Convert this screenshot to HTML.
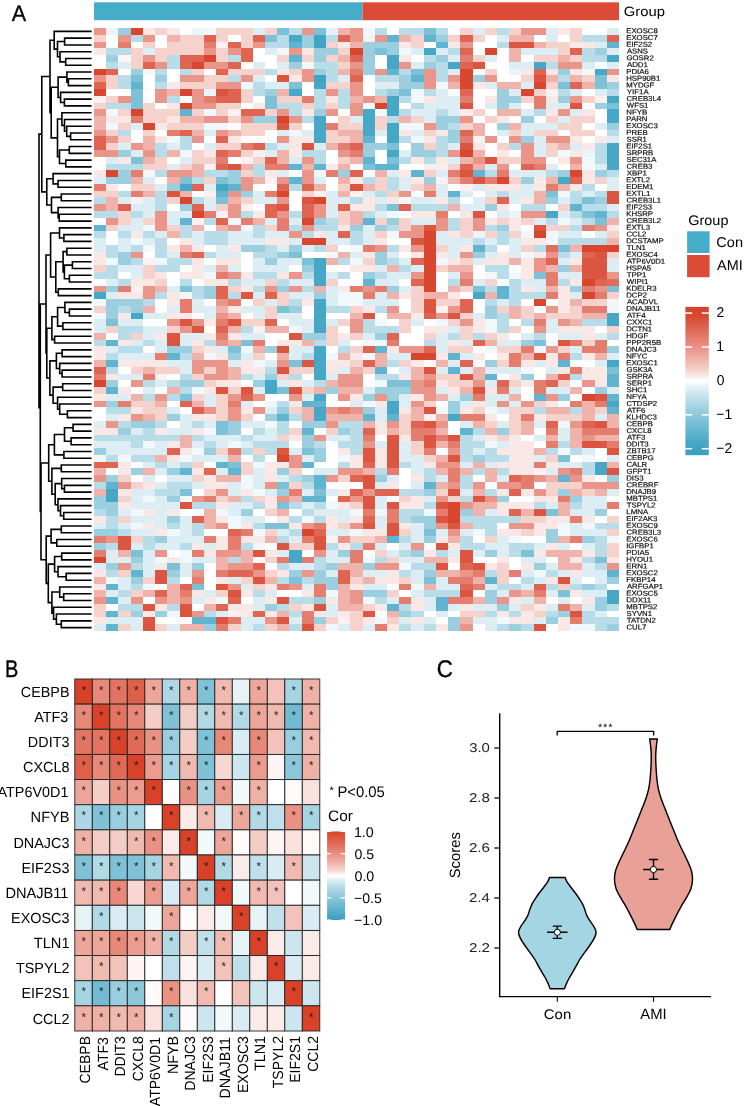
<!DOCTYPE html><html><head><meta charset="utf-8"><title>Figure</title>
<style>html,body{margin:0;padding:0;background:#fff;overflow:hidden;}svg{display:block;}text{font-family:"Liberation Sans", Arial, Helvetica, sans-serif;text-rendering:geometricPrecision;}</style></head><body>
<svg width="744" height="1106" viewBox="0 0 744 1106">
<rect x="0" y="0" width="744" height="1106" fill="#fff"/>
<text transform="translate(11.86 20.60) scale(0.9634 1)" font-size="22.38" fill="#000" stroke="#000" stroke-width="0.3">A</text>
<rect x="94.00" y="2.3" width="268.60" height="17.9" fill="#45adc9"/>
<rect x="362.60" y="2.3" width="256.40" height="17.9" fill="#dc4b36"/>
<text transform="translate(623.86 16.00) scale(1.1003 1)" font-size="13.46" fill="#000">Group</text>
<g shape-rendering="crispEdges">
<path fill="#e99589" d="M94.0 28.0H106.2V34.8H94.0ZM301.6 28.0H313.8V34.8H301.6ZM350.4 28.0H362.6V34.8H350.4ZM521.3 28.0H533.5V34.8H521.3ZM533.5 28.0H545.7V34.8H533.5ZM118.4 34.8H130.6V41.6H118.4ZM142.8 34.8H155.0V41.6H142.8ZM350.4 34.8H362.6V41.6H350.4ZM374.8 34.8H387.0V41.6H374.8ZM94.0 41.6H106.2V48.3H94.0ZM252.7 41.6H264.9V48.3H252.7ZM460.3 41.6H472.5V48.3H460.3ZM203.9 48.3H216.1V55.1H203.9ZM228.3 48.3H240.5V55.1H228.3ZM289.3 48.3H301.6V55.1H289.3ZM142.8 55.1H155.0V61.9H142.8ZM155.0 61.9H167.3V68.7H155.0ZM203.9 61.9H216.1V68.7H203.9ZM216.1 61.9H228.3V68.7H216.1ZM350.4 61.9H362.6V68.7H350.4ZM399.2 61.9H411.4V68.7H399.2ZM558.0 61.9H570.2V68.7H558.0ZM570.2 61.9H582.4V68.7H570.2ZM301.6 68.7H313.8V75.4H301.6ZM374.8 68.7H387.0V75.4H374.8ZM423.7 68.7H435.9V75.4H423.7ZM606.8 68.7H619.0V75.4H606.8ZM94.0 75.4H106.2V82.2H94.0ZM179.5 75.4H191.7V82.2H179.5ZM191.7 75.4H203.9V82.2H191.7ZM240.5 75.4H252.7V82.2H240.5ZM301.6 75.4H313.8V82.2H301.6ZM423.7 75.4H435.9V82.2H423.7ZM448.1 75.4H460.3V82.2H448.1ZM484.7 75.4H496.9V82.2H484.7ZM216.1 82.2H228.3V89.0H216.1ZM228.3 82.2H240.5V89.0H228.3ZM350.4 82.2H362.6V89.0H350.4ZM423.7 82.2H435.9V89.0H423.7ZM155.0 89.0H167.3V95.8H155.0ZM191.7 89.0H203.9V95.8H191.7ZM326.0 89.0H338.2V95.8H326.0ZM350.4 89.0H362.6V95.8H350.4ZM118.4 95.8H130.6V102.5H118.4ZM155.0 95.8H167.3V102.5H155.0ZM191.7 95.8H203.9V102.5H191.7ZM362.6 95.8H374.8V102.5H362.6ZM570.2 95.8H582.4V102.5H570.2ZM191.7 102.5H203.9V109.3H191.7ZM203.9 102.5H216.1V109.3H203.9ZM350.4 102.5H362.6V109.3H350.4ZM94.0 109.3H106.2V116.1H94.0ZM277.1 109.3H289.3V116.1H277.1ZM326.0 109.3H338.2V116.1H326.0ZM350.4 109.3H362.6V116.1H350.4ZM558.0 109.3H570.2V116.1H558.0ZM203.9 116.1H216.1V122.9H203.9ZM216.1 116.1H228.3V122.9H216.1ZM240.5 116.1H252.7V122.9H240.5ZM289.3 116.1H301.6V122.9H289.3ZM460.3 116.1H472.5V122.9H460.3ZM423.7 122.9H435.9V129.6H423.7ZM94.0 129.6H106.2V136.4H94.0ZM216.1 129.6H228.3V136.4H216.1ZM106.2 136.4H118.4V143.2H106.2ZM191.7 136.4H203.9V143.2H191.7ZM277.1 136.4H289.3V143.2H277.1ZM484.7 136.4H496.9V143.2H484.7ZM509.1 136.4H521.3V143.2H509.1ZM545.7 136.4H558.0V143.2H545.7ZM558.0 136.4H570.2V143.2H558.0ZM130.6 143.2H142.8V150.0H130.6ZM521.3 143.2H533.5V150.0H521.3ZM94.0 150.0H106.2V156.7H94.0ZM106.2 150.0H118.4V156.7H106.2ZM142.8 150.0H155.0V156.7H142.8ZM338.2 150.0H350.4V156.7H338.2ZM448.1 150.0H460.3V156.7H448.1ZM521.3 150.0H533.5V156.7H521.3ZM301.6 156.7H313.8V163.5H301.6ZM472.5 156.7H484.7V163.5H472.5ZM521.3 156.7H533.5V163.5H521.3ZM533.5 156.7H545.7V163.5H533.5ZM570.2 156.7H582.4V163.5H570.2ZM496.9 163.5H509.1V170.3H496.9ZM167.3 170.3H179.5V177.1H167.3ZM179.5 170.3H191.7V177.1H179.5ZM301.6 170.3H313.8V177.1H301.6ZM240.5 177.1H252.7V183.8H240.5ZM277.1 177.1H289.3V183.8H277.1ZM301.6 177.1H313.8V183.8H301.6ZM240.5 183.8H252.7V190.6H240.5ZM228.3 190.6H240.5V197.4H228.3ZM399.2 190.6H411.4V197.4H399.2ZM277.1 197.4H289.3V204.2H277.1ZM94.0 204.2H106.2V210.9H94.0ZM228.3 204.2H240.5V210.9H228.3ZM313.8 204.2H326.0V210.9H313.8ZM155.0 210.9H167.3V217.7H155.0ZM228.3 210.9H240.5V217.7H228.3ZM277.1 210.9H289.3V217.7H277.1ZM313.8 210.9H326.0V217.7H313.8ZM521.3 210.9H533.5V217.7H521.3ZM533.5 210.9H545.7V217.7H533.5ZM106.2 217.7H118.4V224.5H106.2ZM155.0 217.7H167.3V224.5H155.0ZM435.9 217.7H448.1V224.5H435.9ZM472.5 217.7H484.7V224.5H472.5ZM155.0 224.5H167.3V231.3H155.0ZM228.3 224.5H240.5V231.3H228.3ZM301.6 224.5H313.8V231.3H301.6ZM411.4 224.5H423.7V231.3H411.4ZM435.9 224.5H448.1V231.3H435.9ZM472.5 224.5H484.7V231.3H472.5ZM594.6 224.5H606.8V231.3H594.6ZM289.3 231.3H301.6V238.0H289.3ZM399.2 231.3H411.4V238.0H399.2ZM411.4 231.3H423.7V238.0H411.4ZM374.8 244.8H387.0V251.6H374.8ZM411.4 244.8H423.7V251.6H411.4ZM130.6 251.6H142.8V258.4H130.6ZM460.3 251.6H472.5V258.4H460.3ZM545.7 251.6H558.0V258.4H545.7ZM533.5 258.4H545.7V265.1H533.5ZM533.5 265.1H545.7V271.9H533.5ZM228.3 271.9H240.5V278.7H228.3ZM289.3 271.9H301.6V278.7H289.3ZM411.4 271.9H423.7V278.7H411.4ZM460.3 271.9H472.5V278.7H460.3ZM606.8 271.9H619.0V278.7H606.8ZM94.0 285.5H106.2V292.2H94.0ZM142.8 285.5H155.0V292.2H142.8ZM264.9 285.5H277.1V292.2H264.9ZM289.3 285.5H301.6V292.2H289.3ZM362.6 285.5H374.8V292.2H362.6ZM594.6 285.5H606.8V292.2H594.6ZM142.8 292.2H155.0V299.0H142.8ZM216.1 299.0H228.3V305.8H216.1ZM387.0 305.8H399.2V312.6H387.0ZM448.1 305.8H460.3V312.6H448.1ZM545.7 305.8H558.0V312.6H545.7ZM216.1 312.6H228.3V319.3H216.1ZM435.9 312.6H448.1V319.3H435.9ZM167.3 319.3H179.5V326.1H167.3ZM191.7 319.3H203.9V326.1H191.7ZM350.4 319.3H362.6V326.1H350.4ZM460.3 319.3H472.5V326.1H460.3ZM558.0 319.3H570.2V326.1H558.0ZM179.5 326.1H191.7V332.9H179.5ZM350.4 326.1H362.6V332.9H350.4ZM533.5 326.1H545.7V332.9H533.5ZM216.1 339.7H228.3V346.4H216.1ZM399.2 346.4H411.4V353.2H399.2ZM411.4 346.4H423.7V353.2H411.4ZM545.7 346.4H558.0V353.2H545.7ZM191.7 360.0H203.9V366.8H191.7ZM203.9 360.0H216.1V366.8H203.9ZM216.1 360.0H228.3V366.8H216.1ZM277.1 360.0H289.3V366.8H277.1ZM191.7 366.8H203.9V373.5H191.7ZM216.1 366.8H228.3V373.5H216.1ZM203.9 373.5H216.1V380.3H203.9ZM216.1 373.5H228.3V380.3H216.1ZM338.2 373.5H350.4V380.3H338.2ZM350.4 373.5H362.6V380.3H350.4ZM423.7 373.5H435.9V380.3H423.7ZM130.6 380.3H142.8V387.1H130.6ZM338.2 380.3H350.4V387.1H338.2ZM350.4 380.3H362.6V387.1H350.4ZM411.4 380.3H423.7V387.1H411.4ZM472.5 380.3H484.7V387.1H472.5ZM582.4 380.3H594.6V387.1H582.4ZM411.4 387.1H423.7V393.9H411.4ZM423.7 387.1H435.9V393.9H423.7ZM155.0 393.9H167.3V400.6H155.0ZM228.3 393.9H240.5V400.6H228.3ZM252.7 393.9H264.9V400.6H252.7ZM289.3 393.9H301.6V400.6H289.3ZM338.2 393.9H350.4V400.6H338.2ZM374.8 393.9H387.0V400.6H374.8ZM423.7 393.9H435.9V400.6H423.7ZM545.7 393.9H558.0V400.6H545.7ZM94.0 400.6H106.2V407.4H94.0ZM411.4 400.6H423.7V407.4H411.4ZM496.9 400.6H509.1V407.4H496.9ZM521.3 400.6H533.5V407.4H521.3ZM203.9 407.4H216.1V414.2H203.9ZM228.3 407.4H240.5V414.2H228.3ZM252.7 407.4H264.9V414.2H252.7ZM326.0 407.4H338.2V414.2H326.0ZM350.4 407.4H362.6V414.2H350.4ZM130.6 414.2H142.8V421.0H130.6ZM228.3 414.2H240.5V421.0H228.3ZM106.2 421.0H118.4V427.7H106.2ZM326.0 421.0H338.2V427.7H326.0ZM387.0 421.0H399.2V427.7H387.0ZM435.9 421.0H448.1V427.7H435.9ZM570.2 421.0H582.4V427.7H570.2ZM313.8 434.5H326.0V441.3H313.8ZM582.4 434.5H594.6V441.3H582.4ZM362.6 441.3H374.8V448.1H362.6ZM448.1 448.1H460.3V454.8H448.1ZM289.3 454.8H301.6V461.6H289.3ZM289.3 461.6H301.6V468.4H289.3ZM435.9 461.6H448.1V468.4H435.9ZM448.1 461.6H460.3V468.4H448.1ZM338.2 468.4H350.4V475.2H338.2ZM350.4 468.4H362.6V475.2H350.4ZM558.0 468.4H570.2V475.2H558.0ZM94.0 475.2H106.2V481.9H94.0ZM326.0 475.2H338.2V481.9H326.0ZM533.5 475.2H545.7V481.9H533.5ZM570.2 475.2H582.4V481.9H570.2ZM118.4 481.9H130.6V488.7H118.4ZM264.9 481.9H277.1V488.7H264.9ZM448.1 481.9H460.3V488.7H448.1ZM472.5 481.9H484.7V488.7H472.5ZM496.9 481.9H509.1V488.7H496.9ZM509.1 481.9H521.3V488.7H509.1ZM582.4 481.9H594.6V488.7H582.4ZM594.6 481.9H606.8V488.7H594.6ZM606.8 481.9H619.0V488.7H606.8ZM216.1 488.7H228.3V495.5H216.1ZM362.6 488.7H374.8V495.5H362.6ZM533.5 488.7H545.7V495.5H533.5ZM191.7 495.5H203.9V502.3H191.7ZM277.1 495.5H289.3V502.3H277.1ZM350.4 495.5H362.6V502.3H350.4ZM435.9 495.5H448.1V502.3H435.9ZM484.7 495.5H496.9V502.3H484.7ZM460.3 502.3H472.5V509.0H460.3ZM216.1 522.6H228.3V529.4H216.1ZM301.6 522.6H313.8V529.4H301.6ZM350.4 522.6H362.6V529.4H350.4ZM435.9 522.6H448.1V529.4H435.9ZM509.1 522.6H521.3V529.4H509.1ZM521.3 522.6H533.5V529.4H521.3ZM448.1 529.4H460.3V536.1H448.1ZM106.2 536.1H118.4V542.9H106.2ZM338.2 536.1H350.4V542.9H338.2ZM411.4 542.9H423.7V549.7H411.4ZM155.0 549.7H167.3V556.5H155.0ZM216.1 549.7H228.3V556.5H216.1ZM228.3 549.7H240.5V556.5H228.3ZM313.8 549.7H326.0V556.5H313.8ZM118.4 563.2H130.6V570.0H118.4ZM228.3 563.2H240.5V570.0H228.3ZM240.5 563.2H252.7V570.0H240.5ZM374.8 563.2H387.0V570.0H374.8ZM387.0 563.2H399.2V570.0H387.0ZM606.8 563.2H619.0V570.0H606.8ZM191.7 570.0H203.9V576.8H191.7ZM252.7 570.0H264.9V576.8H252.7ZM301.6 570.0H313.8V576.8H301.6ZM460.3 570.0H472.5V576.8H460.3ZM228.3 583.6H240.5V590.3H228.3ZM289.3 583.6H301.6V590.3H289.3ZM350.4 590.3H362.6V597.1H350.4ZM509.1 590.3H521.3V597.1H509.1ZM94.0 597.1H106.2V603.9H94.0ZM130.6 597.1H142.8V603.9H130.6ZM155.0 597.1H167.3V603.9H155.0ZM179.5 597.1H191.7V603.9H179.5ZM350.4 597.1H362.6V603.9H350.4ZM496.9 597.1H509.1V603.9H496.9ZM191.7 610.7H203.9V617.4H191.7ZM264.9 617.4H277.1V624.2H264.9ZM460.3 624.2H472.5V631.0H460.3Z"/>
<path fill="#eaf5f9" d="M106.2 28.0H118.4V34.8H106.2ZM191.7 28.0H203.9V34.8H191.7ZM509.1 68.7H521.3V75.4H509.1ZM203.9 89.0H216.1V95.8H203.9ZM582.4 150.0H594.6V156.7H582.4ZM509.1 210.9H521.3V217.7H509.1ZM472.5 231.3H484.7V238.0H472.5Z"/>
<path fill="#9bcfe0" d="M118.4 28.0H130.6V34.8H118.4ZM301.6 34.8H313.8V41.6H301.6ZM435.9 34.8H448.1V41.6H435.9ZM301.6 41.6H313.8V48.3H301.6ZM362.6 41.6H374.8V48.3H362.6ZM374.8 41.6H387.0V48.3H374.8ZM387.0 41.6H399.2V48.3H387.0ZM313.8 48.3H326.0V55.1H313.8ZM326.0 48.3H338.2V55.1H326.0ZM362.6 48.3H374.8V55.1H362.6ZM387.0 48.3H399.2V55.1H387.0ZM594.6 48.3H606.8V55.1H594.6ZM106.2 55.1H118.4V61.9H106.2ZM313.8 55.1H326.0V61.9H313.8ZM362.6 55.1H374.8V61.9H362.6ZM435.9 55.1H448.1V61.9H435.9ZM289.3 61.9H301.6V68.7H289.3ZM362.6 61.9H374.8V68.7H362.6ZM423.7 61.9H435.9V68.7H423.7ZM130.6 68.7H142.8V75.4H130.6ZM313.8 68.7H326.0V75.4H313.8ZM362.6 68.7H374.8V75.4H362.6ZM558.0 68.7H570.2V75.4H558.0ZM155.0 75.4H167.3V82.2H155.0ZM399.2 75.4H411.4V82.2H399.2ZM472.5 75.4H484.7V82.2H472.5ZM399.2 82.2H411.4V89.0H399.2ZM411.4 82.2H423.7V89.0H411.4ZM606.8 82.2H619.0V89.0H606.8ZM264.9 89.0H277.1V95.8H264.9ZM387.0 89.0H399.2V95.8H387.0ZM496.9 89.0H509.1V95.8H496.9ZM496.9 95.8H509.1V102.5H496.9ZM509.1 95.8H521.3V102.5H509.1ZM558.0 95.8H570.2V102.5H558.0ZM496.9 102.5H509.1V109.3H496.9ZM594.6 102.5H606.8V109.3H594.6ZM313.8 109.3H326.0V116.1H313.8ZM252.7 116.1H264.9V122.9H252.7ZM264.9 116.1H277.1V122.9H264.9ZM435.9 116.1H448.1V122.9H435.9ZM448.1 116.1H460.3V122.9H448.1ZM521.3 116.1H533.5V122.9H521.3ZM435.9 122.9H448.1V129.6H435.9ZM496.9 122.9H509.1V129.6H496.9ZM606.8 122.9H619.0V129.6H606.8ZM448.1 129.6H460.3V136.4H448.1ZM448.1 136.4H460.3V143.2H448.1ZM521.3 136.4H533.5V143.2H521.3ZM362.6 143.2H374.8V150.0H362.6ZM374.8 143.2H387.0V150.0H374.8ZM411.4 143.2H423.7V150.0H411.4ZM118.4 150.0H130.6V156.7H118.4ZM362.6 150.0H374.8V156.7H362.6ZM411.4 150.0H423.7V156.7H411.4ZM423.7 150.0H435.9V156.7H423.7ZM118.4 170.3H130.6V177.1H118.4ZM228.3 170.3H240.5V177.1H228.3ZM338.2 170.3H350.4V177.1H338.2ZM558.0 170.3H570.2V177.1H558.0ZM594.6 170.3H606.8V177.1H594.6ZM106.2 177.1H118.4V183.8H106.2ZM118.4 177.1H130.6V183.8H118.4ZM228.3 177.1H240.5V183.8H228.3ZM423.7 177.1H435.9V183.8H423.7ZM521.3 177.1H533.5V183.8H521.3ZM167.3 183.8H179.5V190.6H167.3ZM240.5 190.6H252.7V197.4H240.5ZM545.7 197.4H558.0V204.2H545.7ZM594.6 197.4H606.8V204.2H594.6ZM179.5 204.2H191.7V210.9H179.5ZM484.7 204.2H496.9V210.9H484.7ZM313.8 217.7H326.0V224.5H313.8ZM387.0 217.7H399.2V224.5H387.0ZM350.4 224.5H362.6V231.3H350.4ZM374.8 224.5H387.0V231.3H374.8ZM496.9 224.5H509.1V231.3H496.9ZM240.5 244.8H252.7V251.6H240.5ZM252.7 244.8H264.9V251.6H252.7ZM289.3 244.8H301.6V251.6H289.3ZM118.4 251.6H130.6V258.4H118.4ZM277.1 251.6H289.3V258.4H277.1ZM374.8 251.6H387.0V258.4H374.8ZM472.5 251.6H484.7V258.4H472.5ZM118.4 258.4H130.6V265.1H118.4ZM264.9 258.4H277.1V265.1H264.9ZM374.8 258.4H387.0V265.1H374.8ZM301.6 265.1H313.8V271.9H301.6ZM558.0 265.1H570.2V271.9H558.0ZM362.6 271.9H374.8V278.7H362.6ZM106.2 285.5H118.4V292.2H106.2ZM203.9 285.5H216.1V292.2H203.9ZM277.1 285.5H289.3V292.2H277.1ZM387.0 285.5H399.2V292.2H387.0ZM570.2 285.5H582.4V292.2H570.2ZM203.9 292.2H216.1V299.0H203.9ZM313.8 292.2H326.0V299.0H313.8ZM106.2 299.0H118.4V305.8H106.2ZM118.4 299.0H130.6V305.8H118.4ZM130.6 299.0H142.8V305.8H130.6ZM106.2 305.8H118.4V312.6H106.2ZM130.6 305.8H142.8V312.6H130.6ZM289.3 305.8H301.6V312.6H289.3ZM484.7 305.8H496.9V312.6H484.7ZM106.2 312.6H118.4V319.3H106.2ZM484.7 312.6H496.9V319.3H484.7ZM301.6 332.9H313.8V339.7H301.6ZM313.8 332.9H326.0V339.7H313.8ZM374.8 332.9H387.0V339.7H374.8ZM521.3 339.7H533.5V346.4H521.3ZM167.3 346.4H179.5V353.2H167.3ZM179.5 346.4H191.7V353.2H179.5ZM264.9 346.4H277.1V353.2H264.9ZM606.8 346.4H619.0V353.2H606.8ZM228.3 353.2H240.5V360.0H228.3ZM484.7 360.0H496.9V366.8H484.7ZM264.9 373.5H277.1V380.3H264.9ZM521.3 373.5H533.5V380.3H521.3ZM106.2 380.3H118.4V387.1H106.2ZM179.5 380.3H191.7V387.1H179.5ZM191.7 380.3H203.9V387.1H191.7ZM252.7 380.3H264.9V387.1H252.7ZM326.0 387.1H338.2V393.9H326.0ZM374.8 387.1H387.0V393.9H374.8ZM387.0 387.1H399.2V393.9H387.0ZM399.2 387.1H411.4V393.9H399.2ZM594.6 387.1H606.8V393.9H594.6ZM362.6 393.9H374.8V400.6H362.6ZM387.0 393.9H399.2V400.6H387.0ZM460.3 393.9H472.5V400.6H460.3ZM558.0 393.9H570.2V400.6H558.0ZM106.2 400.6H118.4V407.4H106.2ZM448.1 400.6H460.3V407.4H448.1ZM277.1 407.4H289.3V414.2H277.1ZM362.6 407.4H374.8V414.2H362.6ZM448.1 407.4H460.3V414.2H448.1ZM167.3 414.2H179.5V421.0H167.3ZM264.9 414.2H277.1V421.0H264.9ZM130.6 421.0H142.8V427.7H130.6ZM142.8 421.0H155.0V427.7H142.8ZM228.3 421.0H240.5V427.7H228.3ZM301.6 421.0H313.8V427.7H301.6ZM313.8 421.0H326.0V427.7H313.8ZM118.4 427.7H130.6V434.5H118.4ZM228.3 427.7H240.5V434.5H228.3ZM338.2 427.7H350.4V434.5H338.2ZM496.9 427.7H509.1V434.5H496.9ZM301.6 434.5H313.8V441.3H301.6ZM301.6 441.3H313.8V448.1H301.6ZM94.0 448.1H106.2V454.8H94.0ZM203.9 448.1H216.1V454.8H203.9ZM313.8 448.1H326.0V454.8H313.8ZM313.8 454.8H326.0V461.6H313.8ZM472.5 454.8H484.7V461.6H472.5ZM130.6 468.4H142.8V475.2H130.6ZM167.3 468.4H179.5V475.2H167.3ZM277.1 468.4H289.3V475.2H277.1ZM106.2 475.2H118.4V481.9H106.2ZM301.6 475.2H313.8V481.9H301.6ZM374.8 475.2H387.0V481.9H374.8ZM606.8 475.2H619.0V481.9H606.8ZM277.1 488.7H289.3V495.5H277.1ZM423.7 488.7H435.9V495.5H423.7ZM558.0 488.7H570.2V495.5H558.0ZM94.0 495.5H106.2V502.3H94.0ZM167.3 495.5H179.5V502.3H167.3ZM496.9 495.5H509.1V502.3H496.9ZM570.2 495.5H582.4V502.3H570.2ZM94.0 502.3H106.2V509.0H94.0ZM106.2 502.3H118.4V509.0H106.2ZM106.2 509.0H118.4V515.8H106.2ZM240.5 509.0H252.7V515.8H240.5ZM460.3 509.0H472.5V515.8H460.3ZM594.6 509.0H606.8V515.8H594.6ZM167.3 515.8H179.5V522.6H167.3ZM411.4 515.8H423.7V522.6H411.4ZM423.7 515.8H435.9V522.6H423.7ZM423.7 522.6H435.9V529.4H423.7ZM94.0 529.4H106.2V536.1H94.0ZM106.2 529.4H118.4V536.1H106.2ZM545.7 529.4H558.0V536.1H545.7ZM155.0 536.1H167.3V542.9H155.0ZM423.7 536.1H435.9V542.9H423.7ZM545.7 536.1H558.0V542.9H545.7ZM582.4 536.1H594.6V542.9H582.4ZM94.0 542.9H106.2V549.7H94.0ZM338.2 549.7H350.4V556.5H338.2ZM411.4 549.7H423.7V556.5H411.4ZM484.7 549.7H496.9V556.5H484.7ZM130.6 556.5H142.8V563.2H130.6ZM106.2 563.2H118.4V570.0H106.2ZM191.7 563.2H203.9V570.0H191.7ZM326.0 563.2H338.2V570.0H326.0ZM362.6 563.2H374.8V570.0H362.6ZM533.5 563.2H545.7V570.0H533.5ZM167.3 570.0H179.5V576.8H167.3ZM289.3 570.0H301.6V576.8H289.3ZM313.8 570.0H326.0V576.8H313.8ZM423.7 570.0H435.9V576.8H423.7ZM130.6 576.8H142.8V583.6H130.6ZM313.8 576.8H326.0V583.6H313.8ZM326.0 576.8H338.2V583.6H326.0ZM606.8 576.8H619.0V583.6H606.8ZM326.0 583.6H338.2V590.3H326.0ZM582.4 583.6H594.6V590.3H582.4ZM362.6 590.3H374.8V597.1H362.6ZM374.8 590.3H387.0V597.1H374.8ZM484.7 590.3H496.9V597.1H484.7ZM313.8 597.1H326.0V603.9H313.8ZM484.7 597.1H496.9V603.9H484.7ZM594.6 597.1H606.8V603.9H594.6ZM264.9 603.9H277.1V610.7H264.9ZM496.9 603.9H509.1V610.7H496.9ZM594.6 603.9H606.8V610.7H594.6ZM130.6 610.7H142.8V617.4H130.6ZM155.0 610.7H167.3V617.4H155.0ZM399.2 610.7H411.4V617.4H399.2ZM558.0 610.7H570.2V617.4H558.0ZM313.8 617.4H326.0V624.2H313.8ZM448.1 617.4H460.3V624.2H448.1ZM545.7 617.4H558.0V624.2H545.7ZM203.9 624.2H216.1V631.0H203.9ZM448.1 624.2H460.3V631.0H448.1ZM509.1 624.2H521.3V631.0H509.1ZM606.8 624.2H619.0V631.0H606.8Z"/>
<path fill="#d94630" d="M130.6 28.0H142.8V34.8H130.6ZM350.4 48.3H362.6V55.1H350.4ZM484.7 48.3H496.9V55.1H484.7ZM203.9 55.1H216.1V61.9H203.9ZM191.7 61.9H203.9V68.7H191.7ZM94.0 68.7H106.2V75.4H94.0ZM460.3 68.7H472.5V75.4H460.3ZM460.3 75.4H472.5V82.2H460.3ZM460.3 82.2H472.5V89.0H460.3ZM533.5 82.2H545.7V89.0H533.5ZM94.0 89.0H106.2V95.8H94.0ZM179.5 89.0H191.7V95.8H179.5ZM521.3 89.0H533.5V95.8H521.3ZM179.5 102.5H191.7V109.3H179.5ZM374.8 102.5H387.0V109.3H374.8ZM130.6 109.3H142.8V116.1H130.6ZM277.1 116.1H289.3V122.9H277.1ZM142.8 122.9H155.0V129.6H142.8ZM460.3 150.0H472.5V156.7H460.3ZM106.2 170.3H118.4V177.1H106.2ZM570.2 170.3H582.4V177.1H570.2ZM496.9 177.1H509.1V183.8H496.9ZM277.1 190.6H289.3V197.4H277.1ZM179.5 197.4H191.7V204.2H179.5ZM313.8 197.4H326.0V204.2H313.8ZM191.7 210.9H203.9V217.7H191.7ZM301.6 217.7H313.8V224.5H301.6ZM423.7 231.3H435.9V238.0H423.7ZM533.5 231.3H545.7V238.0H533.5ZM301.6 238.0H313.8V244.8H301.6ZM313.8 238.0H326.0V244.8H313.8ZM423.7 238.0H435.9V244.8H423.7ZM423.7 244.8H435.9V251.6H423.7ZM582.4 244.8H594.6V251.6H582.4ZM594.6 244.8H606.8V251.6H594.6ZM606.8 244.8H619.0V251.6H606.8ZM423.7 251.6H435.9V258.4H423.7ZM423.7 258.4H435.9V265.1H423.7ZM423.7 265.1H435.9V271.9H423.7ZM423.7 271.9H435.9V278.7H423.7ZM423.7 278.7H435.9V285.5H423.7ZM582.4 278.7H594.6V285.5H582.4ZM423.7 285.5H435.9V292.2H423.7ZM582.4 292.2H594.6V299.0H582.4ZM533.5 299.0H545.7V305.8H533.5ZM411.4 353.2H423.7V360.0H411.4ZM423.7 353.2H435.9V360.0H423.7ZM94.0 380.3H106.2V387.1H94.0ZM582.4 393.9H594.6V400.6H582.4ZM277.1 454.8H289.3V461.6H277.1ZM448.1 502.3H460.3V509.0H448.1ZM448.1 509.0H460.3V515.8H448.1ZM448.1 515.8H460.3V522.6H448.1ZM301.6 529.4H313.8V536.1H301.6ZM94.0 556.5H106.2V563.2H94.0Z"/>
<path fill="#fae8e6" d="M142.8 28.0H155.0V34.8H142.8ZM167.3 28.0H179.5V34.8H167.3ZM558.0 28.0H570.2V34.8H558.0ZM338.2 41.6H350.4V48.3H338.2ZM399.2 41.6H411.4V48.3H399.2ZM448.1 41.6H460.3V48.3H448.1ZM570.2 41.6H582.4V48.3H570.2ZM582.4 41.6H594.6V48.3H582.4ZM94.0 48.3H106.2V55.1H94.0ZM301.6 48.3H313.8V55.1H301.6ZM399.2 55.1H411.4V61.9H399.2ZM277.1 68.7H289.3V75.4H277.1ZM521.3 68.7H533.5V75.4H521.3ZM545.7 68.7H558.0V75.4H545.7ZM570.2 68.7H582.4V75.4H570.2ZM289.3 75.4H301.6V82.2H289.3ZM606.8 75.4H619.0V82.2H606.8ZM167.3 82.2H179.5V89.0H167.3ZM472.5 82.2H484.7V89.0H472.5ZM326.0 95.8H338.2V102.5H326.0ZM423.7 95.8H435.9V102.5H423.7ZM484.7 95.8H496.9V102.5H484.7ZM545.7 95.8H558.0V102.5H545.7ZM167.3 102.5H179.5V109.3H167.3ZM252.7 102.5H264.9V109.3H252.7ZM301.6 109.3H313.8V116.1H301.6ZM545.7 109.3H558.0V116.1H545.7ZM582.4 109.3H594.6V116.1H582.4ZM106.2 116.1H118.4V122.9H106.2ZM118.4 116.1H130.6V122.9H118.4ZM167.3 116.1H179.5V122.9H167.3ZM496.9 116.1H509.1V122.9H496.9ZM155.0 122.9H167.3V129.6H155.0ZM399.2 129.6H411.4V136.4H399.2ZM435.9 129.6H448.1V136.4H435.9ZM155.0 136.4H167.3V143.2H155.0ZM228.3 136.4H240.5V143.2H228.3ZM289.3 136.4H301.6V143.2H289.3ZM301.6 136.4H313.8V143.2H301.6ZM423.7 136.4H435.9V143.2H423.7ZM570.2 136.4H582.4V143.2H570.2ZM594.6 136.4H606.8V143.2H594.6ZM289.3 143.2H301.6V150.0H289.3ZM472.5 143.2H484.7V150.0H472.5ZM582.4 143.2H594.6V150.0H582.4ZM203.9 150.0H216.1V156.7H203.9ZM289.3 150.0H301.6V156.7H289.3ZM496.9 150.0H509.1V156.7H496.9ZM570.2 150.0H582.4V156.7H570.2ZM118.4 156.7H130.6V163.5H118.4ZM411.4 156.7H423.7V163.5H411.4ZM435.9 156.7H448.1V163.5H435.9ZM558.0 156.7H570.2V163.5H558.0ZM326.0 163.5H338.2V170.3H326.0ZM94.0 170.3H106.2V177.1H94.0ZM264.9 170.3H277.1V177.1H264.9ZM399.2 170.3H411.4V177.1H399.2ZM582.4 170.3H594.6V177.1H582.4ZM350.4 177.1H362.6V183.8H350.4ZM411.4 177.1H423.7V183.8H411.4ZM533.5 177.1H545.7V183.8H533.5ZM582.4 177.1H594.6V183.8H582.4ZM106.2 183.8H118.4V190.6H106.2ZM484.7 183.8H496.9V190.6H484.7ZM496.9 183.8H509.1V190.6H496.9ZM509.1 183.8H521.3V190.6H509.1ZM533.5 183.8H545.7V190.6H533.5ZM570.2 183.8H582.4V190.6H570.2ZM362.6 197.4H374.8V204.2H362.6ZM387.0 197.4H399.2V204.2H387.0ZM435.9 197.4H448.1V204.2H435.9ZM521.3 197.4H533.5V204.2H521.3ZM350.4 204.2H362.6V210.9H350.4ZM362.6 204.2H374.8V210.9H362.6ZM496.9 204.2H509.1V210.9H496.9ZM252.7 210.9H264.9V217.7H252.7ZM411.4 210.9H423.7V217.7H411.4ZM423.7 210.9H435.9V217.7H423.7ZM460.3 210.9H472.5V217.7H460.3ZM484.7 217.7H496.9V224.5H484.7ZM509.1 217.7H521.3V224.5H509.1ZM338.2 224.5H350.4V231.3H338.2ZM509.1 224.5H521.3V231.3H509.1ZM606.8 224.5H619.0V231.3H606.8ZM130.6 231.3H142.8V238.0H130.6ZM313.8 231.3H326.0V238.0H313.8ZM448.1 231.3H460.3V238.0H448.1ZM179.5 238.0H191.7V244.8H179.5ZM264.9 238.0H277.1V244.8H264.9ZM277.1 238.0H289.3V244.8H277.1ZM374.8 238.0H387.0V244.8H374.8ZM521.3 238.0H533.5V244.8H521.3ZM533.5 238.0H545.7V244.8H533.5ZM167.3 244.8H179.5V251.6H167.3ZM191.7 244.8H203.9V251.6H191.7ZM228.3 244.8H240.5V251.6H228.3ZM399.2 244.8H411.4V251.6H399.2ZM460.3 244.8H472.5V251.6H460.3ZM94.0 251.6H106.2V258.4H94.0ZM362.6 251.6H374.8V258.4H362.6ZM411.4 251.6H423.7V258.4H411.4ZM435.9 251.6H448.1V258.4H435.9ZM496.9 251.6H509.1V258.4H496.9ZM533.5 251.6H545.7V258.4H533.5ZM94.0 258.4H106.2V265.1H94.0ZM191.7 258.4H203.9V265.1H191.7ZM216.1 258.4H228.3V265.1H216.1ZM228.3 258.4H240.5V265.1H228.3ZM448.1 258.4H460.3V265.1H448.1ZM484.7 258.4H496.9V265.1H484.7ZM496.9 258.4H509.1V265.1H496.9ZM521.3 258.4H533.5V265.1H521.3ZM570.2 258.4H582.4V265.1H570.2ZM191.7 265.1H203.9V271.9H191.7ZM350.4 265.1H362.6V271.9H350.4ZM362.6 265.1H374.8V271.9H362.6ZM521.3 265.1H533.5V271.9H521.3ZM155.0 271.9H167.3V278.7H155.0ZM179.5 271.9H191.7V278.7H179.5ZM191.7 271.9H203.9V278.7H191.7ZM240.5 271.9H252.7V278.7H240.5ZM277.1 271.9H289.3V278.7H277.1ZM521.3 271.9H533.5V278.7H521.3ZM130.6 278.7H142.8V285.5H130.6ZM142.8 278.7H155.0V285.5H142.8ZM203.9 278.7H216.1V285.5H203.9ZM216.1 278.7H228.3V285.5H216.1ZM570.2 278.7H582.4V285.5H570.2ZM240.5 285.5H252.7V292.2H240.5ZM338.2 285.5H350.4V292.2H338.2ZM521.3 285.5H533.5V292.2H521.3ZM558.0 285.5H570.2V292.2H558.0ZM118.4 292.2H130.6V299.0H118.4ZM130.6 292.2H142.8V299.0H130.6ZM167.3 292.2H179.5V299.0H167.3ZM399.2 292.2H411.4V299.0H399.2ZM448.1 292.2H460.3V299.0H448.1ZM558.0 292.2H570.2V299.0H558.0ZM167.3 299.0H179.5V305.8H167.3ZM301.6 299.0H313.8V305.8H301.6ZM558.0 299.0H570.2V305.8H558.0ZM228.3 305.8H240.5V312.6H228.3ZM362.6 305.8H374.8V312.6H362.6ZM558.0 305.8H570.2V312.6H558.0ZM118.4 312.6H130.6V319.3H118.4ZM167.3 312.6H179.5V319.3H167.3ZM179.5 312.6H191.7V319.3H179.5ZM411.4 312.6H423.7V319.3H411.4ZM203.9 319.3H216.1V326.1H203.9ZM472.5 319.3H484.7V326.1H472.5ZM423.7 326.1H435.9V332.9H423.7ZM435.9 326.1H448.1V332.9H435.9ZM472.5 326.1H484.7V332.9H472.5ZM558.0 326.1H570.2V332.9H558.0ZM570.2 326.1H582.4V332.9H570.2ZM582.4 326.1H594.6V332.9H582.4ZM155.0 332.9H167.3V339.7H155.0ZM203.9 332.9H216.1V339.7H203.9ZM228.3 332.9H240.5V339.7H228.3ZM338.2 332.9H350.4V339.7H338.2ZM496.9 332.9H509.1V339.7H496.9ZM582.4 332.9H594.6V339.7H582.4ZM118.4 339.7H130.6V346.4H118.4ZM191.7 339.7H203.9V346.4H191.7ZM277.1 339.7H289.3V346.4H277.1ZM289.3 339.7H301.6V346.4H289.3ZM448.1 339.7H460.3V346.4H448.1ZM94.0 346.4H106.2V353.2H94.0ZM203.9 346.4H216.1V353.2H203.9ZM387.0 346.4H399.2V353.2H387.0ZM94.0 353.2H106.2V360.0H94.0ZM216.1 353.2H228.3V360.0H216.1ZM350.4 353.2H362.6V360.0H350.4ZM435.9 353.2H448.1V360.0H435.9ZM472.5 353.2H484.7V360.0H472.5ZM496.9 353.2H509.1V360.0H496.9ZM545.7 353.2H558.0V360.0H545.7ZM582.4 353.2H594.6V360.0H582.4ZM118.4 360.0H130.6V366.8H118.4ZM130.6 360.0H142.8V366.8H130.6ZM142.8 360.0H155.0V366.8H142.8ZM155.0 360.0H167.3V366.8H155.0ZM240.5 360.0H252.7V366.8H240.5ZM326.0 360.0H338.2V366.8H326.0ZM338.2 360.0H350.4V366.8H338.2ZM411.4 360.0H423.7V366.8H411.4ZM521.3 360.0H533.5V366.8H521.3ZM545.7 360.0H558.0V366.8H545.7ZM240.5 366.8H252.7V373.5H240.5ZM252.7 366.8H264.9V373.5H252.7ZM326.0 366.8H338.2V373.5H326.0ZM558.0 366.8H570.2V373.5H558.0ZM582.4 366.8H594.6V373.5H582.4ZM594.6 366.8H606.8V373.5H594.6ZM106.2 373.5H118.4V380.3H106.2ZM399.2 373.5H411.4V380.3H399.2ZM509.1 373.5H521.3V380.3H509.1ZM582.4 373.5H594.6V380.3H582.4ZM594.6 373.5H606.8V380.3H594.6ZM216.1 380.3H228.3V387.1H216.1ZM228.3 380.3H240.5V387.1H228.3ZM289.3 380.3H301.6V387.1H289.3ZM435.9 380.3H448.1V387.1H435.9ZM521.3 380.3H533.5V387.1H521.3ZM594.6 380.3H606.8V387.1H594.6ZM118.4 387.1H130.6V393.9H118.4ZM203.9 387.1H216.1V393.9H203.9ZM448.1 387.1H460.3V393.9H448.1ZM484.7 387.1H496.9V393.9H484.7ZM94.0 393.9H106.2V400.6H94.0ZM350.4 393.9H362.6V400.6H350.4ZM411.4 393.9H423.7V400.6H411.4ZM289.3 400.6H301.6V407.4H289.3ZM374.8 400.6H387.0V407.4H374.8ZM472.5 400.6H484.7V407.4H472.5ZM545.7 400.6H558.0V407.4H545.7ZM130.6 407.4H142.8V414.2H130.6ZM240.5 407.4H252.7V414.2H240.5ZM399.2 407.4H411.4V414.2H399.2ZM460.3 407.4H472.5V414.2H460.3ZM118.4 414.2H130.6V421.0H118.4ZM191.7 414.2H203.9V421.0H191.7ZM203.9 414.2H216.1V421.0H203.9ZM484.7 414.2H496.9V421.0H484.7ZM533.5 414.2H545.7V421.0H533.5ZM374.8 421.0H387.0V427.7H374.8ZM94.0 427.7H106.2V434.5H94.0ZM106.2 427.7H118.4V434.5H106.2ZM155.0 427.7H167.3V434.5H155.0ZM191.7 427.7H203.9V434.5H191.7ZM374.8 427.7H387.0V434.5H374.8ZM289.3 434.5H301.6V441.3H289.3ZM399.2 434.5H411.4V441.3H399.2ZM484.7 434.5H496.9V441.3H484.7ZM509.1 434.5H521.3V441.3H509.1ZM167.3 441.3H179.5V448.1H167.3ZM509.1 441.3H521.3V448.1H509.1ZM521.3 441.3H533.5V448.1H521.3ZM179.5 448.1H191.7V454.8H179.5ZM338.2 448.1H350.4V454.8H338.2ZM374.8 448.1H387.0V454.8H374.8ZM496.9 448.1H509.1V454.8H496.9ZM509.1 448.1H521.3V454.8H509.1ZM521.3 448.1H533.5V454.8H521.3ZM167.3 454.8H179.5V461.6H167.3ZM350.4 454.8H362.6V461.6H350.4ZM374.8 454.8H387.0V461.6H374.8ZM509.1 454.8H521.3V461.6H509.1ZM521.3 454.8H533.5V461.6H521.3ZM118.4 461.6H130.6V468.4H118.4ZM264.9 461.6H277.1V468.4H264.9ZM277.1 461.6H289.3V468.4H277.1ZM350.4 461.6H362.6V468.4H350.4ZM374.8 461.6H387.0V468.4H374.8ZM423.7 461.6H435.9V468.4H423.7ZM496.9 461.6H509.1V468.4H496.9ZM509.1 461.6H521.3V468.4H509.1ZM521.3 461.6H533.5V468.4H521.3ZM545.7 461.6H558.0V468.4H545.7ZM118.4 468.4H130.6V475.2H118.4ZM191.7 468.4H203.9V475.2H191.7ZM264.9 468.4H277.1V475.2H264.9ZM509.1 468.4H521.3V475.2H509.1ZM521.3 468.4H533.5V475.2H521.3ZM203.9 475.2H216.1V481.9H203.9ZM264.9 475.2H277.1V481.9H264.9ZM411.4 475.2H423.7V481.9H411.4ZM582.4 475.2H594.6V481.9H582.4ZM142.8 481.9H155.0V488.7H142.8ZM203.9 481.9H216.1V488.7H203.9ZM216.1 481.9H228.3V488.7H216.1ZM387.0 481.9H399.2V488.7H387.0ZM118.4 488.7H130.6V495.5H118.4ZM240.5 488.7H252.7V495.5H240.5ZM338.2 488.7H350.4V495.5H338.2ZM496.9 488.7H509.1V495.5H496.9ZM521.3 488.7H533.5V495.5H521.3ZM264.9 495.5H277.1V502.3H264.9ZM411.4 495.5H423.7V502.3H411.4ZM533.5 495.5H545.7V502.3H533.5ZM545.7 495.5H558.0V502.3H545.7ZM118.4 502.3H130.6V509.0H118.4ZM216.1 502.3H228.3V509.0H216.1ZM264.9 502.3H277.1V509.0H264.9ZM338.2 502.3H350.4V509.0H338.2ZM399.2 502.3H411.4V509.0H399.2ZM411.4 502.3H423.7V509.0H411.4ZM496.9 502.3H509.1V509.0H496.9ZM509.1 502.3H521.3V509.0H509.1ZM521.3 502.3H533.5V509.0H521.3ZM142.8 509.0H155.0V515.8H142.8ZM167.3 509.0H179.5V515.8H167.3ZM496.9 509.0H509.1V515.8H496.9ZM94.0 515.8H106.2V522.6H94.0ZM216.1 515.8H228.3V522.6H216.1ZM277.1 515.8H289.3V522.6H277.1ZM326.0 515.8H338.2V522.6H326.0ZM350.4 515.8H362.6V522.6H350.4ZM545.7 515.8H558.0V522.6H545.7ZM558.0 515.8H570.2V522.6H558.0ZM582.4 515.8H594.6V522.6H582.4ZM142.8 522.6H155.0V529.4H142.8ZM240.5 522.6H252.7V529.4H240.5ZM289.3 522.6H301.6V529.4H289.3ZM326.0 522.6H338.2V529.4H326.0ZM399.2 522.6H411.4V529.4H399.2ZM533.5 522.6H545.7V529.4H533.5ZM545.7 522.6H558.0V529.4H545.7ZM155.0 529.4H167.3V536.1H155.0ZM362.6 529.4H374.8V536.1H362.6ZM374.8 529.4H387.0V536.1H374.8ZM496.9 529.4H509.1V536.1H496.9ZM509.1 529.4H521.3V536.1H509.1ZM533.5 529.4H545.7V536.1H533.5ZM216.1 536.1H228.3V542.9H216.1ZM240.5 536.1H252.7V542.9H240.5ZM252.7 536.1H264.9V542.9H252.7ZM435.9 536.1H448.1V542.9H435.9ZM191.7 542.9H203.9V549.7H191.7ZM216.1 542.9H228.3V549.7H216.1ZM338.2 542.9H350.4V549.7H338.2ZM448.1 542.9H460.3V549.7H448.1ZM545.7 542.9H558.0V549.7H545.7ZM203.9 549.7H216.1V556.5H203.9ZM264.9 549.7H277.1V556.5H264.9ZM423.7 549.7H435.9V556.5H423.7ZM533.5 549.7H545.7V556.5H533.5ZM582.4 549.7H594.6V556.5H582.4ZM167.3 556.5H179.5V563.2H167.3ZM448.1 556.5H460.3V563.2H448.1ZM496.9 556.5H509.1V563.2H496.9ZM570.2 556.5H582.4V563.2H570.2ZM606.8 556.5H619.0V563.2H606.8ZM155.0 563.2H167.3V570.0H155.0ZM484.7 563.2H496.9V570.0H484.7ZM521.3 563.2H533.5V570.0H521.3ZM94.0 570.0H106.2V576.8H94.0ZM277.1 570.0H289.3V576.8H277.1ZM387.0 570.0H399.2V576.8H387.0ZM570.2 570.0H582.4V576.8H570.2ZM216.1 576.8H228.3V583.6H216.1ZM374.8 576.8H387.0V583.6H374.8ZM387.0 576.8H399.2V583.6H387.0ZM545.7 576.8H558.0V583.6H545.7ZM94.0 583.6H106.2V590.3H94.0ZM264.9 583.6H277.1V590.3H264.9ZM350.4 583.6H362.6V590.3H350.4ZM191.7 590.3H203.9V597.1H191.7ZM240.5 590.3H252.7V597.1H240.5ZM301.6 590.3H313.8V597.1H301.6ZM570.2 590.3H582.4V597.1H570.2ZM203.9 597.1H216.1V603.9H203.9ZM264.9 597.1H277.1V603.9H264.9ZM326.0 597.1H338.2V603.9H326.0ZM411.4 597.1H423.7V603.9H411.4ZM509.1 597.1H521.3V603.9H509.1ZM582.4 597.1H594.6V603.9H582.4ZM155.0 603.9H167.3V610.7H155.0ZM228.3 603.9H240.5V610.7H228.3ZM240.5 603.9H252.7V610.7H240.5ZM301.6 603.9H313.8V610.7H301.6ZM374.8 603.9H387.0V610.7H374.8ZM411.4 603.9H423.7V610.7H411.4ZM460.3 603.9H472.5V610.7H460.3ZM533.5 603.9H545.7V610.7H533.5ZM142.8 610.7H155.0V617.4H142.8ZM240.5 610.7H252.7V617.4H240.5ZM264.9 610.7H277.1V617.4H264.9ZM313.8 610.7H326.0V617.4H313.8ZM338.2 610.7H350.4V617.4H338.2ZM496.9 610.7H509.1V617.4H496.9ZM521.3 610.7H533.5V617.4H521.3ZM94.0 617.4H106.2V624.2H94.0ZM362.6 617.4H374.8V624.2H362.6ZM411.4 617.4H423.7V624.2H411.4ZM509.1 617.4H521.3V624.2H509.1ZM521.3 617.4H533.5V624.2H521.3ZM558.0 617.4H570.2V624.2H558.0ZM387.0 624.2H399.2V631.0H387.0ZM435.9 624.2H448.1V631.0H435.9ZM558.0 624.2H570.2V631.0H558.0Z"/>
<path fill="#f6d2cc" d="M155.0 28.0H167.3V34.8H155.0ZM216.1 28.0H228.3V34.8H216.1ZM228.3 28.0H240.5V34.8H228.3ZM240.5 28.0H252.7V34.8H240.5ZM264.9 28.0H277.1V34.8H264.9ZM460.3 28.0H472.5V34.8H460.3ZM484.7 28.0H496.9V34.8H484.7ZM509.1 28.0H521.3V34.8H509.1ZM570.2 28.0H582.4V34.8H570.2ZM94.0 34.8H106.2V41.6H94.0ZM179.5 34.8H191.7V41.6H179.5ZM191.7 34.8H203.9V41.6H191.7ZM216.1 34.8H228.3V41.6H216.1ZM240.5 34.8H252.7V41.6H240.5ZM411.4 34.8H423.7V41.6H411.4ZM448.1 34.8H460.3V41.6H448.1ZM472.5 34.8H484.7V41.6H472.5ZM570.2 34.8H582.4V41.6H570.2ZM142.8 41.6H155.0V48.3H142.8ZM167.3 41.6H179.5V48.3H167.3ZM179.5 41.6H191.7V48.3H179.5ZM191.7 41.6H203.9V48.3H191.7ZM240.5 41.6H252.7V48.3H240.5ZM326.0 41.6H338.2V48.3H326.0ZM411.4 41.6H423.7V48.3H411.4ZM545.7 41.6H558.0V48.3H545.7ZM558.0 41.6H570.2V48.3H558.0ZM130.6 48.3H142.8V55.1H130.6ZM155.0 48.3H167.3V55.1H155.0ZM167.3 48.3H179.5V55.1H167.3ZM179.5 48.3H191.7V55.1H179.5ZM191.7 48.3H203.9V55.1H191.7ZM216.1 48.3H228.3V55.1H216.1ZM338.2 48.3H350.4V55.1H338.2ZM558.0 48.3H570.2V55.1H558.0ZM130.6 55.1H142.8V61.9H130.6ZM155.0 55.1H167.3V61.9H155.0ZM216.1 55.1H228.3V61.9H216.1ZM277.1 55.1H289.3V61.9H277.1ZM301.6 55.1H313.8V61.9H301.6ZM326.0 55.1H338.2V61.9H326.0ZM472.5 55.1H484.7V61.9H472.5ZM533.5 55.1H545.7V61.9H533.5ZM545.7 55.1H558.0V61.9H545.7ZM570.2 55.1H582.4V61.9H570.2ZM130.6 61.9H142.8V68.7H130.6ZM338.2 61.9H350.4V68.7H338.2ZM191.7 68.7H203.9V75.4H191.7ZM228.3 68.7H240.5V75.4H228.3ZM240.5 68.7H252.7V75.4H240.5ZM252.7 68.7H264.9V75.4H252.7ZM289.3 68.7H301.6V75.4H289.3ZM484.7 68.7H496.9V75.4H484.7ZM106.2 75.4H118.4V82.2H106.2ZM203.9 75.4H216.1V82.2H203.9ZM216.1 75.4H228.3V82.2H216.1ZM521.3 75.4H533.5V82.2H521.3ZM582.4 75.4H594.6V82.2H582.4ZM106.2 82.2H118.4V89.0H106.2ZM179.5 82.2H191.7V89.0H179.5ZM191.7 82.2H203.9V89.0H191.7ZM203.9 82.2H216.1V89.0H203.9ZM326.0 82.2H338.2V89.0H326.0ZM338.2 82.2H350.4V89.0H338.2ZM545.7 82.2H558.0V89.0H545.7ZM240.5 89.0H252.7V95.8H240.5ZM533.5 89.0H545.7V95.8H533.5ZM106.2 95.8H118.4V102.5H106.2ZM240.5 95.8H252.7V102.5H240.5ZM277.1 95.8H289.3V102.5H277.1ZM289.3 95.8H301.6V102.5H289.3ZM521.3 95.8H533.5V102.5H521.3ZM582.4 95.8H594.6V102.5H582.4ZM94.0 102.5H106.2V109.3H94.0ZM142.8 102.5H155.0V109.3H142.8ZM216.1 102.5H228.3V109.3H216.1ZM228.3 102.5H240.5V109.3H228.3ZM301.6 102.5H313.8V109.3H301.6ZM326.0 102.5H338.2V109.3H326.0ZM118.4 109.3H130.6V116.1H118.4ZM142.8 109.3H155.0V116.1H142.8ZM155.0 109.3H167.3V116.1H155.0ZM167.3 109.3H179.5V116.1H167.3ZM191.7 109.3H203.9V116.1H191.7ZM216.1 109.3H228.3V116.1H216.1ZM264.9 109.3H277.1V116.1H264.9ZM472.5 109.3H484.7V116.1H472.5ZM142.8 116.1H155.0V122.9H142.8ZM155.0 116.1H167.3V122.9H155.0ZM228.3 116.1H240.5V122.9H228.3ZM338.2 116.1H350.4V122.9H338.2ZM374.8 116.1H387.0V122.9H374.8ZM411.4 116.1H423.7V122.9H411.4ZM484.7 116.1H496.9V122.9H484.7ZM545.7 116.1H558.0V122.9H545.7ZM570.2 116.1H582.4V122.9H570.2ZM582.4 116.1H594.6V122.9H582.4ZM118.4 122.9H130.6V129.6H118.4ZM167.3 122.9H179.5V129.6H167.3ZM179.5 122.9H191.7V129.6H179.5ZM191.7 122.9H203.9V129.6H191.7ZM240.5 122.9H252.7V129.6H240.5ZM252.7 122.9H264.9V129.6H252.7ZM264.9 122.9H277.1V129.6H264.9ZM289.3 122.9H301.6V129.6H289.3ZM338.2 122.9H350.4V129.6H338.2ZM350.4 122.9H362.6V129.6H350.4ZM374.8 122.9H387.0V129.6H374.8ZM460.3 122.9H472.5V129.6H460.3ZM558.0 122.9H570.2V129.6H558.0ZM570.2 122.9H582.4V129.6H570.2ZM106.2 129.6H118.4V136.4H106.2ZM142.8 129.6H155.0V136.4H142.8ZM240.5 129.6H252.7V136.4H240.5ZM252.7 129.6H264.9V136.4H252.7ZM326.0 129.6H338.2V136.4H326.0ZM423.7 129.6H435.9V136.4H423.7ZM509.1 129.6H521.3V136.4H509.1ZM533.5 129.6H545.7V136.4H533.5ZM545.7 129.6H558.0V136.4H545.7ZM570.2 129.6H582.4V136.4H570.2ZM582.4 129.6H594.6V136.4H582.4ZM118.4 136.4H130.6V143.2H118.4ZM326.0 136.4H338.2V143.2H326.0ZM338.2 136.4H350.4V143.2H338.2ZM106.2 143.2H118.4V150.0H106.2ZM216.1 143.2H228.3V150.0H216.1ZM228.3 143.2H240.5V150.0H228.3ZM423.7 143.2H435.9V150.0H423.7ZM496.9 143.2H509.1V150.0H496.9ZM545.7 143.2H558.0V150.0H545.7ZM191.7 150.0H203.9V156.7H191.7ZM240.5 150.0H252.7V156.7H240.5ZM545.7 150.0H558.0V156.7H545.7ZM155.0 156.7H167.3V163.5H155.0ZM191.7 156.7H203.9V163.5H191.7ZM203.9 156.7H216.1V163.5H203.9ZM252.7 156.7H264.9V163.5H252.7ZM338.2 156.7H350.4V163.5H338.2ZM496.9 156.7H509.1V163.5H496.9ZM509.1 156.7H521.3V163.5H509.1ZM142.8 163.5H155.0V170.3H142.8ZM155.0 163.5H167.3V170.3H155.0ZM179.5 163.5H191.7V170.3H179.5ZM448.1 163.5H460.3V170.3H448.1ZM240.5 170.3H252.7V177.1H240.5ZM423.7 170.3H435.9V177.1H423.7ZM203.9 177.1H216.1V183.8H203.9ZM374.8 177.1H387.0V183.8H374.8ZM509.1 177.1H521.3V183.8H509.1ZM594.6 177.1H606.8V183.8H594.6ZM130.6 183.8H142.8V190.6H130.6ZM142.8 183.8H155.0V190.6H142.8ZM338.2 183.8H350.4V190.6H338.2ZM374.8 183.8H387.0V190.6H374.8ZM411.4 183.8H423.7V190.6H411.4ZM94.0 190.6H106.2V197.4H94.0ZM106.2 190.6H118.4V197.4H106.2ZM301.6 190.6H313.8V197.4H301.6ZM387.0 190.6H399.2V197.4H387.0ZM167.3 197.4H179.5V204.2H167.3ZM240.5 197.4H252.7V204.2H240.5ZM484.7 197.4H496.9V204.2H484.7ZM216.1 204.2H228.3V210.9H216.1ZM558.0 204.2H570.2V210.9H558.0ZM118.4 210.9H130.6V217.7H118.4ZM338.2 210.9H350.4V217.7H338.2ZM118.4 217.7H130.6V224.5H118.4ZM142.8 217.7H155.0V224.5H142.8ZM338.2 217.7H350.4V224.5H338.2ZM374.8 217.7H387.0V224.5H374.8ZM399.2 217.7H411.4V224.5H399.2ZM460.3 217.7H472.5V224.5H460.3ZM496.9 217.7H509.1V224.5H496.9ZM521.3 217.7H533.5V224.5H521.3ZM106.2 224.5H118.4V231.3H106.2ZM167.3 224.5H179.5V231.3H167.3ZM264.9 224.5H277.1V231.3H264.9ZM399.2 224.5H411.4V231.3H399.2ZM460.3 224.5H472.5V231.3H460.3ZM545.7 224.5H558.0V231.3H545.7ZM558.0 224.5H570.2V231.3H558.0ZM374.8 231.3H387.0V238.0H374.8ZM460.3 231.3H472.5V238.0H460.3ZM484.7 231.3H496.9V238.0H484.7ZM509.1 231.3H521.3V238.0H509.1ZM606.8 231.3H619.0V238.0H606.8ZM326.0 244.8H338.2V251.6H326.0ZM435.9 244.8H448.1V251.6H435.9ZM521.3 244.8H533.5V251.6H521.3ZM606.8 251.6H619.0V258.4H606.8ZM362.6 258.4H374.8V265.1H362.6ZM460.3 258.4H472.5V265.1H460.3ZM94.0 265.1H106.2V271.9H94.0ZM142.8 265.1H155.0V271.9H142.8ZM435.9 265.1H448.1V271.9H435.9ZM142.8 271.9H155.0V278.7H142.8ZM155.0 278.7H167.3V285.5H155.0ZM264.9 278.7H277.1V285.5H264.9ZM326.0 278.7H338.2V285.5H326.0ZM484.7 278.7H496.9V285.5H484.7ZM228.3 285.5H240.5V292.2H228.3ZM411.4 285.5H423.7V292.2H411.4ZM460.3 285.5H472.5V292.2H460.3ZM277.1 292.2H289.3V299.0H277.1ZM411.4 292.2H423.7V299.0H411.4ZM606.8 292.2H619.0V299.0H606.8ZM252.7 299.0H264.9V305.8H252.7ZM277.1 299.0H289.3V305.8H277.1ZM411.4 299.0H423.7V305.8H411.4ZM435.9 299.0H448.1V305.8H435.9ZM448.1 299.0H460.3V305.8H448.1ZM582.4 299.0H594.6V305.8H582.4ZM594.6 299.0H606.8V305.8H594.6ZM94.0 305.8H106.2V312.6H94.0ZM264.9 305.8H277.1V312.6H264.9ZM350.4 305.8H362.6V312.6H350.4ZM411.4 305.8H423.7V312.6H411.4ZM496.9 305.8H509.1V312.6H496.9ZM521.3 305.8H533.5V312.6H521.3ZM570.2 305.8H582.4V312.6H570.2ZM264.9 312.6H277.1V319.3H264.9ZM460.3 312.6H472.5V319.3H460.3ZM521.3 312.6H533.5V319.3H521.3ZM545.7 312.6H558.0V319.3H545.7ZM558.0 312.6H570.2V319.3H558.0ZM570.2 312.6H582.4V319.3H570.2ZM240.5 319.3H252.7V326.1H240.5ZM252.7 319.3H264.9V326.1H252.7ZM338.2 319.3H350.4V326.1H338.2ZM399.2 319.3H411.4V326.1H399.2ZM448.1 319.3H460.3V326.1H448.1ZM106.2 326.1H118.4V332.9H106.2ZM167.3 326.1H179.5V332.9H167.3ZM326.0 326.1H338.2V332.9H326.0ZM399.2 326.1H411.4V332.9H399.2ZM460.3 326.1H472.5V332.9H460.3ZM509.1 326.1H521.3V332.9H509.1ZM606.8 326.1H619.0V332.9H606.8ZM130.6 332.9H142.8V339.7H130.6ZM326.0 332.9H338.2V339.7H326.0ZM350.4 332.9H362.6V339.7H350.4ZM423.7 332.9H435.9V339.7H423.7ZM460.3 332.9H472.5V339.7H460.3ZM484.7 332.9H496.9V339.7H484.7ZM326.0 339.7H338.2V346.4H326.0ZM582.4 339.7H594.6V346.4H582.4ZM191.7 346.4H203.9V353.2H191.7ZM350.4 346.4H362.6V353.2H350.4ZM448.1 346.4H460.3V353.2H448.1ZM460.3 346.4H472.5V353.2H460.3ZM496.9 346.4H509.1V353.2H496.9ZM509.1 346.4H521.3V353.2H509.1ZM558.0 346.4H570.2V353.2H558.0ZM252.7 353.2H264.9V360.0H252.7ZM350.4 360.0H362.6V366.8H350.4ZM399.2 360.0H411.4V366.8H399.2ZM496.9 360.0H509.1V366.8H496.9ZM130.6 366.8H142.8V373.5H130.6ZM155.0 366.8H167.3V373.5H155.0ZM167.3 366.8H179.5V373.5H167.3ZM203.9 366.8H216.1V373.5H203.9ZM289.3 366.8H301.6V373.5H289.3ZM301.6 366.8H313.8V373.5H301.6ZM362.6 366.8H374.8V373.5H362.6ZM191.7 373.5H203.9V380.3H191.7ZM277.1 373.5H289.3V380.3H277.1ZM435.9 373.5H448.1V380.3H435.9ZM448.1 373.5H460.3V380.3H448.1ZM203.9 380.3H216.1V387.1H203.9ZM448.1 380.3H460.3V387.1H448.1ZM460.3 380.3H472.5V387.1H460.3ZM509.1 380.3H521.3V387.1H509.1ZM558.0 380.3H570.2V387.1H558.0ZM94.0 387.1H106.2V393.9H94.0ZM228.3 387.1H240.5V393.9H228.3ZM301.6 387.1H313.8V393.9H301.6ZM191.7 393.9H203.9V400.6H191.7ZM216.1 393.9H228.3V400.6H216.1ZM130.6 400.6H142.8V407.4H130.6ZM142.8 400.6H155.0V407.4H142.8ZM216.1 400.6H228.3V407.4H216.1ZM423.7 400.6H435.9V407.4H423.7ZM533.5 400.6H545.7V407.4H533.5ZM142.8 407.4H155.0V414.2H142.8ZM155.0 407.4H167.3V414.2H155.0ZM216.1 407.4H228.3V414.2H216.1ZM289.3 407.4H301.6V414.2H289.3ZM472.5 407.4H484.7V414.2H472.5ZM509.1 407.4H521.3V414.2H509.1ZM521.3 407.4H533.5V414.2H521.3ZM594.6 407.4H606.8V414.2H594.6ZM155.0 414.2H167.3V421.0H155.0ZM216.1 414.2H228.3V421.0H216.1ZM240.5 414.2H252.7V421.0H240.5ZM399.2 414.2H411.4V421.0H399.2ZM509.1 414.2H521.3V421.0H509.1ZM545.7 414.2H558.0V421.0H545.7ZM558.0 414.2H570.2V421.0H558.0ZM570.2 414.2H582.4V421.0H570.2ZM399.2 421.0H411.4V427.7H399.2ZM484.7 421.0H496.9V427.7H484.7ZM509.1 421.0H521.3V427.7H509.1ZM289.3 427.7H301.6V434.5H289.3ZM326.0 427.7H338.2V434.5H326.0ZM399.2 427.7H411.4V434.5H399.2ZM509.1 427.7H521.3V434.5H509.1ZM277.1 434.5H289.3V441.3H277.1ZM496.9 434.5H509.1V441.3H496.9ZM411.4 441.3H423.7V448.1H411.4ZM216.1 448.1H228.3V454.8H216.1ZM252.7 448.1H264.9V454.8H252.7ZM411.4 448.1H423.7V454.8H411.4ZM423.7 454.8H435.9V461.6H423.7ZM545.7 454.8H558.0V461.6H545.7ZM191.7 461.6H203.9V468.4H191.7ZM240.5 461.6H252.7V468.4H240.5ZM240.5 468.4H252.7V475.2H240.5ZM289.3 468.4H301.6V475.2H289.3ZM118.4 475.2H130.6V481.9H118.4ZM191.7 475.2H203.9V481.9H191.7ZM338.2 475.2H350.4V481.9H338.2ZM130.6 481.9H142.8V488.7H130.6ZM289.3 481.9H301.6V488.7H289.3ZM545.7 481.9H558.0V488.7H545.7ZM558.0 481.9H570.2V488.7H558.0ZM570.2 481.9H582.4V488.7H570.2ZM203.9 488.7H216.1V495.5H203.9ZM435.9 488.7H448.1V495.5H435.9ZM545.7 488.7H558.0V495.5H545.7ZM582.4 488.7H594.6V495.5H582.4ZM118.4 495.5H130.6V502.3H118.4ZM216.1 495.5H228.3V502.3H216.1ZM252.7 495.5H264.9V502.3H252.7ZM399.2 495.5H411.4V502.3H399.2ZM448.1 495.5H460.3V502.3H448.1ZM350.4 502.3H362.6V509.0H350.4ZM264.9 509.0H277.1V515.8H264.9ZM118.4 515.8H130.6V522.6H118.4ZM521.3 515.8H533.5V522.6H521.3ZM533.5 515.8H545.7V522.6H533.5ZM606.8 515.8H619.0V522.6H606.8ZM338.2 522.6H350.4V529.4H338.2ZM264.9 529.4H277.1V536.1H264.9ZM399.2 529.4H411.4V536.1H399.2ZM521.3 529.4H533.5V536.1H521.3ZM606.8 529.4H619.0V536.1H606.8ZM130.6 536.1H142.8V542.9H130.6ZM350.4 536.1H362.6V542.9H350.4ZM362.6 536.1H374.8V542.9H362.6ZM484.7 536.1H496.9V542.9H484.7ZM289.3 542.9H301.6V549.7H289.3ZM301.6 542.9H313.8V549.7H301.6ZM606.8 542.9H619.0V549.7H606.8ZM374.8 549.7H387.0V556.5H374.8ZM606.8 549.7H619.0V556.5H606.8ZM264.9 556.5H277.1V563.2H264.9ZM387.0 556.5H399.2V563.2H387.0ZM496.9 563.2H509.1V570.0H496.9ZM118.4 570.0H130.6V576.8H118.4ZM264.9 570.0H277.1V576.8H264.9ZM496.9 570.0H509.1V576.8H496.9ZM142.8 576.8H155.0V583.6H142.8ZM240.5 576.8H252.7V583.6H240.5ZM350.4 576.8H362.6V583.6H350.4ZM399.2 576.8H411.4V583.6H399.2ZM496.9 576.8H509.1V583.6H496.9ZM252.7 583.6H264.9V590.3H252.7ZM558.0 583.6H570.2V590.3H558.0ZM130.6 590.3H142.8V597.1H130.6ZM216.1 590.3H228.3V597.1H216.1ZM387.0 590.3H399.2V597.1H387.0ZM94.0 603.9H106.2V610.7H94.0ZM289.3 603.9H301.6V610.7H289.3ZM362.6 603.9H374.8V610.7H362.6ZM521.3 603.9H533.5V610.7H521.3ZM94.0 610.7H106.2V617.4H94.0ZM118.4 610.7H130.6V617.4H118.4ZM350.4 610.7H362.6V617.4H350.4ZM460.3 610.7H472.5V617.4H460.3ZM472.5 610.7H484.7V617.4H472.5ZM533.5 610.7H545.7V617.4H533.5ZM326.0 617.4H338.2V624.2H326.0ZM350.4 617.4H362.6V624.2H350.4ZM387.0 617.4H399.2V624.2H387.0ZM118.4 624.2H130.6V631.0H118.4ZM155.0 624.2H167.3V631.0H155.0ZM228.3 624.2H240.5V631.0H228.3ZM264.9 624.2H277.1V631.0H264.9ZM313.8 624.2H326.0V631.0H313.8ZM350.4 624.2H362.6V631.0H350.4Z"/>
<path fill="#ffffff" d="M179.5 28.0H191.7V34.8H179.5ZM387.0 28.0H399.2V34.8H387.0ZM448.1 28.0H460.3V34.8H448.1ZM582.4 28.0H594.6V34.8H582.4ZM594.6 28.0H606.8V34.8H594.6ZM106.2 34.8H118.4V41.6H106.2ZM155.0 34.8H167.3V41.6H155.0ZM228.3 34.8H240.5V41.6H228.3ZM484.7 34.8H496.9V41.6H484.7ZM533.5 34.8H545.7V41.6H533.5ZM558.0 34.8H570.2V41.6H558.0ZM106.2 41.6H118.4V48.3H106.2ZM130.6 41.6H142.8V48.3H130.6ZM155.0 41.6H167.3V48.3H155.0ZM423.7 41.6H435.9V48.3H423.7ZM472.5 41.6H484.7V48.3H472.5ZM484.7 41.6H496.9V48.3H484.7ZM252.7 48.3H264.9V55.1H252.7ZM472.5 48.3H484.7V55.1H472.5ZM496.9 48.3H509.1V55.1H496.9ZM94.0 55.1H106.2V61.9H94.0ZM252.7 55.1H264.9V61.9H252.7ZM264.9 55.1H277.1V61.9H264.9ZM374.8 55.1H387.0V61.9H374.8ZM411.4 55.1H423.7V61.9H411.4ZM496.9 55.1H509.1V61.9H496.9ZM521.3 55.1H533.5V61.9H521.3ZM94.0 61.9H106.2V68.7H94.0ZM240.5 61.9H252.7V68.7H240.5ZM264.9 61.9H277.1V68.7H264.9ZM374.8 61.9H387.0V68.7H374.8ZM484.7 61.9H496.9V68.7H484.7ZM496.9 61.9H509.1V68.7H496.9ZM594.6 61.9H606.8V68.7H594.6ZM118.4 68.7H130.6V75.4H118.4ZM167.3 68.7H179.5V75.4H167.3ZM203.9 68.7H216.1V75.4H203.9ZM472.5 68.7H484.7V75.4H472.5ZM496.9 68.7H509.1V75.4H496.9ZM142.8 75.4H155.0V82.2H142.8ZM167.3 75.4H179.5V82.2H167.3ZM264.9 75.4H277.1V82.2H264.9ZM362.6 75.4H374.8V82.2H362.6ZM496.9 75.4H509.1V82.2H496.9ZM509.1 75.4H521.3V82.2H509.1ZM142.8 82.2H155.0V89.0H142.8ZM301.6 82.2H313.8V89.0H301.6ZM362.6 82.2H374.8V89.0H362.6ZM106.2 89.0H118.4V95.8H106.2ZM118.4 89.0H130.6V95.8H118.4ZM142.8 89.0H155.0V95.8H142.8ZM301.6 89.0H313.8V95.8H301.6ZM362.6 89.0H374.8V95.8H362.6ZM448.1 89.0H460.3V95.8H448.1ZM472.5 89.0H484.7V95.8H472.5ZM484.7 89.0H496.9V95.8H484.7ZM582.4 89.0H594.6V95.8H582.4ZM142.8 95.8H155.0V102.5H142.8ZM179.5 95.8H191.7V102.5H179.5ZM252.7 95.8H264.9V102.5H252.7ZM472.5 95.8H484.7V102.5H472.5ZM155.0 102.5H167.3V109.3H155.0ZM240.5 102.5H252.7V109.3H240.5ZM399.2 102.5H411.4V109.3H399.2ZM472.5 102.5H484.7V109.3H472.5ZM521.3 102.5H533.5V109.3H521.3ZM582.4 102.5H594.6V109.3H582.4ZM338.2 109.3H350.4V116.1H338.2ZM484.7 109.3H496.9V116.1H484.7ZM594.6 109.3H606.8V116.1H594.6ZM326.0 116.1H338.2V122.9H326.0ZM472.5 116.1H484.7V122.9H472.5ZM509.1 116.1H521.3V122.9H509.1ZM533.5 116.1H545.7V122.9H533.5ZM594.6 116.1H606.8V122.9H594.6ZM228.3 122.9H240.5V129.6H228.3ZM301.6 122.9H313.8V129.6H301.6ZM484.7 122.9H496.9V129.6H484.7ZM582.4 122.9H594.6V129.6H582.4ZM130.6 129.6H142.8V136.4H130.6ZM155.0 129.6H167.3V136.4H155.0ZM264.9 129.6H277.1V136.4H264.9ZM484.7 129.6H496.9V136.4H484.7ZM558.0 129.6H570.2V136.4H558.0ZM594.6 129.6H606.8V136.4H594.6ZM130.6 136.4H142.8V143.2H130.6ZM203.9 136.4H216.1V143.2H203.9ZM240.5 136.4H252.7V143.2H240.5ZM252.7 136.4H264.9V143.2H252.7ZM264.9 136.4H277.1V143.2H264.9ZM374.8 136.4H387.0V143.2H374.8ZM496.9 136.4H509.1V143.2H496.9ZM582.4 136.4H594.6V143.2H582.4ZM191.7 143.2H203.9V150.0H191.7ZM399.2 143.2H411.4V150.0H399.2ZM484.7 143.2H496.9V150.0H484.7ZM326.0 150.0H338.2V156.7H326.0ZM374.8 150.0H387.0V156.7H374.8ZM484.7 150.0H496.9V156.7H484.7ZM509.1 150.0H521.3V156.7H509.1ZM94.0 156.7H106.2V163.5H94.0ZM167.3 156.7H179.5V163.5H167.3ZM228.3 156.7H240.5V163.5H228.3ZM326.0 156.7H338.2V163.5H326.0ZM374.8 156.7H387.0V163.5H374.8ZM545.7 156.7H558.0V163.5H545.7ZM94.0 163.5H106.2V170.3H94.0ZM350.4 163.5H362.6V170.3H350.4ZM399.2 163.5H411.4V170.3H399.2ZM411.4 163.5H423.7V170.3H411.4ZM509.1 163.5H521.3V170.3H509.1ZM558.0 163.5H570.2V170.3H558.0ZM289.3 170.3H301.6V177.1H289.3ZM362.6 170.3H374.8V177.1H362.6ZM155.0 177.1H167.3V183.8H155.0ZM326.0 177.1H338.2V183.8H326.0ZM118.4 183.8H130.6V190.6H118.4ZM252.7 183.8H264.9V190.6H252.7ZM264.9 183.8H277.1V190.6H264.9ZM326.0 183.8H338.2V190.6H326.0ZM448.1 183.8H460.3V190.6H448.1ZM594.6 183.8H606.8V190.6H594.6ZM191.7 190.6H203.9V197.4H191.7ZM289.3 190.6H301.6V197.4H289.3ZM411.4 190.6H423.7V197.4H411.4ZM472.5 190.6H484.7V197.4H472.5ZM289.3 197.4H301.6V204.2H289.3ZM460.3 197.4H472.5V204.2H460.3ZM167.3 204.2H179.5V210.9H167.3ZM252.7 204.2H264.9V210.9H252.7ZM289.3 204.2H301.6V210.9H289.3ZM509.1 204.2H521.3V210.9H509.1ZM545.7 204.2H558.0V210.9H545.7ZM399.2 210.9H411.4V217.7H399.2ZM448.1 210.9H460.3V217.7H448.1ZM484.7 210.9H496.9V217.7H484.7ZM94.0 217.7H106.2V224.5H94.0ZM203.9 224.5H216.1V231.3H203.9ZM521.3 224.5H533.5V231.3H521.3ZM106.2 231.3H118.4V238.0H106.2ZM582.4 231.3H594.6V238.0H582.4ZM106.2 238.0H118.4V244.8H106.2ZM167.3 238.0H179.5V244.8H167.3ZM387.0 238.0H399.2V244.8H387.0ZM399.2 238.0H411.4V244.8H399.2ZM203.9 244.8H216.1V251.6H203.9ZM338.2 244.8H350.4V251.6H338.2ZM496.9 244.8H509.1V251.6H496.9ZM142.8 251.6H155.0V258.4H142.8ZM240.5 251.6H252.7V258.4H240.5ZM301.6 251.6H313.8V258.4H301.6ZM313.8 251.6H326.0V258.4H313.8ZM399.2 251.6H411.4V258.4H399.2ZM203.9 258.4H216.1V265.1H203.9ZM240.5 258.4H252.7V265.1H240.5ZM179.5 265.1H191.7V271.9H179.5ZM240.5 265.1H252.7V271.9H240.5ZM289.3 265.1H301.6V271.9H289.3ZM326.0 265.1H338.2V271.9H326.0ZM338.2 265.1H350.4V271.9H338.2ZM472.5 265.1H484.7V271.9H472.5ZM509.1 265.1H521.3V271.9H509.1ZM118.4 271.9H130.6V278.7H118.4ZM167.3 271.9H179.5V278.7H167.3ZM350.4 271.9H362.6V278.7H350.4ZM435.9 271.9H448.1V278.7H435.9ZM472.5 271.9H484.7V278.7H472.5ZM94.0 278.7H106.2V285.5H94.0ZM167.3 278.7H179.5V285.5H167.3ZM191.7 278.7H203.9V285.5H191.7ZM338.2 278.7H350.4V285.5H338.2ZM350.4 278.7H362.6V285.5H350.4ZM399.2 278.7H411.4V285.5H399.2ZM435.9 278.7H448.1V285.5H435.9ZM496.9 278.7H509.1V285.5H496.9ZM435.9 285.5H448.1V292.2H435.9ZM460.3 292.2H472.5V299.0H460.3ZM155.0 299.0H167.3V305.8H155.0ZM203.9 299.0H216.1V305.8H203.9ZM240.5 299.0H252.7V305.8H240.5ZM399.2 299.0H411.4V305.8H399.2ZM472.5 299.0H484.7V305.8H472.5ZM521.3 299.0H533.5V305.8H521.3ZM545.7 299.0H558.0V305.8H545.7ZM155.0 305.8H167.3V312.6H155.0ZM301.6 305.8H313.8V312.6H301.6ZM399.2 305.8H411.4V312.6H399.2ZM472.5 305.8H484.7V312.6H472.5ZM533.5 305.8H545.7V312.6H533.5ZM191.7 312.6H203.9V319.3H191.7ZM240.5 312.6H252.7V319.3H240.5ZM301.6 312.6H313.8V319.3H301.6ZM326.0 312.6H338.2V319.3H326.0ZM338.2 312.6H350.4V319.3H338.2ZM374.8 312.6H387.0V319.3H374.8ZM142.8 319.3H155.0V326.1H142.8ZM155.0 319.3H167.3V326.1H155.0ZM277.1 319.3H289.3V326.1H277.1ZM387.0 319.3H399.2V326.1H387.0ZM423.7 319.3H435.9V326.1H423.7ZM509.1 319.3H521.3V326.1H509.1ZM203.9 326.1H216.1V332.9H203.9ZM338.2 326.1H350.4V332.9H338.2ZM411.4 326.1H423.7V332.9H411.4ZM521.3 326.1H533.5V332.9H521.3ZM594.6 326.1H606.8V332.9H594.6ZM106.2 332.9H118.4V339.7H106.2ZM264.9 332.9H277.1V339.7H264.9ZM277.1 332.9H289.3V339.7H277.1ZM399.2 332.9H411.4V339.7H399.2ZM411.4 332.9H423.7V339.7H411.4ZM509.1 332.9H521.3V339.7H509.1ZM545.7 332.9H558.0V339.7H545.7ZM264.9 339.7H277.1V346.4H264.9ZM350.4 339.7H362.6V346.4H350.4ZM399.2 339.7H411.4V346.4H399.2ZM411.4 339.7H423.7V346.4H411.4ZM606.8 339.7H619.0V346.4H606.8ZM142.8 346.4H155.0V353.2H142.8ZM326.0 346.4H338.2V353.2H326.0ZM472.5 346.4H484.7V353.2H472.5ZM264.9 353.2H277.1V360.0H264.9ZM484.7 353.2H496.9V360.0H484.7ZM423.7 360.0H435.9V366.8H423.7ZM472.5 360.0H484.7V366.8H472.5ZM570.2 360.0H582.4V366.8H570.2ZM582.4 360.0H594.6V366.8H582.4ZM118.4 366.8H130.6V373.5H118.4ZM387.0 366.8H399.2V373.5H387.0ZM533.5 366.8H545.7V373.5H533.5ZM167.3 373.5H179.5V380.3H167.3ZM301.6 373.5H313.8V380.3H301.6ZM362.6 373.5H374.8V380.3H362.6ZM496.9 373.5H509.1V380.3H496.9ZM533.5 373.5H545.7V380.3H533.5ZM118.4 380.3H130.6V387.1H118.4ZM240.5 380.3H252.7V387.1H240.5ZM362.6 380.3H374.8V387.1H362.6ZM570.2 380.3H582.4V387.1H570.2ZM130.6 387.1H142.8V393.9H130.6ZM155.0 387.1H167.3V393.9H155.0ZM521.3 387.1H533.5V393.9H521.3ZM582.4 387.1H594.6V393.9H582.4ZM264.9 393.9H277.1V400.6H264.9ZM277.1 393.9H289.3V400.6H277.1ZM326.0 393.9H338.2V400.6H326.0ZM521.3 393.9H533.5V400.6H521.3ZM570.2 393.9H582.4V400.6H570.2ZM167.3 400.6H179.5V407.4H167.3ZM252.7 400.6H264.9V407.4H252.7ZM326.0 400.6H338.2V407.4H326.0ZM338.2 400.6H350.4V407.4H338.2ZM435.9 400.6H448.1V407.4H435.9ZM558.0 400.6H570.2V407.4H558.0ZM94.0 407.4H106.2V414.2H94.0ZM179.5 407.4H191.7V414.2H179.5ZM94.0 414.2H106.2V421.0H94.0ZM252.7 414.2H264.9V421.0H252.7ZM496.9 414.2H509.1V421.0H496.9ZM167.3 421.0H179.5V427.7H167.3ZM289.3 421.0H301.6V427.7H289.3ZM448.1 421.0H460.3V427.7H448.1ZM240.5 427.7H252.7V434.5H240.5ZM313.8 427.7H326.0V434.5H313.8ZM448.1 427.7H460.3V434.5H448.1ZM533.5 427.7H545.7V434.5H533.5ZM374.8 434.5H387.0V441.3H374.8ZM521.3 434.5H533.5V441.3H521.3ZM289.3 441.3H301.6V448.1H289.3ZM326.0 441.3H338.2V448.1H326.0ZM533.5 441.3H545.7V448.1H533.5ZM326.0 448.1H338.2V454.8H326.0ZM435.9 448.1H448.1V454.8H435.9ZM594.6 448.1H606.8V454.8H594.6ZM240.5 454.8H252.7V461.6H240.5ZM264.9 454.8H277.1V461.6H264.9ZM326.0 454.8H338.2V461.6H326.0ZM570.2 454.8H582.4V461.6H570.2ZM594.6 454.8H606.8V461.6H594.6ZM130.6 461.6H142.8V468.4H130.6ZM203.9 461.6H216.1V468.4H203.9ZM313.8 461.6H326.0V468.4H313.8ZM326.0 461.6H338.2V468.4H326.0ZM106.2 468.4H118.4V475.2H106.2ZM301.6 468.4H313.8V475.2H301.6ZM399.2 468.4H411.4V475.2H399.2ZM130.6 475.2H142.8V481.9H130.6ZM155.0 475.2H167.3V481.9H155.0ZM399.2 475.2H411.4V481.9H399.2ZM472.5 475.2H484.7V481.9H472.5ZM594.6 475.2H606.8V481.9H594.6ZM326.0 481.9H338.2V488.7H326.0ZM338.2 481.9H350.4V488.7H338.2ZM350.4 481.9H362.6V488.7H350.4ZM399.2 481.9H411.4V488.7H399.2ZM484.7 481.9H496.9V488.7H484.7ZM533.5 481.9H545.7V488.7H533.5ZM191.7 488.7H203.9V495.5H191.7ZM326.0 495.5H338.2V502.3H326.0ZM387.0 495.5H399.2V502.3H387.0ZM509.1 495.5H521.3V502.3H509.1ZM521.3 495.5H533.5V502.3H521.3ZM606.8 495.5H619.0V502.3H606.8ZM179.5 509.0H191.7V515.8H179.5ZM191.7 509.0H203.9V515.8H191.7ZM252.7 509.0H264.9V515.8H252.7ZM289.3 509.0H301.6V515.8H289.3ZM606.8 509.0H619.0V515.8H606.8ZM264.9 515.8H277.1V522.6H264.9ZM594.6 515.8H606.8V522.6H594.6ZM496.9 522.6H509.1V529.4H496.9ZM203.9 529.4H216.1V536.1H203.9ZM216.1 529.4H228.3V536.1H216.1ZM472.5 536.1H484.7V542.9H472.5ZM521.3 536.1H533.5V542.9H521.3ZM533.5 536.1H545.7V542.9H533.5ZM264.9 542.9H277.1V549.7H264.9ZM387.0 542.9H399.2V549.7H387.0ZM423.7 542.9H435.9V549.7H423.7ZM570.2 542.9H582.4V549.7H570.2ZM167.3 549.7H179.5V556.5H167.3ZM301.6 549.7H313.8V556.5H301.6ZM362.6 549.7H374.8V556.5H362.6ZM252.7 556.5H264.9V563.2H252.7ZM472.5 556.5H484.7V563.2H472.5ZM484.7 556.5H496.9V563.2H484.7ZM509.1 556.5H521.3V563.2H509.1ZM545.7 556.5H558.0V563.2H545.7ZM203.9 563.2H216.1V570.0H203.9ZM264.9 563.2H277.1V570.0H264.9ZM448.1 563.2H460.3V570.0H448.1ZM509.1 563.2H521.3V570.0H509.1ZM203.9 570.0H216.1V576.8H203.9ZM179.5 576.8H191.7V583.6H179.5ZM203.9 576.8H216.1V583.6H203.9ZM509.1 576.8H521.3V583.6H509.1ZM582.4 576.8H594.6V583.6H582.4ZM155.0 583.6H167.3V590.3H155.0ZM203.9 583.6H216.1V590.3H203.9ZM387.0 583.6H399.2V590.3H387.0ZM606.8 583.6H619.0V590.3H606.8ZM277.1 590.3H289.3V597.1H277.1ZM289.3 590.3H301.6V597.1H289.3ZM399.2 590.3H411.4V597.1H399.2ZM472.5 590.3H484.7V597.1H472.5ZM142.8 597.1H155.0V603.9H142.8ZM240.5 597.1H252.7V603.9H240.5ZM545.7 597.1H558.0V603.9H545.7ZM570.2 597.1H582.4V603.9H570.2ZM106.2 603.9H118.4V610.7H106.2ZM191.7 603.9H203.9V610.7H191.7ZM374.8 610.7H387.0V617.4H374.8ZM423.7 610.7H435.9V617.4H423.7ZM448.1 610.7H460.3V617.4H448.1ZM606.8 610.7H619.0V617.4H606.8ZM155.0 617.4H167.3V624.2H155.0ZM167.3 617.4H179.5V624.2H167.3ZM179.5 617.4H191.7V624.2H179.5ZM435.9 617.4H448.1V624.2H435.9ZM472.5 624.2H484.7V631.0H472.5ZM545.7 624.2H558.0V631.0H545.7Z"/>
<path fill="#f1f8fb" d="M203.9 28.0H216.1V34.8H203.9ZM362.6 28.0H374.8V34.8H362.6ZM277.1 48.3H289.3V55.1H277.1ZM399.2 48.3H411.4V55.1H399.2ZM301.6 61.9H313.8V68.7H301.6ZM142.8 68.7H155.0V75.4H142.8ZM582.4 68.7H594.6V75.4H582.4ZM240.5 82.2H252.7V89.0H240.5ZM435.9 82.2H448.1V89.0H435.9ZM411.4 89.0H423.7V95.8H411.4ZM411.4 95.8H423.7V102.5H411.4ZM362.6 102.5H374.8V109.3H362.6ZM106.2 109.3H118.4V116.1H106.2ZM203.9 109.3H216.1V116.1H203.9ZM374.8 109.3H387.0V116.1H374.8ZM106.2 122.9H118.4V129.6H106.2ZM203.9 122.9H216.1V129.6H203.9ZM216.1 122.9H228.3V129.6H216.1ZM399.2 122.9H411.4V129.6H399.2ZM411.4 122.9H423.7V129.6H411.4ZM289.3 129.6H301.6V136.4H289.3ZM167.3 136.4H179.5V143.2H167.3ZM411.4 136.4H423.7V143.2H411.4ZM179.5 150.0H191.7V156.7H179.5ZM558.0 150.0H570.2V156.7H558.0ZM582.4 156.7H594.6V163.5H582.4ZM582.4 163.5H594.6V170.3H582.4ZM142.8 170.3H155.0V177.1H142.8ZM313.8 170.3H326.0V177.1H313.8ZM558.0 190.6H570.2V197.4H558.0ZM399.2 197.4H411.4V204.2H399.2ZM387.0 210.9H399.2V217.7H387.0ZM228.3 217.7H240.5V224.5H228.3ZM558.0 217.7H570.2V224.5H558.0ZM142.8 224.5H155.0V231.3H142.8ZM240.5 224.5H252.7V231.3H240.5ZM387.0 231.3H399.2V238.0H387.0ZM521.3 231.3H533.5V238.0H521.3ZM545.7 231.3H558.0V238.0H545.7ZM130.6 238.0H142.8V244.8H130.6ZM545.7 238.0H558.0V244.8H545.7ZM142.8 244.8H155.0V251.6H142.8ZM350.4 244.8H362.6V251.6H350.4ZM326.0 251.6H338.2V258.4H326.0ZM521.3 251.6H533.5V258.4H521.3ZM106.2 258.4H118.4V265.1H106.2ZM155.0 258.4H167.3V265.1H155.0ZM350.4 258.4H362.6V265.1H350.4ZM435.9 258.4H448.1V265.1H435.9ZM203.9 271.9H216.1V278.7H203.9ZM484.7 271.9H496.9V278.7H484.7ZM509.1 271.9H521.3V278.7H509.1ZM179.5 292.2H191.7V299.0H179.5ZM338.2 292.2H350.4V299.0H338.2ZM350.4 292.2H362.6V299.0H350.4ZM94.0 299.0H106.2V305.8H94.0ZM338.2 299.0H350.4V305.8H338.2ZM350.4 299.0H362.6V305.8H350.4ZM606.8 299.0H619.0V305.8H606.8ZM606.8 305.8H619.0V312.6H606.8ZM94.0 312.6H106.2V319.3H94.0ZM374.8 319.3H387.0V326.1H374.8ZM435.9 319.3H448.1V326.1H435.9ZM484.7 319.3H496.9V326.1H484.7ZM289.3 326.1H301.6V332.9H289.3ZM484.7 326.1H496.9V332.9H484.7ZM362.6 339.7H374.8V346.4H362.6ZM374.8 339.7H387.0V346.4H374.8ZM545.7 339.7H558.0V346.4H545.7ZM240.5 346.4H252.7V353.2H240.5ZM484.7 346.4H496.9V353.2H484.7ZM533.5 346.4H545.7V353.2H533.5ZM203.9 353.2H216.1V360.0H203.9ZM326.0 353.2H338.2V360.0H326.0ZM362.6 353.2H374.8V360.0H362.6ZM252.7 360.0H264.9V366.8H252.7ZM521.3 366.8H533.5V373.5H521.3ZM374.8 380.3H387.0V387.1H374.8ZM191.7 387.1H203.9V393.9H191.7ZM264.9 400.6H277.1V407.4H264.9ZM362.6 400.6H374.8V407.4H362.6ZM435.9 407.4H448.1V414.2H435.9ZM484.7 407.4H496.9V414.2H484.7ZM264.9 421.0H277.1V427.7H264.9ZM558.0 421.0H570.2V427.7H558.0ZM203.9 427.7H216.1V434.5H203.9ZM142.8 441.3H155.0V448.1H142.8ZM228.3 441.3H240.5V448.1H228.3ZM484.7 441.3H496.9V448.1H484.7ZM191.7 448.1H203.9V454.8H191.7ZM558.0 448.1H570.2V454.8H558.0ZM94.0 454.8H106.2V461.6H94.0ZM118.4 454.8H130.6V461.6H118.4ZM179.5 454.8H191.7V461.6H179.5ZM338.2 454.8H350.4V461.6H338.2ZM582.4 454.8H594.6V461.6H582.4ZM252.7 461.6H264.9V468.4H252.7ZM240.5 475.2H252.7V481.9H240.5ZM240.5 481.9H252.7V488.7H240.5ZM252.7 488.7H264.9V495.5H252.7ZM142.8 495.5H155.0V502.3H142.8ZM179.5 495.5H191.7V502.3H179.5ZM326.0 502.3H338.2V509.0H326.0ZM130.6 509.0H142.8V515.8H130.6ZM216.1 509.0H228.3V515.8H216.1ZM350.4 509.0H362.6V515.8H350.4ZM374.8 509.0H387.0V515.8H374.8ZM423.7 509.0H435.9V515.8H423.7ZM228.3 515.8H240.5V522.6H228.3ZM301.6 515.8H313.8V522.6H301.6ZM130.6 522.6H142.8V529.4H130.6ZM228.3 522.6H240.5V529.4H228.3ZM558.0 522.6H570.2V529.4H558.0ZM582.4 522.6H594.6V529.4H582.4ZM167.3 529.4H179.5V536.1H167.3ZM252.7 529.4H264.9V536.1H252.7ZM350.4 529.4H362.6V536.1H350.4ZM472.5 529.4H484.7V536.1H472.5ZM558.0 529.4H570.2V536.1H558.0ZM509.1 536.1H521.3V542.9H509.1ZM606.8 536.1H619.0V542.9H606.8ZM252.7 542.9H264.9V549.7H252.7ZM179.5 549.7H191.7V556.5H179.5ZM155.0 556.5H167.3V563.2H155.0ZM179.5 556.5H191.7V563.2H179.5ZM362.6 556.5H374.8V563.2H362.6ZM399.2 563.2H411.4V570.0H399.2ZM533.5 570.0H545.7V576.8H533.5ZM106.2 576.8H118.4V583.6H106.2ZM142.8 583.6H155.0V590.3H142.8ZM411.4 583.6H423.7V590.3H411.4ZM326.0 590.3H338.2V597.1H326.0ZM216.1 597.1H228.3V603.9H216.1ZM362.6 597.1H374.8V603.9H362.6ZM167.3 610.7H179.5V617.4H167.3ZM374.8 617.4H387.0V624.2H374.8ZM496.9 617.4H509.1V624.2H496.9ZM326.0 624.2H338.2V631.0H326.0ZM570.2 624.2H582.4V631.0H570.2ZM582.4 624.2H594.6V631.0H582.4Z"/>
<path fill="#dceef4" d="M252.7 28.0H264.9V34.8H252.7ZM472.5 28.0H484.7V34.8H472.5ZM545.7 28.0H558.0V34.8H545.7ZM606.8 28.0H619.0V34.8H606.8ZM496.9 34.8H509.1V41.6H496.9ZM545.7 34.8H558.0V41.6H545.7ZM594.6 41.6H606.8V48.3H594.6ZM142.8 48.3H155.0V55.1H142.8ZM264.9 48.3H277.1V55.1H264.9ZM411.4 48.3H423.7V55.1H411.4ZM435.9 48.3H448.1V55.1H435.9ZM521.3 48.3H533.5V55.1H521.3ZM533.5 48.3H545.7V55.1H533.5ZM545.7 48.3H558.0V55.1H545.7ZM606.8 48.3H619.0V55.1H606.8ZM448.1 55.1H460.3V61.9H448.1ZM484.7 55.1H496.9V61.9H484.7ZM118.4 61.9H130.6V68.7H118.4ZM252.7 61.9H264.9V68.7H252.7ZM277.1 61.9H289.3V68.7H277.1ZM411.4 61.9H423.7V68.7H411.4ZM509.1 61.9H521.3V68.7H509.1ZM521.3 61.9H533.5V68.7H521.3ZM582.4 61.9H594.6V68.7H582.4ZM606.8 61.9H619.0V68.7H606.8ZM448.1 68.7H460.3V75.4H448.1ZM252.7 75.4H264.9V82.2H252.7ZM338.2 75.4H350.4V82.2H338.2ZM264.9 82.2H277.1V89.0H264.9ZM277.1 82.2H289.3V89.0H277.1ZM374.8 82.2H387.0V89.0H374.8ZM387.0 82.2H399.2V89.0H387.0ZM484.7 82.2H496.9V89.0H484.7ZM521.3 82.2H533.5V89.0H521.3ZM435.9 89.0H448.1V95.8H435.9ZM509.1 89.0H521.3V95.8H509.1ZM570.2 89.0H582.4V95.8H570.2ZM594.6 89.0H606.8V95.8H594.6ZM435.9 95.8H448.1V102.5H435.9ZM448.1 95.8H460.3V102.5H448.1ZM423.7 102.5H435.9V109.3H423.7ZM435.9 102.5H448.1V109.3H435.9ZM448.1 102.5H460.3V109.3H448.1ZM484.7 102.5H496.9V109.3H484.7ZM509.1 102.5H521.3V109.3H509.1ZM545.7 102.5H558.0V109.3H545.7ZM558.0 102.5H570.2V109.3H558.0ZM411.4 109.3H423.7V116.1H411.4ZM423.7 109.3H435.9V116.1H423.7ZM448.1 109.3H460.3V116.1H448.1ZM521.3 109.3H533.5V116.1H521.3ZM570.2 109.3H582.4V116.1H570.2ZM350.4 116.1H362.6V122.9H350.4ZM423.7 116.1H435.9V122.9H423.7ZM558.0 116.1H570.2V122.9H558.0ZM130.6 122.9H142.8V129.6H130.6ZM521.3 122.9H533.5V129.6H521.3ZM533.5 122.9H545.7V129.6H533.5ZM545.7 122.9H558.0V129.6H545.7ZM594.6 122.9H606.8V129.6H594.6ZM203.9 129.6H216.1V136.4H203.9ZM277.1 129.6H289.3V136.4H277.1ZM301.6 129.6H313.8V136.4H301.6ZM374.8 129.6H387.0V136.4H374.8ZM411.4 129.6H423.7V136.4H411.4ZM496.9 129.6H509.1V136.4H496.9ZM521.3 129.6H533.5V136.4H521.3ZM533.5 136.4H545.7V143.2H533.5ZM606.8 136.4H619.0V143.2H606.8ZM118.4 143.2H130.6V150.0H118.4ZM167.3 143.2H179.5V150.0H167.3ZM203.9 143.2H216.1V150.0H203.9ZM277.1 143.2H289.3V150.0H277.1ZM313.8 143.2H326.0V150.0H313.8ZM448.1 143.2H460.3V150.0H448.1ZM533.5 143.2H545.7V150.0H533.5ZM570.2 143.2H582.4V150.0H570.2ZM130.6 150.0H142.8V156.7H130.6ZM264.9 150.0H277.1V156.7H264.9ZM399.2 150.0H411.4V156.7H399.2ZM533.5 150.0H545.7V156.7H533.5ZM106.2 156.7H118.4V163.5H106.2ZM179.5 156.7H191.7V163.5H179.5ZM289.3 156.7H301.6V163.5H289.3ZM448.1 156.7H460.3V163.5H448.1ZM167.3 163.5H179.5V170.3H167.3ZM484.7 163.5H496.9V170.3H484.7ZM545.7 163.5H558.0V170.3H545.7ZM594.6 163.5H606.8V170.3H594.6ZM277.1 170.3H289.3V177.1H277.1ZM387.0 170.3H399.2V177.1H387.0ZM435.9 170.3H448.1V177.1H435.9ZM509.1 170.3H521.3V177.1H509.1ZM521.3 170.3H533.5V177.1H521.3ZM533.5 170.3H545.7V177.1H533.5ZM94.0 177.1H106.2V183.8H94.0ZM142.8 177.1H155.0V183.8H142.8ZM313.8 177.1H326.0V183.8H313.8ZM399.2 177.1H411.4V183.8H399.2ZM606.8 177.1H619.0V183.8H606.8ZM155.0 183.8H167.3V190.6H155.0ZM203.9 183.8H216.1V190.6H203.9ZM399.2 183.8H411.4V190.6H399.2ZM435.9 183.8H448.1V190.6H435.9ZM472.5 183.8H484.7V190.6H472.5ZM521.3 183.8H533.5V190.6H521.3ZM606.8 183.8H619.0V190.6H606.8ZM252.7 190.6H264.9V197.4H252.7ZM326.0 190.6H338.2V197.4H326.0ZM362.6 190.6H374.8V197.4H362.6ZM435.9 190.6H448.1V197.4H435.9ZM460.3 190.6H472.5V197.4H460.3ZM484.7 190.6H496.9V197.4H484.7ZM509.1 190.6H521.3V197.4H509.1ZM521.3 190.6H533.5V197.4H521.3ZM582.4 190.6H594.6V197.4H582.4ZM118.4 197.4H130.6V204.2H118.4ZM142.8 197.4H155.0V204.2H142.8ZM203.9 197.4H216.1V204.2H203.9ZM252.7 197.4H264.9V204.2H252.7ZM264.9 197.4H277.1V204.2H264.9ZM326.0 197.4H338.2V204.2H326.0ZM338.2 197.4H350.4V204.2H338.2ZM374.8 197.4H387.0V204.2H374.8ZM411.4 197.4H423.7V204.2H411.4ZM423.7 197.4H435.9V204.2H423.7ZM472.5 197.4H484.7V204.2H472.5ZM509.1 197.4H521.3V204.2H509.1ZM558.0 197.4H570.2V204.2H558.0ZM130.6 204.2H142.8V210.9H130.6ZM142.8 204.2H155.0V210.9H142.8ZM203.9 204.2H216.1V210.9H203.9ZM326.0 204.2H338.2V210.9H326.0ZM460.3 204.2H472.5V210.9H460.3ZM472.5 204.2H484.7V210.9H472.5ZM606.8 204.2H619.0V210.9H606.8ZM142.8 210.9H155.0V217.7H142.8ZM167.3 210.9H179.5V217.7H167.3ZM179.5 210.9H191.7V217.7H179.5ZM326.0 210.9H338.2V217.7H326.0ZM374.8 210.9H387.0V217.7H374.8ZM496.9 210.9H509.1V217.7H496.9ZM558.0 210.9H570.2V217.7H558.0ZM130.6 217.7H142.8V224.5H130.6ZM167.3 217.7H179.5V224.5H167.3ZM264.9 217.7H277.1V224.5H264.9ZM289.3 217.7H301.6V224.5H289.3ZM411.4 217.7H423.7V224.5H411.4ZM423.7 217.7H435.9V224.5H423.7ZM533.5 217.7H545.7V224.5H533.5ZM570.2 217.7H582.4V224.5H570.2ZM118.4 224.5H130.6V231.3H118.4ZM130.6 224.5H142.8V231.3H130.6ZM362.6 224.5H374.8V231.3H362.6ZM155.0 231.3H167.3V238.0H155.0ZM191.7 231.3H203.9V238.0H191.7ZM228.3 231.3H240.5V238.0H228.3ZM240.5 231.3H252.7V238.0H240.5ZM264.9 231.3H277.1V238.0H264.9ZM277.1 231.3H289.3V238.0H277.1ZM326.0 231.3H338.2V238.0H326.0ZM362.6 231.3H374.8V238.0H362.6ZM435.9 231.3H448.1V238.0H435.9ZM558.0 231.3H570.2V238.0H558.0ZM570.2 231.3H582.4V238.0H570.2ZM594.6 231.3H606.8V238.0H594.6ZM94.0 238.0H106.2V244.8H94.0ZM118.4 238.0H130.6V244.8H118.4ZM142.8 238.0H155.0V244.8H142.8ZM191.7 238.0H203.9V244.8H191.7ZM228.3 238.0H240.5V244.8H228.3ZM240.5 238.0H252.7V244.8H240.5ZM252.7 238.0H264.9V244.8H252.7ZM289.3 238.0H301.6V244.8H289.3ZM326.0 238.0H338.2V244.8H326.0ZM338.2 238.0H350.4V244.8H338.2ZM362.6 238.0H374.8V244.8H362.6ZM435.9 238.0H448.1V244.8H435.9ZM448.1 238.0H460.3V244.8H448.1ZM460.3 238.0H472.5V244.8H460.3ZM484.7 238.0H496.9V244.8H484.7ZM509.1 238.0H521.3V244.8H509.1ZM94.0 244.8H106.2V251.6H94.0ZM118.4 244.8H130.6V251.6H118.4ZM216.1 244.8H228.3V251.6H216.1ZM277.1 244.8H289.3V251.6H277.1ZM301.6 244.8H313.8V251.6H301.6ZM448.1 244.8H460.3V251.6H448.1ZM509.1 244.8H521.3V251.6H509.1ZM167.3 251.6H179.5V258.4H167.3ZM216.1 251.6H228.3V258.4H216.1ZM228.3 251.6H240.5V258.4H228.3ZM350.4 251.6H362.6V258.4H350.4ZM387.0 251.6H399.2V258.4H387.0ZM448.1 251.6H460.3V258.4H448.1ZM484.7 251.6H496.9V258.4H484.7ZM509.1 251.6H521.3V258.4H509.1ZM570.2 251.6H582.4V258.4H570.2ZM252.7 258.4H264.9V265.1H252.7ZM277.1 258.4H289.3V265.1H277.1ZM289.3 258.4H301.6V265.1H289.3ZM399.2 258.4H411.4V265.1H399.2ZM472.5 258.4H484.7V265.1H472.5ZM558.0 258.4H570.2V265.1H558.0ZM606.8 258.4H619.0V265.1H606.8ZM118.4 265.1H130.6V271.9H118.4ZM130.6 265.1H142.8V271.9H130.6ZM203.9 265.1H216.1V271.9H203.9ZM228.3 265.1H240.5V271.9H228.3ZM252.7 265.1H264.9V271.9H252.7ZM264.9 265.1H277.1V271.9H264.9ZM277.1 265.1H289.3V271.9H277.1ZM374.8 265.1H387.0V271.9H374.8ZM411.4 265.1H423.7V271.9H411.4ZM606.8 265.1H619.0V271.9H606.8ZM130.6 271.9H142.8V278.7H130.6ZM326.0 271.9H338.2V278.7H326.0ZM387.0 271.9H399.2V278.7H387.0ZM399.2 271.9H411.4V278.7H399.2ZM448.1 271.9H460.3V278.7H448.1ZM558.0 271.9H570.2V278.7H558.0ZM570.2 271.9H582.4V278.7H570.2ZM106.2 278.7H118.4V285.5H106.2ZM240.5 278.7H252.7V285.5H240.5ZM252.7 278.7H264.9V285.5H252.7ZM289.3 278.7H301.6V285.5H289.3ZM301.6 278.7H313.8V285.5H301.6ZM374.8 278.7H387.0V285.5H374.8ZM387.0 278.7H399.2V285.5H387.0ZM472.5 278.7H484.7V285.5H472.5ZM521.3 278.7H533.5V285.5H521.3ZM533.5 278.7H545.7V285.5H533.5ZM167.3 285.5H179.5V292.2H167.3ZM326.0 285.5H338.2V292.2H326.0ZM399.2 285.5H411.4V292.2H399.2ZM533.5 285.5H545.7V292.2H533.5ZM106.2 292.2H118.4V299.0H106.2ZM252.7 292.2H264.9V299.0H252.7ZM289.3 292.2H301.6V299.0H289.3ZM301.6 292.2H313.8V299.0H301.6ZM326.0 292.2H338.2V299.0H326.0ZM374.8 292.2H387.0V299.0H374.8ZM570.2 292.2H582.4V299.0H570.2ZM191.7 299.0H203.9V305.8H191.7ZM264.9 299.0H277.1V305.8H264.9ZM326.0 299.0H338.2V305.8H326.0ZM362.6 299.0H374.8V305.8H362.6ZM374.8 299.0H387.0V305.8H374.8ZM387.0 299.0H399.2V305.8H387.0ZM496.9 299.0H509.1V305.8H496.9ZM167.3 305.8H179.5V312.6H167.3ZM191.7 305.8H203.9V312.6H191.7ZM203.9 305.8H216.1V312.6H203.9ZM240.5 305.8H252.7V312.6H240.5ZM252.7 305.8H264.9V312.6H252.7ZM142.8 312.6H155.0V319.3H142.8ZM155.0 312.6H167.3V319.3H155.0ZM203.9 312.6H216.1V319.3H203.9ZM252.7 312.6H264.9V319.3H252.7ZM277.1 312.6H289.3V319.3H277.1ZM289.3 312.6H301.6V319.3H289.3ZM472.5 312.6H484.7V319.3H472.5ZM94.0 319.3H106.2V326.1H94.0ZM118.4 319.3H130.6V326.1H118.4ZM130.6 319.3H142.8V326.1H130.6ZM289.3 319.3H301.6V326.1H289.3ZM301.6 319.3H313.8V326.1H301.6ZM326.0 319.3H338.2V326.1H326.0ZM411.4 319.3H423.7V326.1H411.4ZM545.7 319.3H558.0V326.1H545.7ZM94.0 326.1H106.2V332.9H94.0ZM142.8 326.1H155.0V332.9H142.8ZM155.0 326.1H167.3V332.9H155.0ZM301.6 326.1H313.8V332.9H301.6ZM448.1 326.1H460.3V332.9H448.1ZM545.7 326.1H558.0V332.9H545.7ZM142.8 332.9H155.0V339.7H142.8ZM179.5 332.9H191.7V339.7H179.5ZM191.7 332.9H203.9V339.7H191.7ZM240.5 332.9H252.7V339.7H240.5ZM252.7 332.9H264.9V339.7H252.7ZM362.6 332.9H374.8V339.7H362.6ZM435.9 332.9H448.1V339.7H435.9ZM521.3 332.9H533.5V339.7H521.3ZM558.0 332.9H570.2V339.7H558.0ZM570.2 332.9H582.4V339.7H570.2ZM594.6 332.9H606.8V339.7H594.6ZM130.6 339.7H142.8V346.4H130.6ZM155.0 339.7H167.3V346.4H155.0ZM179.5 339.7H191.7V346.4H179.5ZM338.2 339.7H350.4V346.4H338.2ZM435.9 339.7H448.1V346.4H435.9ZM460.3 339.7H472.5V346.4H460.3ZM496.9 339.7H509.1V346.4H496.9ZM509.1 339.7H521.3V346.4H509.1ZM106.2 346.4H118.4V353.2H106.2ZM155.0 346.4H167.3V353.2H155.0ZM216.1 346.4H228.3V353.2H216.1ZM289.3 346.4H301.6V353.2H289.3ZM301.6 346.4H313.8V353.2H301.6ZM435.9 346.4H448.1V353.2H435.9ZM570.2 346.4H582.4V353.2H570.2ZM118.4 353.2H130.6V360.0H118.4ZM130.6 353.2H142.8V360.0H130.6ZM142.8 353.2H155.0V360.0H142.8ZM240.5 353.2H252.7V360.0H240.5ZM289.3 353.2H301.6V360.0H289.3ZM387.0 353.2H399.2V360.0H387.0ZM399.2 353.2H411.4V360.0H399.2ZM460.3 353.2H472.5V360.0H460.3ZM606.8 353.2H619.0V360.0H606.8ZM167.3 360.0H179.5V366.8H167.3ZM179.5 360.0H191.7V366.8H179.5ZM228.3 360.0H240.5V366.8H228.3ZM264.9 360.0H277.1V366.8H264.9ZM448.1 360.0H460.3V366.8H448.1ZM533.5 360.0H545.7V366.8H533.5ZM594.6 360.0H606.8V366.8H594.6ZM179.5 366.8H191.7V373.5H179.5ZM338.2 366.8H350.4V373.5H338.2ZM399.2 366.8H411.4V373.5H399.2ZM435.9 366.8H448.1V373.5H435.9ZM460.3 366.8H472.5V373.5H460.3ZM484.7 366.8H496.9V373.5H484.7ZM496.9 366.8H509.1V373.5H496.9ZM509.1 366.8H521.3V373.5H509.1ZM545.7 366.8H558.0V373.5H545.7ZM118.4 373.5H130.6V380.3H118.4ZM130.6 373.5H142.8V380.3H130.6ZM252.7 373.5H264.9V380.3H252.7ZM326.0 373.5H338.2V380.3H326.0ZM155.0 380.3H167.3V387.1H155.0ZM277.1 380.3H289.3V387.1H277.1ZM301.6 380.3H313.8V387.1H301.6ZM484.7 380.3H496.9V387.1H484.7ZM142.8 387.1H155.0V393.9H142.8ZM252.7 387.1H264.9V393.9H252.7ZM362.6 387.1H374.8V393.9H362.6ZM435.9 387.1H448.1V393.9H435.9ZM509.1 387.1H521.3V393.9H509.1ZM545.7 387.1H558.0V393.9H545.7ZM558.0 387.1H570.2V393.9H558.0ZM606.8 387.1H619.0V393.9H606.8ZM106.2 393.9H118.4V400.6H106.2ZM118.4 393.9H130.6V400.6H118.4ZM203.9 393.9H216.1V400.6H203.9ZM301.6 393.9H313.8V400.6H301.6ZM399.2 393.9H411.4V400.6H399.2ZM448.1 393.9H460.3V400.6H448.1ZM484.7 393.9H496.9V400.6H484.7ZM496.9 393.9H509.1V400.6H496.9ZM203.9 400.6H216.1V407.4H203.9ZM240.5 400.6H252.7V407.4H240.5ZM350.4 400.6H362.6V407.4H350.4ZM399.2 400.6H411.4V407.4H399.2ZM460.3 400.6H472.5V407.4H460.3ZM484.7 400.6H496.9V407.4H484.7ZM509.1 400.6H521.3V407.4H509.1ZM167.3 407.4H179.5V414.2H167.3ZM264.9 407.4H277.1V414.2H264.9ZM374.8 407.4H387.0V414.2H374.8ZM496.9 407.4H509.1V414.2H496.9ZM106.2 414.2H118.4V421.0H106.2ZM179.5 414.2H191.7V421.0H179.5ZM374.8 414.2H387.0V421.0H374.8ZM594.6 414.2H606.8V421.0H594.6ZM94.0 421.0H106.2V427.7H94.0ZM179.5 421.0H191.7V427.7H179.5ZM203.9 421.0H216.1V427.7H203.9ZM240.5 421.0H252.7V427.7H240.5ZM252.7 421.0H264.9V427.7H252.7ZM460.3 421.0H472.5V427.7H460.3ZM496.9 421.0H509.1V427.7H496.9ZM533.5 421.0H545.7V427.7H533.5ZM130.6 427.7H142.8V434.5H130.6ZM167.3 427.7H179.5V434.5H167.3ZM179.5 427.7H191.7V434.5H179.5ZM264.9 427.7H277.1V434.5H264.9ZM558.0 427.7H570.2V434.5H558.0ZM203.9 434.5H216.1V441.3H203.9ZM216.1 434.5H228.3V441.3H216.1ZM228.3 434.5H240.5V441.3H228.3ZM252.7 434.5H264.9V441.3H252.7ZM264.9 434.5H277.1V441.3H264.9ZM326.0 434.5H338.2V441.3H326.0ZM338.2 434.5H350.4V441.3H338.2ZM472.5 434.5H484.7V441.3H472.5ZM533.5 434.5H545.7V441.3H533.5ZM558.0 434.5H570.2V441.3H558.0ZM94.0 441.3H106.2V448.1H94.0ZM106.2 441.3H118.4V448.1H106.2ZM118.4 441.3H130.6V448.1H118.4ZM155.0 441.3H167.3V448.1H155.0ZM191.7 441.3H203.9V448.1H191.7ZM216.1 441.3H228.3V448.1H216.1ZM240.5 441.3H252.7V448.1H240.5ZM374.8 441.3H387.0V448.1H374.8ZM399.2 441.3H411.4V448.1H399.2ZM496.9 441.3H509.1V448.1H496.9ZM106.2 448.1H118.4V454.8H106.2ZM118.4 448.1H130.6V454.8H118.4ZM130.6 448.1H142.8V454.8H130.6ZM142.8 448.1H155.0V454.8H142.8ZM155.0 448.1H167.3V454.8H155.0ZM289.3 448.1H301.6V454.8H289.3ZM399.2 448.1H411.4V454.8H399.2ZM472.5 448.1H484.7V454.8H472.5ZM582.4 448.1H594.6V454.8H582.4ZM191.7 454.8H203.9V461.6H191.7ZM203.9 454.8H216.1V461.6H203.9ZM216.1 454.8H228.3V461.6H216.1ZM301.6 454.8H313.8V461.6H301.6ZM399.2 454.8H411.4V461.6H399.2ZM411.4 454.8H423.7V461.6H411.4ZM533.5 454.8H545.7V461.6H533.5ZM606.8 454.8H619.0V461.6H606.8ZM142.8 461.6H155.0V468.4H142.8ZM167.3 461.6H179.5V468.4H167.3ZM411.4 461.6H423.7V468.4H411.4ZM460.3 461.6H472.5V468.4H460.3ZM484.7 461.6H496.9V468.4H484.7ZM558.0 461.6H570.2V468.4H558.0ZM570.2 461.6H582.4V468.4H570.2ZM155.0 468.4H167.3V475.2H155.0ZM216.1 468.4H228.3V475.2H216.1ZM252.7 468.4H264.9V475.2H252.7ZM313.8 468.4H326.0V475.2H313.8ZM326.0 468.4H338.2V475.2H326.0ZM411.4 468.4H423.7V475.2H411.4ZM545.7 468.4H558.0V475.2H545.7ZM142.8 475.2H155.0V481.9H142.8ZM167.3 475.2H179.5V481.9H167.3ZM179.5 475.2H191.7V481.9H179.5ZM252.7 475.2H264.9V481.9H252.7ZM277.1 475.2H289.3V481.9H277.1ZM387.0 475.2H399.2V481.9H387.0ZM435.9 475.2H448.1V481.9H435.9ZM496.9 475.2H509.1V481.9H496.9ZM155.0 481.9H167.3V488.7H155.0ZM191.7 481.9H203.9V488.7H191.7ZM228.3 481.9H240.5V488.7H228.3ZM252.7 481.9H264.9V488.7H252.7ZM374.8 481.9H387.0V488.7H374.8ZM411.4 481.9H423.7V488.7H411.4ZM130.6 488.7H142.8V495.5H130.6ZM142.8 488.7H155.0V495.5H142.8ZM228.3 488.7H240.5V495.5H228.3ZM264.9 488.7H277.1V495.5H264.9ZM301.6 488.7H313.8V495.5H301.6ZM326.0 488.7H338.2V495.5H326.0ZM460.3 488.7H472.5V495.5H460.3ZM606.8 488.7H619.0V495.5H606.8ZM130.6 495.5H142.8V502.3H130.6ZM155.0 495.5H167.3V502.3H155.0ZM374.8 495.5H387.0V502.3H374.8ZM423.7 495.5H435.9V502.3H423.7ZM582.4 495.5H594.6V502.3H582.4ZM594.6 495.5H606.8V502.3H594.6ZM130.6 502.3H142.8V509.0H130.6ZM142.8 502.3H155.0V509.0H142.8ZM155.0 502.3H167.3V509.0H155.0ZM167.3 502.3H179.5V509.0H167.3ZM228.3 502.3H240.5V509.0H228.3ZM240.5 502.3H252.7V509.0H240.5ZM301.6 502.3H313.8V509.0H301.6ZM374.8 502.3H387.0V509.0H374.8ZM545.7 502.3H558.0V509.0H545.7ZM582.4 502.3H594.6V509.0H582.4ZM594.6 502.3H606.8V509.0H594.6ZM118.4 509.0H130.6V515.8H118.4ZM155.0 509.0H167.3V515.8H155.0ZM228.3 509.0H240.5V515.8H228.3ZM313.8 509.0H326.0V515.8H313.8ZM326.0 509.0H338.2V515.8H326.0ZM338.2 509.0H350.4V515.8H338.2ZM484.7 509.0H496.9V515.8H484.7ZM570.2 509.0H582.4V515.8H570.2ZM582.4 509.0H594.6V515.8H582.4ZM130.6 515.8H142.8V522.6H130.6ZM142.8 515.8H155.0V522.6H142.8ZM155.0 515.8H167.3V522.6H155.0ZM179.5 515.8H191.7V522.6H179.5ZM240.5 515.8H252.7V522.6H240.5ZM252.7 515.8H264.9V522.6H252.7ZM338.2 515.8H350.4V522.6H338.2ZM374.8 515.8H387.0V522.6H374.8ZM94.0 522.6H106.2V529.4H94.0ZM118.4 522.6H130.6V529.4H118.4ZM155.0 522.6H167.3V529.4H155.0ZM179.5 522.6H191.7V529.4H179.5ZM374.8 522.6H387.0V529.4H374.8ZM411.4 522.6H423.7V529.4H411.4ZM570.2 522.6H582.4V529.4H570.2ZM130.6 529.4H142.8V536.1H130.6ZM142.8 529.4H155.0V536.1H142.8ZM179.5 529.4H191.7V536.1H179.5ZM277.1 529.4H289.3V536.1H277.1ZM326.0 529.4H338.2V536.1H326.0ZM338.2 529.4H350.4V536.1H338.2ZM411.4 529.4H423.7V536.1H411.4ZM435.9 529.4H448.1V536.1H435.9ZM460.3 529.4H472.5V536.1H460.3ZM570.2 529.4H582.4V536.1H570.2ZM582.4 529.4H594.6V536.1H582.4ZM594.6 529.4H606.8V536.1H594.6ZM167.3 536.1H179.5V542.9H167.3ZM179.5 536.1H191.7V542.9H179.5ZM191.7 536.1H203.9V542.9H191.7ZM289.3 536.1H301.6V542.9H289.3ZM411.4 536.1H423.7V542.9H411.4ZM496.9 536.1H509.1V542.9H496.9ZM130.6 542.9H142.8V549.7H130.6ZM155.0 542.9H167.3V549.7H155.0ZM167.3 542.9H179.5V549.7H167.3ZM203.9 542.9H216.1V549.7H203.9ZM374.8 542.9H387.0V549.7H374.8ZM399.2 542.9H411.4V549.7H399.2ZM484.7 542.9H496.9V549.7H484.7ZM496.9 542.9H509.1V549.7H496.9ZM533.5 542.9H545.7V549.7H533.5ZM558.0 542.9H570.2V549.7H558.0ZM582.4 542.9H594.6V549.7H582.4ZM106.2 549.7H118.4V556.5H106.2ZM142.8 549.7H155.0V556.5H142.8ZM277.1 549.7H289.3V556.5H277.1ZM326.0 549.7H338.2V556.5H326.0ZM387.0 549.7H399.2V556.5H387.0ZM448.1 549.7H460.3V556.5H448.1ZM472.5 549.7H484.7V556.5H472.5ZM496.9 549.7H509.1V556.5H496.9ZM106.2 556.5H118.4V563.2H106.2ZM118.4 556.5H130.6V563.2H118.4ZM142.8 556.5H155.0V563.2H142.8ZM191.7 556.5H203.9V563.2H191.7ZM203.9 556.5H216.1V563.2H203.9ZM326.0 556.5H338.2V563.2H326.0ZM338.2 556.5H350.4V563.2H338.2ZM399.2 556.5H411.4V563.2H399.2ZM411.4 556.5H423.7V563.2H411.4ZM521.3 556.5H533.5V563.2H521.3ZM533.5 556.5H545.7V563.2H533.5ZM94.0 563.2H106.2V570.0H94.0ZM142.8 563.2H155.0V570.0H142.8ZM179.5 563.2H191.7V570.0H179.5ZM289.3 563.2H301.6V570.0H289.3ZM301.6 563.2H313.8V570.0H301.6ZM545.7 563.2H558.0V570.0H545.7ZM582.4 563.2H594.6V570.0H582.4ZM142.8 570.0H155.0V576.8H142.8ZM179.5 570.0H191.7V576.8H179.5ZM326.0 570.0H338.2V576.8H326.0ZM362.6 570.0H374.8V576.8H362.6ZM374.8 570.0H387.0V576.8H374.8ZM411.4 570.0H423.7V576.8H411.4ZM521.3 570.0H533.5V576.8H521.3ZM558.0 570.0H570.2V576.8H558.0ZM582.4 570.0H594.6V576.8H582.4ZM594.6 570.0H606.8V576.8H594.6ZM118.4 576.8H130.6V583.6H118.4ZM228.3 576.8H240.5V583.6H228.3ZM411.4 576.8H423.7V583.6H411.4ZM435.9 576.8H448.1V583.6H435.9ZM533.5 576.8H545.7V583.6H533.5ZM570.2 576.8H582.4V583.6H570.2ZM594.6 576.8H606.8V583.6H594.6ZM118.4 583.6H130.6V590.3H118.4ZM240.5 583.6H252.7V590.3H240.5ZM301.6 583.6H313.8V590.3H301.6ZM362.6 583.6H374.8V590.3H362.6ZM374.8 583.6H387.0V590.3H374.8ZM435.9 583.6H448.1V590.3H435.9ZM448.1 583.6H460.3V590.3H448.1ZM484.7 583.6H496.9V590.3H484.7ZM521.3 583.6H533.5V590.3H521.3ZM106.2 590.3H118.4V597.1H106.2ZM203.9 590.3H216.1V597.1H203.9ZM264.9 590.3H277.1V597.1H264.9ZM411.4 590.3H423.7V597.1H411.4ZM496.9 590.3H509.1V597.1H496.9ZM545.7 590.3H558.0V597.1H545.7ZM582.4 590.3H594.6V597.1H582.4ZM594.6 590.3H606.8V597.1H594.6ZM118.4 597.1H130.6V603.9H118.4ZM191.7 597.1H203.9V603.9H191.7ZM252.7 597.1H264.9V603.9H252.7ZM387.0 597.1H399.2V603.9H387.0ZM423.7 597.1H435.9V603.9H423.7ZM521.3 597.1H533.5V603.9H521.3ZM558.0 597.1H570.2V603.9H558.0ZM252.7 603.9H264.9V610.7H252.7ZM326.0 603.9H338.2V610.7H326.0ZM423.7 603.9H435.9V610.7H423.7ZM448.1 603.9H460.3V610.7H448.1ZM472.5 603.9H484.7V610.7H472.5ZM484.7 603.9H496.9V610.7H484.7ZM509.1 603.9H521.3V610.7H509.1ZM545.7 603.9H558.0V610.7H545.7ZM582.4 603.9H594.6V610.7H582.4ZM216.1 610.7H228.3V617.4H216.1ZM326.0 610.7H338.2V617.4H326.0ZM435.9 610.7H448.1V617.4H435.9ZM594.6 610.7H606.8V617.4H594.6ZM106.2 617.4H118.4V624.2H106.2ZM118.4 617.4H130.6V624.2H118.4ZM130.6 617.4H142.8V624.2H130.6ZM240.5 617.4H252.7V624.2H240.5ZM252.7 617.4H264.9V624.2H252.7ZM289.3 617.4H301.6V624.2H289.3ZM399.2 617.4H411.4V624.2H399.2ZM423.7 617.4H435.9V624.2H423.7ZM472.5 617.4H484.7V624.2H472.5ZM484.7 617.4H496.9V624.2H484.7ZM533.5 617.4H545.7V624.2H533.5ZM94.0 624.2H106.2V631.0H94.0ZM130.6 624.2H142.8V631.0H130.6ZM167.3 624.2H179.5V631.0H167.3ZM240.5 624.2H252.7V631.0H240.5ZM338.2 624.2H350.4V631.0H338.2ZM362.6 624.2H374.8V631.0H362.6ZM411.4 624.2H423.7V631.0H411.4ZM484.7 624.2H496.9V631.0H484.7Z"/>
<path fill="#7dc1d7" d="M277.1 28.0H289.3V34.8H277.1ZM313.8 28.0H326.0V34.8H313.8ZM423.7 28.0H435.9V34.8H423.7ZM264.9 34.8H277.1V41.6H264.9ZM374.8 48.3H387.0V55.1H374.8ZM411.4 68.7H423.7V75.4H411.4ZM130.6 75.4H142.8V82.2H130.6ZM594.6 75.4H606.8V82.2H594.6ZM289.3 82.2H301.6V89.0H289.3ZM558.0 82.2H570.2V89.0H558.0ZM594.6 82.2H606.8V89.0H594.6ZM130.6 89.0H142.8V95.8H130.6ZM399.2 89.0H411.4V95.8H399.2ZM130.6 95.8H142.8V102.5H130.6ZM264.9 95.8H277.1V102.5H264.9ZM130.6 102.5H142.8V109.3H130.6ZM264.9 102.5H277.1V109.3H264.9ZM606.8 102.5H619.0V109.3H606.8ZM387.0 143.2H399.2V150.0H387.0ZM130.6 156.7H142.8V163.5H130.6ZM387.0 156.7H399.2V163.5H387.0ZM362.6 163.5H374.8V170.3H362.6ZM179.5 177.1H191.7V183.8H179.5ZM216.1 177.1H228.3V183.8H216.1ZM545.7 190.6H558.0V197.4H545.7ZM216.1 197.4H228.3V204.2H216.1ZM582.4 197.4H594.6V204.2H582.4ZM387.0 204.2H399.2V210.9H387.0ZM582.4 210.9H594.6V217.7H582.4ZM594.6 217.7H606.8V224.5H594.6ZM558.0 244.8H570.2V251.6H558.0ZM289.3 251.6H301.6V258.4H289.3ZM301.6 258.4H313.8V265.1H301.6ZM533.5 271.9H545.7V278.7H533.5ZM179.5 285.5H191.7V292.2H179.5ZM472.5 285.5H484.7V292.2H472.5ZM606.8 285.5H619.0V292.2H606.8ZM277.1 305.8H289.3V312.6H277.1ZM106.2 319.3H118.4V326.1H106.2ZM240.5 339.7H252.7V346.4H240.5ZM533.5 339.7H545.7V346.4H533.5ZM228.3 346.4H240.5V353.2H228.3ZM289.3 360.0H301.6V366.8H289.3ZM606.8 366.8H619.0V373.5H606.8ZM387.0 380.3H399.2V387.1H387.0ZM399.2 380.3H411.4V387.1H399.2ZM277.1 387.1H289.3V393.9H277.1ZM179.5 393.9H191.7V400.6H179.5ZM216.1 421.0H228.3V427.7H216.1ZM216.1 427.7H228.3V434.5H216.1ZM301.6 448.1H313.8V454.8H301.6ZM558.0 454.8H570.2V461.6H558.0ZM228.3 461.6H240.5V468.4H228.3ZM277.1 481.9H289.3V488.7H277.1ZM179.5 488.7H191.7V495.5H179.5ZM313.8 488.7H326.0V495.5H313.8ZM277.1 502.3H289.3V509.0H277.1ZM545.7 509.0H558.0V515.8H545.7ZM264.9 522.6H277.1V529.4H264.9ZM277.1 522.6H289.3V529.4H277.1ZM423.7 529.4H435.9V536.1H423.7ZM130.6 549.7H142.8V556.5H130.6ZM521.3 549.7H533.5V556.5H521.3ZM594.6 556.5H606.8V563.2H594.6ZM167.3 563.2H179.5V570.0H167.3ZM289.3 576.8H301.6V583.6H289.3ZM423.7 576.8H435.9V583.6H423.7ZM191.7 583.6H203.9V590.3H191.7ZM558.0 590.3H570.2V597.1H558.0Z"/>
<path fill="#b8dde9" d="M289.3 28.0H301.6V34.8H289.3ZM374.8 28.0H387.0V34.8H374.8ZM399.2 28.0H411.4V34.8H399.2ZM411.4 28.0H423.7V34.8H411.4ZM435.9 28.0H448.1V34.8H435.9ZM496.9 28.0H509.1V34.8H496.9ZM130.6 34.8H142.8V41.6H130.6ZM277.1 34.8H289.3V41.6H277.1ZM326.0 34.8H338.2V41.6H326.0ZM582.4 34.8H594.6V41.6H582.4ZM594.6 34.8H606.8V41.6H594.6ZM264.9 41.6H277.1V48.3H264.9ZM277.1 41.6H289.3V48.3H277.1ZM496.9 41.6H509.1V48.3H496.9ZM106.2 48.3H118.4V55.1H106.2ZM118.4 48.3H130.6V55.1H118.4ZM448.1 48.3H460.3V55.1H448.1ZM582.4 48.3H594.6V55.1H582.4ZM167.3 55.1H179.5V61.9H167.3ZM228.3 55.1H240.5V61.9H228.3ZM423.7 55.1H435.9V61.9H423.7ZM582.4 55.1H594.6V61.9H582.4ZM594.6 55.1H606.8V61.9H594.6ZM106.2 61.9H118.4V68.7H106.2ZM167.3 61.9H179.5V68.7H167.3ZM313.8 61.9H326.0V68.7H313.8ZM326.0 61.9H338.2V68.7H326.0ZM435.9 61.9H448.1V68.7H435.9ZM545.7 61.9H558.0V68.7H545.7ZM155.0 68.7H167.3V75.4H155.0ZM179.5 68.7H191.7V75.4H179.5ZM264.9 68.7H277.1V75.4H264.9ZM326.0 68.7H338.2V75.4H326.0ZM399.2 68.7H411.4V75.4H399.2ZM435.9 68.7H448.1V75.4H435.9ZM118.4 75.4H130.6V82.2H118.4ZM228.3 75.4H240.5V82.2H228.3ZM326.0 75.4H338.2V82.2H326.0ZM374.8 75.4H387.0V82.2H374.8ZM387.0 75.4H399.2V82.2H387.0ZM435.9 75.4H448.1V82.2H435.9ZM558.0 75.4H570.2V82.2H558.0ZM118.4 82.2H130.6V89.0H118.4ZM155.0 82.2H167.3V89.0H155.0ZM252.7 82.2H264.9V89.0H252.7ZM252.7 89.0H264.9V95.8H252.7ZM313.8 89.0H326.0V95.8H313.8ZM338.2 89.0H350.4V95.8H338.2ZM374.8 89.0H387.0V95.8H374.8ZM423.7 89.0H435.9V95.8H423.7ZM558.0 89.0H570.2V95.8H558.0ZM606.8 89.0H619.0V95.8H606.8ZM167.3 95.8H179.5V102.5H167.3ZM313.8 95.8H326.0V102.5H313.8ZM338.2 95.8H350.4V102.5H338.2ZM399.2 95.8H411.4V102.5H399.2ZM106.2 102.5H118.4V109.3H106.2ZM118.4 102.5H130.6V109.3H118.4ZM277.1 102.5H289.3V109.3H277.1ZM289.3 102.5H301.6V109.3H289.3ZM313.8 102.5H326.0V109.3H313.8ZM338.2 102.5H350.4V109.3H338.2ZM411.4 102.5H423.7V109.3H411.4ZM289.3 109.3H301.6V116.1H289.3ZM399.2 109.3H411.4V116.1H399.2ZM435.9 109.3H448.1V116.1H435.9ZM533.5 109.3H545.7V116.1H533.5ZM301.6 116.1H313.8V122.9H301.6ZM387.0 116.1H399.2V122.9H387.0ZM448.1 122.9H460.3V129.6H448.1ZM118.4 129.6H130.6V136.4H118.4ZM606.8 129.6H619.0V136.4H606.8ZM179.5 136.4H191.7V143.2H179.5ZM399.2 136.4H411.4V143.2H399.2ZM435.9 136.4H448.1V143.2H435.9ZM155.0 143.2H167.3V150.0H155.0ZM179.5 143.2H191.7V150.0H179.5ZM264.9 143.2H277.1V150.0H264.9ZM435.9 143.2H448.1V150.0H435.9ZM509.1 143.2H521.3V150.0H509.1ZM594.6 143.2H606.8V150.0H594.6ZM155.0 150.0H167.3V156.7H155.0ZM301.6 150.0H313.8V156.7H301.6ZM313.8 150.0H326.0V156.7H313.8ZM435.9 150.0H448.1V156.7H435.9ZM594.6 150.0H606.8V156.7H594.6ZM313.8 156.7H326.0V163.5H313.8ZM399.2 156.7H411.4V163.5H399.2ZM423.7 156.7H435.9V163.5H423.7ZM594.6 156.7H606.8V163.5H594.6ZM106.2 163.5H118.4V170.3H106.2ZM118.4 163.5H130.6V170.3H118.4ZM130.6 163.5H142.8V170.3H130.6ZM252.7 163.5H264.9V170.3H252.7ZM155.0 170.3H167.3V177.1H155.0ZM203.9 170.3H216.1V177.1H203.9ZM216.1 170.3H228.3V177.1H216.1ZM252.7 170.3H264.9V177.1H252.7ZM484.7 170.3H496.9V177.1H484.7ZM545.7 170.3H558.0V177.1H545.7ZM606.8 170.3H619.0V177.1H606.8ZM191.7 177.1H203.9V183.8H191.7ZM362.6 177.1H374.8V183.8H362.6ZM387.0 177.1H399.2V183.8H387.0ZM289.3 183.8H301.6V190.6H289.3ZM387.0 183.8H399.2V190.6H387.0ZM582.4 183.8H594.6V190.6H582.4ZM118.4 190.6H130.6V197.4H118.4ZM155.0 190.6H167.3V197.4H155.0ZM374.8 190.6H387.0V197.4H374.8ZM496.9 190.6H509.1V197.4H496.9ZM570.2 190.6H582.4V197.4H570.2ZM594.6 190.6H606.8V197.4H594.6ZM94.0 197.4H106.2V204.2H94.0ZM155.0 197.4H167.3V204.2H155.0ZM191.7 197.4H203.9V204.2H191.7ZM350.4 197.4H362.6V204.2H350.4ZM448.1 197.4H460.3V204.2H448.1ZM570.2 197.4H582.4V204.2H570.2ZM155.0 204.2H167.3V210.9H155.0ZM374.8 204.2H387.0V210.9H374.8ZM411.4 204.2H423.7V210.9H411.4ZM423.7 204.2H435.9V210.9H423.7ZM435.9 204.2H448.1V210.9H435.9ZM521.3 204.2H533.5V210.9H521.3ZM533.5 204.2H545.7V210.9H533.5ZM582.4 204.2H594.6V210.9H582.4ZM594.6 204.2H606.8V210.9H594.6ZM94.0 210.9H106.2V217.7H94.0ZM106.2 210.9H118.4V217.7H106.2ZM130.6 210.9H142.8V217.7H130.6ZM240.5 210.9H252.7V217.7H240.5ZM289.3 210.9H301.6V217.7H289.3ZM362.6 210.9H374.8V217.7H362.6ZM570.2 210.9H582.4V217.7H570.2ZM606.8 210.9H619.0V217.7H606.8ZM203.9 217.7H216.1V224.5H203.9ZM326.0 217.7H338.2V224.5H326.0ZM448.1 217.7H460.3V224.5H448.1ZM545.7 217.7H558.0V224.5H545.7ZM582.4 217.7H594.6V224.5H582.4ZM179.5 224.5H191.7V231.3H179.5ZM252.7 224.5H264.9V231.3H252.7ZM289.3 224.5H301.6V231.3H289.3ZM313.8 224.5H326.0V231.3H313.8ZM326.0 224.5H338.2V231.3H326.0ZM387.0 224.5H399.2V231.3H387.0ZM448.1 224.5H460.3V231.3H448.1ZM484.7 224.5H496.9V231.3H484.7ZM570.2 224.5H582.4V231.3H570.2ZM94.0 231.3H106.2V238.0H94.0ZM118.4 231.3H130.6V238.0H118.4ZM142.8 231.3H155.0V238.0H142.8ZM179.5 231.3H191.7V238.0H179.5ZM203.9 231.3H216.1V238.0H203.9ZM216.1 231.3H228.3V238.0H216.1ZM252.7 231.3H264.9V238.0H252.7ZM301.6 231.3H313.8V238.0H301.6ZM350.4 231.3H362.6V238.0H350.4ZM496.9 231.3H509.1V238.0H496.9ZM155.0 238.0H167.3V244.8H155.0ZM203.9 238.0H216.1V244.8H203.9ZM216.1 238.0H228.3V244.8H216.1ZM350.4 238.0H362.6V244.8H350.4ZM472.5 238.0H484.7V244.8H472.5ZM496.9 238.0H509.1V244.8H496.9ZM558.0 238.0H570.2V244.8H558.0ZM570.2 238.0H582.4V244.8H570.2ZM582.4 238.0H594.6V244.8H582.4ZM594.6 238.0H606.8V244.8H594.6ZM106.2 244.8H118.4V251.6H106.2ZM130.6 244.8H142.8V251.6H130.6ZM155.0 244.8H167.3V251.6H155.0ZM264.9 244.8H277.1V251.6H264.9ZM313.8 244.8H326.0V251.6H313.8ZM387.0 244.8H399.2V251.6H387.0ZM484.7 244.8H496.9V251.6H484.7ZM533.5 244.8H545.7V251.6H533.5ZM106.2 251.6H118.4V258.4H106.2ZM155.0 251.6H167.3V258.4H155.0ZM203.9 251.6H216.1V258.4H203.9ZM252.7 251.6H264.9V258.4H252.7ZM264.9 251.6H277.1V258.4H264.9ZM558.0 251.6H570.2V258.4H558.0ZM130.6 258.4H142.8V265.1H130.6ZM167.3 258.4H179.5V265.1H167.3ZM179.5 258.4H191.7V265.1H179.5ZM338.2 258.4H350.4V265.1H338.2ZM387.0 258.4H399.2V265.1H387.0ZM106.2 265.1H118.4V271.9H106.2ZM155.0 265.1H167.3V271.9H155.0ZM167.3 265.1H179.5V271.9H167.3ZM399.2 265.1H411.4V271.9H399.2ZM484.7 265.1H496.9V271.9H484.7ZM496.9 265.1H509.1V271.9H496.9ZM94.0 271.9H106.2V278.7H94.0ZM106.2 271.9H118.4V278.7H106.2ZM252.7 271.9H264.9V278.7H252.7ZM264.9 271.9H277.1V278.7H264.9ZM301.6 271.9H313.8V278.7H301.6ZM338.2 271.9H350.4V278.7H338.2ZM374.8 271.9H387.0V278.7H374.8ZM496.9 271.9H509.1V278.7H496.9ZM118.4 278.7H130.6V285.5H118.4ZM179.5 278.7H191.7V285.5H179.5ZM228.3 278.7H240.5V285.5H228.3ZM277.1 278.7H289.3V285.5H277.1ZM448.1 278.7H460.3V285.5H448.1ZM509.1 278.7H521.3V285.5H509.1ZM558.0 278.7H570.2V285.5H558.0ZM191.7 285.5H203.9V292.2H191.7ZM252.7 285.5H264.9V292.2H252.7ZM301.6 285.5H313.8V292.2H301.6ZM484.7 285.5H496.9V292.2H484.7ZM509.1 285.5H521.3V292.2H509.1ZM155.0 292.2H167.3V299.0H155.0ZM191.7 292.2H203.9V299.0H191.7ZM228.3 292.2H240.5V299.0H228.3ZM509.1 292.2H521.3V299.0H509.1ZM521.3 292.2H533.5V299.0H521.3ZM533.5 292.2H545.7V299.0H533.5ZM142.8 299.0H155.0V305.8H142.8ZM289.3 299.0H301.6V305.8H289.3ZM484.7 299.0H496.9V305.8H484.7ZM509.1 299.0H521.3V305.8H509.1ZM118.4 305.8H130.6V312.6H118.4ZM326.0 305.8H338.2V312.6H326.0ZM338.2 305.8H350.4V312.6H338.2ZM374.8 305.8H387.0V312.6H374.8ZM496.9 312.6H509.1V319.3H496.9ZM362.6 319.3H374.8V326.1H362.6ZM496.9 319.3H509.1V326.1H496.9ZM521.3 319.3H533.5V326.1H521.3ZM582.4 319.3H594.6V326.1H582.4ZM594.6 319.3H606.8V326.1H594.6ZM118.4 326.1H130.6V332.9H118.4ZM130.6 326.1H142.8V332.9H130.6ZM240.5 326.1H252.7V332.9H240.5ZM362.6 326.1H374.8V332.9H362.6ZM374.8 326.1H387.0V332.9H374.8ZM387.0 326.1H399.2V332.9H387.0ZM496.9 326.1H509.1V332.9H496.9ZM118.4 332.9H130.6V339.7H118.4ZM448.1 332.9H460.3V339.7H448.1ZM472.5 332.9H484.7V339.7H472.5ZM533.5 332.9H545.7V339.7H533.5ZM606.8 332.9H619.0V339.7H606.8ZM94.0 339.7H106.2V346.4H94.0ZM142.8 339.7H155.0V346.4H142.8ZM203.9 339.7H216.1V346.4H203.9ZM313.8 339.7H326.0V346.4H313.8ZM423.7 339.7H435.9V346.4H423.7ZM118.4 346.4H130.6V353.2H118.4ZM130.6 346.4H142.8V353.2H130.6ZM338.2 346.4H350.4V353.2H338.2ZM106.2 353.2H118.4V360.0H106.2ZM179.5 353.2H191.7V360.0H179.5ZM301.6 353.2H313.8V360.0H301.6ZM570.2 353.2H582.4V360.0H570.2ZM387.0 360.0H399.2V366.8H387.0ZM106.2 366.8H118.4V373.5H106.2ZM264.9 366.8H277.1V373.5H264.9ZM179.5 373.5H191.7V380.3H179.5ZM240.5 373.5H252.7V380.3H240.5ZM289.3 373.5H301.6V380.3H289.3ZM374.8 373.5H387.0V380.3H374.8ZM387.0 373.5H399.2V380.3H387.0ZM570.2 373.5H582.4V380.3H570.2ZM142.8 380.3H155.0V387.1H142.8ZM167.3 380.3H179.5V387.1H167.3ZM313.8 380.3H326.0V387.1H313.8ZM179.5 387.1H191.7V393.9H179.5ZM142.8 393.9H155.0V400.6H142.8ZM167.3 393.9H179.5V400.6H167.3ZM277.1 400.6H289.3V407.4H277.1ZM106.2 407.4H118.4V414.2H106.2ZM118.4 407.4H130.6V414.2H118.4ZM533.5 407.4H545.7V414.2H533.5ZM570.2 407.4H582.4V414.2H570.2ZM289.3 414.2H301.6V421.0H289.3ZM118.4 421.0H130.6V427.7H118.4ZM155.0 421.0H167.3V427.7H155.0ZM191.7 421.0H203.9V427.7H191.7ZM277.1 421.0H289.3V427.7H277.1ZM338.2 421.0H350.4V427.7H338.2ZM350.4 421.0H362.6V427.7H350.4ZM142.8 427.7H155.0V434.5H142.8ZM252.7 427.7H264.9V434.5H252.7ZM277.1 427.7H289.3V434.5H277.1ZM350.4 427.7H362.6V434.5H350.4ZM472.5 427.7H484.7V434.5H472.5ZM94.0 434.5H106.2V441.3H94.0ZM106.2 434.5H118.4V441.3H106.2ZM118.4 434.5H130.6V441.3H118.4ZM130.6 434.5H142.8V441.3H130.6ZM142.8 434.5H155.0V441.3H142.8ZM155.0 434.5H167.3V441.3H155.0ZM167.3 434.5H179.5V441.3H167.3ZM191.7 434.5H203.9V441.3H191.7ZM240.5 434.5H252.7V441.3H240.5ZM350.4 434.5H362.6V441.3H350.4ZM460.3 434.5H472.5V441.3H460.3ZM130.6 441.3H142.8V448.1H130.6ZM203.9 441.3H216.1V448.1H203.9ZM252.7 441.3H264.9V448.1H252.7ZM264.9 441.3H277.1V448.1H264.9ZM277.1 441.3H289.3V448.1H277.1ZM313.8 441.3H326.0V448.1H313.8ZM338.2 441.3H350.4V448.1H338.2ZM350.4 441.3H362.6V448.1H350.4ZM460.3 441.3H472.5V448.1H460.3ZM472.5 441.3H484.7V448.1H472.5ZM558.0 441.3H570.2V448.1H558.0ZM240.5 448.1H252.7V454.8H240.5ZM264.9 448.1H277.1V454.8H264.9ZM350.4 448.1H362.6V454.8H350.4ZM460.3 448.1H472.5V454.8H460.3ZM484.7 448.1H496.9V454.8H484.7ZM545.7 448.1H558.0V454.8H545.7ZM570.2 448.1H582.4V454.8H570.2ZM106.2 454.8H118.4V461.6H106.2ZM130.6 454.8H142.8V461.6H130.6ZM142.8 454.8H155.0V461.6H142.8ZM252.7 454.8H264.9V461.6H252.7ZM460.3 454.8H472.5V461.6H460.3ZM484.7 454.8H496.9V461.6H484.7ZM496.9 454.8H509.1V461.6H496.9ZM155.0 461.6H167.3V468.4H155.0ZM179.5 461.6H191.7V468.4H179.5ZM338.2 461.6H350.4V468.4H338.2ZM399.2 461.6H411.4V468.4H399.2ZM582.4 461.6H594.6V468.4H582.4ZM374.8 468.4H387.0V475.2H374.8ZM423.7 468.4H435.9V475.2H423.7ZM472.5 468.4H484.7V475.2H472.5ZM496.9 468.4H509.1V475.2H496.9ZM582.4 468.4H594.6V475.2H582.4ZM289.3 475.2H301.6V481.9H289.3ZM423.7 475.2H435.9V481.9H423.7ZM460.3 475.2H472.5V481.9H460.3ZM94.0 481.9H106.2V488.7H94.0ZM167.3 481.9H179.5V488.7H167.3ZM179.5 481.9H191.7V488.7H179.5ZM301.6 481.9H313.8V488.7H301.6ZM460.3 481.9H472.5V488.7H460.3ZM155.0 488.7H167.3V495.5H155.0ZM167.3 488.7H179.5V495.5H167.3ZM399.2 488.7H411.4V495.5H399.2ZM411.4 488.7H423.7V495.5H411.4ZM484.7 488.7H496.9V495.5H484.7ZM240.5 495.5H252.7V502.3H240.5ZM460.3 495.5H472.5V502.3H460.3ZM191.7 502.3H203.9V509.0H191.7ZM203.9 502.3H216.1V509.0H203.9ZM252.7 502.3H264.9V509.0H252.7ZM289.3 502.3H301.6V509.0H289.3ZM313.8 502.3H326.0V509.0H313.8ZM423.7 502.3H435.9V509.0H423.7ZM533.5 502.3H545.7V509.0H533.5ZM570.2 502.3H582.4V509.0H570.2ZM94.0 509.0H106.2V515.8H94.0ZM301.6 509.0H313.8V515.8H301.6ZM399.2 509.0H411.4V515.8H399.2ZM411.4 509.0H423.7V515.8H411.4ZM106.2 515.8H118.4V522.6H106.2ZM289.3 515.8H301.6V522.6H289.3ZM313.8 515.8H326.0V522.6H313.8ZM399.2 515.8H411.4V522.6H399.2ZM460.3 515.8H472.5V522.6H460.3ZM472.5 515.8H484.7V522.6H472.5ZM484.7 515.8H496.9V522.6H484.7ZM496.9 515.8H509.1V522.6H496.9ZM509.1 515.8H521.3V522.6H509.1ZM106.2 522.6H118.4V529.4H106.2ZM167.3 522.6H179.5V529.4H167.3ZM191.7 522.6H203.9V529.4H191.7ZM252.7 522.6H264.9V529.4H252.7ZM472.5 522.6H484.7V529.4H472.5ZM484.7 522.6H496.9V529.4H484.7ZM594.6 522.6H606.8V529.4H594.6ZM606.8 522.6H619.0V529.4H606.8ZM118.4 529.4H130.6V536.1H118.4ZM191.7 529.4H203.9V536.1H191.7ZM289.3 529.4H301.6V536.1H289.3ZM484.7 529.4H496.9V536.1H484.7ZM142.8 536.1H155.0V542.9H142.8ZM277.1 536.1H289.3V542.9H277.1ZM399.2 536.1H411.4V542.9H399.2ZM460.3 536.1H472.5V542.9H460.3ZM594.6 536.1H606.8V542.9H594.6ZM106.2 542.9H118.4V549.7H106.2ZM142.8 542.9H155.0V549.7H142.8ZM179.5 542.9H191.7V549.7H179.5ZM240.5 542.9H252.7V549.7H240.5ZM326.0 542.9H338.2V549.7H326.0ZM350.4 542.9H362.6V549.7H350.4ZM460.3 542.9H472.5V549.7H460.3ZM472.5 542.9H484.7V549.7H472.5ZM509.1 542.9H521.3V549.7H509.1ZM521.3 542.9H533.5V549.7H521.3ZM594.6 542.9H606.8V549.7H594.6ZM399.2 549.7H411.4V556.5H399.2ZM435.9 549.7H448.1V556.5H435.9ZM509.1 549.7H521.3V556.5H509.1ZM594.6 549.7H606.8V556.5H594.6ZM228.3 556.5H240.5V563.2H228.3ZM313.8 556.5H326.0V563.2H313.8ZM374.8 556.5H387.0V563.2H374.8ZM582.4 556.5H594.6V563.2H582.4ZM130.6 563.2H142.8V570.0H130.6ZM277.1 563.2H289.3V570.0H277.1ZM313.8 563.2H326.0V570.0H313.8ZM411.4 563.2H423.7V570.0H411.4ZM423.7 563.2H435.9V570.0H423.7ZM594.6 563.2H606.8V570.0H594.6ZM106.2 570.0H118.4V576.8H106.2ZM399.2 570.0H411.4V576.8H399.2ZM484.7 570.0H496.9V576.8H484.7ZM545.7 570.0H558.0V576.8H545.7ZM167.3 576.8H179.5V583.6H167.3ZM277.1 576.8H289.3V583.6H277.1ZM301.6 576.8H313.8V583.6H301.6ZM521.3 576.8H533.5V583.6H521.3ZM130.6 583.6H142.8V590.3H130.6ZM496.9 583.6H509.1V590.3H496.9ZM509.1 583.6H521.3V590.3H509.1ZM545.7 583.6H558.0V590.3H545.7ZM570.2 583.6H582.4V590.3H570.2ZM594.6 583.6H606.8V590.3H594.6ZM118.4 590.3H130.6V597.1H118.4ZM252.7 590.3H264.9V597.1H252.7ZM423.7 590.3H435.9V597.1H423.7ZM435.9 590.3H448.1V597.1H435.9ZM448.1 590.3H460.3V597.1H448.1ZM289.3 597.1H301.6V603.9H289.3ZM301.6 597.1H313.8V603.9H301.6ZM374.8 597.1H387.0V603.9H374.8ZM118.4 603.9H130.6V610.7H118.4ZM130.6 603.9H142.8V610.7H130.6ZM167.3 603.9H179.5V610.7H167.3ZM277.1 603.9H289.3V610.7H277.1ZM399.2 603.9H411.4V610.7H399.2ZM606.8 603.9H619.0V610.7H606.8ZM203.9 610.7H216.1V617.4H203.9ZM289.3 610.7H301.6V617.4H289.3ZM411.4 610.7H423.7V617.4H411.4ZM484.7 610.7H496.9V617.4H484.7ZM509.1 610.7H521.3V617.4H509.1ZM545.7 610.7H558.0V617.4H545.7ZM582.4 610.7H594.6V617.4H582.4ZM582.4 617.4H594.6V624.2H582.4ZM594.6 617.4H606.8V624.2H594.6ZM606.8 617.4H619.0V624.2H606.8ZM252.7 624.2H264.9V631.0H252.7ZM289.3 624.2H301.6V631.0H289.3ZM399.2 624.2H411.4V631.0H399.2ZM423.7 624.2H435.9V631.0H423.7ZM496.9 624.2H509.1V631.0H496.9ZM521.3 624.2H533.5V631.0H521.3ZM594.6 624.2H606.8V631.0H594.6Z"/>
<path fill="#e3f1f6" d="M326.0 28.0H338.2V34.8H326.0Z"/>
<path fill="#efb3ab" d="M338.2 28.0H350.4V34.8H338.2ZM167.3 34.8H179.5V41.6H167.3ZM399.2 34.8H411.4V41.6H399.2ZM509.1 34.8H521.3V41.6H509.1ZM521.3 34.8H533.5V41.6H521.3ZM350.4 41.6H362.6V48.3H350.4ZM533.5 41.6H545.7V48.3H533.5ZM509.1 48.3H521.3V55.1H509.1ZM338.2 55.1H350.4V61.9H338.2ZM509.1 55.1H521.3V61.9H509.1ZM558.0 55.1H570.2V61.9H558.0ZM338.2 68.7H350.4V75.4H338.2ZM545.7 75.4H558.0V82.2H545.7ZM570.2 75.4H582.4V82.2H570.2ZM448.1 82.2H460.3V89.0H448.1ZM496.9 82.2H509.1V89.0H496.9ZM509.1 82.2H521.3V89.0H509.1ZM582.4 82.2H594.6V89.0H582.4ZM167.3 89.0H179.5V95.8H167.3ZM277.1 89.0H289.3V95.8H277.1ZM350.4 95.8H362.6V102.5H350.4ZM374.8 95.8H387.0V102.5H374.8ZM496.9 109.3H509.1V116.1H496.9ZM509.1 109.3H521.3V116.1H509.1ZM94.0 116.1H106.2V122.9H94.0ZM179.5 116.1H191.7V122.9H179.5ZM191.7 116.1H203.9V122.9H191.7ZM399.2 116.1H411.4V122.9H399.2ZM94.0 122.9H106.2V129.6H94.0ZM472.5 122.9H484.7V129.6H472.5ZM509.1 122.9H521.3V129.6H509.1ZM191.7 129.6H203.9V136.4H191.7ZM228.3 129.6H240.5V136.4H228.3ZM338.2 129.6H350.4V136.4H338.2ZM350.4 129.6H362.6V136.4H350.4ZM472.5 129.6H484.7V136.4H472.5ZM142.8 136.4H155.0V143.2H142.8ZM350.4 136.4H362.6V143.2H350.4ZM142.8 143.2H155.0V150.0H142.8ZM326.0 143.2H338.2V150.0H326.0ZM558.0 143.2H570.2V150.0H558.0ZM167.3 150.0H179.5V156.7H167.3ZM277.1 150.0H289.3V156.7H277.1ZM472.5 150.0H484.7V156.7H472.5ZM142.8 156.7H155.0V163.5H142.8ZM277.1 156.7H289.3V163.5H277.1ZM350.4 156.7H362.6V163.5H350.4ZM460.3 156.7H472.5V163.5H460.3ZM191.7 163.5H203.9V170.3H191.7ZM240.5 163.5H252.7V170.3H240.5ZM301.6 163.5H313.8V170.3H301.6ZM338.2 163.5H350.4V170.3H338.2ZM472.5 163.5H484.7V170.3H472.5ZM570.2 163.5H582.4V170.3H570.2ZM191.7 170.3H203.9V177.1H191.7ZM374.8 170.3H387.0V177.1H374.8ZM130.6 177.1H142.8V183.8H130.6ZM167.3 177.1H179.5V183.8H167.3ZM252.7 177.1H264.9V183.8H252.7ZM338.2 177.1H350.4V183.8H338.2ZM448.1 177.1H460.3V183.8H448.1ZM545.7 177.1H558.0V183.8H545.7ZM313.8 183.8H326.0V190.6H313.8ZM362.6 183.8H374.8V190.6H362.6ZM423.7 183.8H435.9V190.6H423.7ZM558.0 183.8H570.2V190.6H558.0ZM142.8 190.6H155.0V197.4H142.8ZM179.5 190.6H191.7V197.4H179.5ZM338.2 190.6H350.4V197.4H338.2ZM533.5 190.6H545.7V197.4H533.5ZM106.2 197.4H118.4V204.2H106.2ZM228.3 197.4H240.5V204.2H228.3ZM533.5 197.4H545.7V204.2H533.5ZM106.2 204.2H118.4V210.9H106.2ZM448.1 204.2H460.3V210.9H448.1ZM350.4 210.9H362.6V217.7H350.4ZM252.7 217.7H264.9V224.5H252.7ZM350.4 217.7H362.6V224.5H350.4ZM606.8 217.7H619.0V224.5H606.8ZM191.7 224.5H203.9V231.3H191.7ZM216.1 224.5H228.3V231.3H216.1ZM167.3 231.3H179.5V238.0H167.3ZM606.8 238.0H619.0V244.8H606.8ZM179.5 244.8H191.7V251.6H179.5ZM570.2 244.8H582.4V251.6H570.2ZM338.2 251.6H350.4V258.4H338.2ZM326.0 258.4H338.2V265.1H326.0ZM509.1 258.4H521.3V265.1H509.1ZM216.1 265.1H228.3V271.9H216.1ZM387.0 265.1H399.2V271.9H387.0ZM448.1 265.1H460.3V271.9H448.1ZM460.3 265.1H472.5V271.9H460.3ZM545.7 265.1H558.0V271.9H545.7ZM570.2 265.1H582.4V271.9H570.2ZM155.0 285.5H167.3V292.2H155.0ZM313.8 285.5H326.0V292.2H313.8ZM448.1 285.5H460.3V292.2H448.1ZM545.7 285.5H558.0V292.2H545.7ZM387.0 292.2H399.2V299.0H387.0ZM423.7 292.2H435.9V299.0H423.7ZM435.9 292.2H448.1V299.0H435.9ZM484.7 292.2H496.9V299.0H484.7ZM570.2 299.0H582.4V305.8H570.2ZM142.8 305.8H155.0V312.6H142.8ZM216.1 305.8H228.3V312.6H216.1ZM509.1 305.8H521.3V312.6H509.1ZM228.3 312.6H240.5V319.3H228.3ZM350.4 312.6H362.6V319.3H350.4ZM387.0 312.6H399.2V319.3H387.0ZM399.2 312.6H411.4V319.3H399.2ZM509.1 312.6H521.3V319.3H509.1ZM533.5 312.6H545.7V319.3H533.5ZM582.4 312.6H594.6V319.3H582.4ZM594.6 312.6H606.8V319.3H594.6ZM570.2 319.3H582.4V326.1H570.2ZM228.3 326.1H240.5V332.9H228.3ZM264.9 326.1H277.1V332.9H264.9ZM277.1 326.1H289.3V332.9H277.1ZM94.0 332.9H106.2V339.7H94.0ZM228.3 339.7H240.5V346.4H228.3ZM301.6 339.7H313.8V346.4H301.6ZM484.7 339.7H496.9V346.4H484.7ZM252.7 346.4H264.9V353.2H252.7ZM191.7 353.2H203.9V360.0H191.7ZM277.1 353.2H289.3V360.0H277.1ZM338.2 353.2H350.4V360.0H338.2ZM374.8 353.2H387.0V360.0H374.8ZM521.3 353.2H533.5V360.0H521.3ZM594.6 353.2H606.8V360.0H594.6ZM94.0 360.0H106.2V366.8H94.0ZM374.8 360.0H387.0V366.8H374.8ZM435.9 360.0H448.1V366.8H435.9ZM142.8 366.8H155.0V373.5H142.8ZM228.3 366.8H240.5V373.5H228.3ZM350.4 366.8H362.6V373.5H350.4ZM411.4 366.8H423.7V373.5H411.4ZM472.5 366.8H484.7V373.5H472.5ZM228.3 373.5H240.5V380.3H228.3ZM411.4 373.5H423.7V380.3H411.4ZM472.5 373.5H484.7V380.3H472.5ZM545.7 373.5H558.0V380.3H545.7ZM326.0 380.3H338.2V387.1H326.0ZM167.3 387.1H179.5V393.9H167.3ZM313.8 387.1H326.0V393.9H313.8ZM338.2 387.1H350.4V393.9H338.2ZM350.4 387.1H362.6V393.9H350.4ZM460.3 387.1H472.5V393.9H460.3ZM570.2 387.1H582.4V393.9H570.2ZM130.6 393.9H142.8V400.6H130.6ZM435.9 393.9H448.1V400.6H435.9ZM509.1 393.9H521.3V400.6H509.1ZM155.0 400.6H167.3V407.4H155.0ZM191.7 400.6H203.9V407.4H191.7ZM582.4 400.6H594.6V407.4H582.4ZM301.6 407.4H313.8V414.2H301.6ZM411.4 407.4H423.7V414.2H411.4ZM545.7 407.4H558.0V414.2H545.7ZM558.0 407.4H570.2V414.2H558.0ZM582.4 407.4H594.6V414.2H582.4ZM142.8 414.2H155.0V421.0H142.8ZM301.6 414.2H313.8V421.0H301.6ZM326.0 414.2H338.2V421.0H326.0ZM338.2 414.2H350.4V421.0H338.2ZM350.4 414.2H362.6V421.0H350.4ZM411.4 414.2H423.7V421.0H411.4ZM435.9 414.2H448.1V421.0H435.9ZM582.4 414.2H594.6V421.0H582.4ZM606.8 414.2H619.0V421.0H606.8ZM362.6 421.0H374.8V427.7H362.6ZM472.5 421.0H484.7V427.7H472.5ZM521.3 421.0H533.5V427.7H521.3ZM606.8 421.0H619.0V427.7H606.8ZM387.0 427.7H399.2V434.5H387.0ZM435.9 427.7H448.1V434.5H435.9ZM484.7 427.7H496.9V434.5H484.7ZM521.3 427.7H533.5V434.5H521.3ZM570.2 427.7H582.4V434.5H570.2ZM179.5 434.5H191.7V441.3H179.5ZM545.7 434.5H558.0V441.3H545.7ZM570.2 434.5H582.4V441.3H570.2ZM594.6 434.5H606.8V441.3H594.6ZM606.8 434.5H619.0V441.3H606.8ZM179.5 441.3H191.7V448.1H179.5ZM435.9 441.3H448.1V448.1H435.9ZM570.2 441.3H582.4V448.1H570.2ZM533.5 448.1H545.7V454.8H533.5ZM155.0 454.8H167.3V461.6H155.0ZM228.3 454.8H240.5V461.6H228.3ZM435.9 454.8H448.1V461.6H435.9ZM472.5 461.6H484.7V468.4H472.5ZM606.8 461.6H619.0V468.4H606.8ZM94.0 468.4H106.2V475.2H94.0ZM142.8 468.4H155.0V475.2H142.8ZM362.6 468.4H374.8V475.2H362.6ZM435.9 468.4H448.1V475.2H435.9ZM460.3 468.4H472.5V475.2H460.3ZM484.7 468.4H496.9V475.2H484.7ZM216.1 475.2H228.3V481.9H216.1ZM228.3 475.2H240.5V481.9H228.3ZM484.7 475.2H496.9V481.9H484.7ZM545.7 475.2H558.0V481.9H545.7ZM435.9 481.9H448.1V488.7H435.9ZM94.0 488.7H106.2V495.5H94.0ZM472.5 488.7H484.7V495.5H472.5ZM570.2 488.7H582.4V495.5H570.2ZM594.6 488.7H606.8V495.5H594.6ZM228.3 495.5H240.5V502.3H228.3ZM289.3 495.5H301.6V502.3H289.3ZM472.5 502.3H484.7V509.0H472.5ZM484.7 502.3H496.9V509.0H484.7ZM558.0 502.3H570.2V509.0H558.0ZM203.9 509.0H216.1V515.8H203.9ZM277.1 509.0H289.3V515.8H277.1ZM472.5 509.0H484.7V515.8H472.5ZM521.3 509.0H533.5V515.8H521.3ZM558.0 509.0H570.2V515.8H558.0ZM203.9 515.8H216.1V522.6H203.9ZM203.9 522.6H216.1V529.4H203.9ZM460.3 522.6H472.5V529.4H460.3ZM264.9 536.1H277.1V542.9H264.9ZM374.8 536.1H387.0V542.9H374.8ZM448.1 536.1H460.3V542.9H448.1ZM558.0 536.1H570.2V542.9H558.0ZM118.4 549.7H130.6V556.5H118.4ZM240.5 549.7H252.7V556.5H240.5ZM545.7 549.7H558.0V556.5H545.7ZM558.0 549.7H570.2V556.5H558.0ZM570.2 549.7H582.4V556.5H570.2ZM216.1 556.5H228.3V563.2H216.1ZM240.5 556.5H252.7V563.2H240.5ZM423.7 556.5H435.9V563.2H423.7ZM435.9 556.5H448.1V563.2H435.9ZM558.0 556.5H570.2V563.2H558.0ZM216.1 563.2H228.3V570.0H216.1ZM338.2 563.2H350.4V570.0H338.2ZM350.4 563.2H362.6V570.0H350.4ZM558.0 563.2H570.2V570.0H558.0ZM570.2 563.2H582.4V570.0H570.2ZM350.4 570.0H362.6V576.8H350.4ZM435.9 570.0H448.1V576.8H435.9ZM448.1 570.0H460.3V576.8H448.1ZM94.0 576.8H106.2V583.6H94.0ZM264.9 576.8H277.1V583.6H264.9ZM362.6 576.8H374.8V583.6H362.6ZM472.5 576.8H484.7V583.6H472.5ZM167.3 583.6H179.5V590.3H167.3ZM338.2 583.6H350.4V590.3H338.2ZM423.7 583.6H435.9V590.3H423.7ZM94.0 590.3H106.2V597.1H94.0ZM142.8 590.3H155.0V597.1H142.8ZM167.3 590.3H179.5V597.1H167.3ZM338.2 590.3H350.4V597.1H338.2ZM521.3 590.3H533.5V597.1H521.3ZM167.3 597.1H179.5V603.9H167.3ZM338.2 597.1H350.4V603.9H338.2ZM472.5 597.1H484.7V603.9H472.5ZM533.5 597.1H545.7V603.9H533.5ZM203.9 603.9H216.1V610.7H203.9ZM338.2 603.9H350.4V610.7H338.2ZM350.4 603.9H362.6V610.7H350.4ZM570.2 603.9H582.4V610.7H570.2ZM277.1 610.7H289.3V617.4H277.1ZM387.0 610.7H399.2V617.4H387.0ZM460.3 617.4H472.5V624.2H460.3ZM179.5 624.2H191.7V631.0H179.5ZM191.7 624.2H203.9V631.0H191.7ZM277.1 624.2H289.3V631.0H277.1Z"/>
<path fill="#df6452" d="M203.9 34.8H216.1V41.6H203.9ZM252.7 34.8H264.9V41.6H252.7ZM338.2 34.8H350.4V41.6H338.2ZM460.3 34.8H472.5V41.6H460.3ZM606.8 34.8H619.0V41.6H606.8ZM228.3 41.6H240.5V48.3H228.3ZM240.5 48.3H252.7V55.1H240.5ZM460.3 48.3H472.5V55.1H460.3ZM570.2 48.3H582.4V55.1H570.2ZM179.5 55.1H191.7V61.9H179.5ZM191.7 55.1H203.9V61.9H191.7ZM240.5 55.1H252.7V61.9H240.5ZM350.4 55.1H362.6V61.9H350.4ZM142.8 61.9H155.0V68.7H142.8ZM179.5 61.9H191.7V68.7H179.5ZM228.3 61.9H240.5V68.7H228.3ZM460.3 61.9H472.5V68.7H460.3ZM106.2 68.7H118.4V75.4H106.2ZM216.1 68.7H228.3V75.4H216.1ZM533.5 68.7H545.7V75.4H533.5ZM350.4 75.4H362.6V82.2H350.4ZM94.0 82.2H106.2V89.0H94.0ZM570.2 82.2H582.4V89.0H570.2ZM228.3 89.0H240.5V95.8H228.3ZM460.3 89.0H472.5V95.8H460.3ZM216.1 95.8H228.3V102.5H216.1ZM228.3 95.8H240.5V102.5H228.3ZM240.5 109.3H252.7V116.1H240.5ZM252.7 109.3H264.9V116.1H252.7ZM179.5 129.6H191.7V136.4H179.5ZM460.3 129.6H472.5V136.4H460.3ZM94.0 136.4H106.2V143.2H94.0ZM216.1 136.4H228.3V143.2H216.1ZM94.0 143.2H106.2V150.0H94.0ZM252.7 143.2H264.9V150.0H252.7ZM350.4 143.2H362.6V150.0H350.4ZM216.1 150.0H228.3V156.7H216.1ZM264.9 156.7H277.1V163.5H264.9ZM216.1 163.5H228.3V170.3H216.1ZM460.3 163.5H472.5V170.3H460.3ZM521.3 163.5H533.5V170.3H521.3ZM350.4 170.3H362.6V177.1H350.4ZM570.2 177.1H582.4V183.8H570.2ZM191.7 183.8H203.9V190.6H191.7ZM277.1 183.8H289.3V190.6H277.1ZM301.6 183.8H313.8V190.6H301.6ZM496.9 197.4H509.1V204.2H496.9ZM118.4 204.2H130.6V210.9H118.4ZM191.7 204.2H203.9V210.9H191.7ZM264.9 204.2H277.1V210.9H264.9ZM301.6 204.2H313.8V210.9H301.6ZM338.2 204.2H350.4V210.9H338.2ZM399.2 204.2H411.4V210.9H399.2ZM264.9 210.9H277.1V217.7H264.9ZM301.6 210.9H313.8V217.7H301.6ZM216.1 217.7H228.3V224.5H216.1ZM338.2 231.3H350.4V238.0H338.2ZM191.7 251.6H203.9V258.4H191.7ZM582.4 251.6H594.6V258.4H582.4ZM411.4 258.4H423.7V265.1H411.4ZM545.7 258.4H558.0V265.1H545.7ZM411.4 278.7H423.7V285.5H411.4ZM594.6 278.7H606.8V285.5H594.6ZM216.1 285.5H228.3V292.2H216.1ZM216.1 292.2H228.3V299.0H216.1ZM264.9 292.2H277.1V299.0H264.9ZM460.3 299.0H472.5V305.8H460.3ZM460.3 305.8H472.5V312.6H460.3ZM423.7 312.6H435.9V319.3H423.7ZM264.9 319.3H277.1V326.1H264.9ZM216.1 326.1H228.3V332.9H216.1ZM387.0 332.9H399.2V339.7H387.0ZM472.5 339.7H484.7V346.4H472.5ZM362.6 346.4H374.8V353.2H362.6ZM423.7 346.4H435.9V353.2H423.7ZM362.6 360.0H374.8V366.8H362.6ZM460.3 360.0H472.5V366.8H460.3ZM94.0 366.8H106.2V373.5H94.0ZM558.0 373.5H570.2V380.3H558.0ZM496.9 380.3H509.1V387.1H496.9ZM545.7 380.3H558.0V387.1H545.7ZM240.5 393.9H252.7V400.6H240.5ZM179.5 400.6H191.7V407.4H179.5ZM191.7 407.4H203.9V414.2H191.7ZM411.4 421.0H423.7V427.7H411.4ZM545.7 421.0H558.0V427.7H545.7ZM582.4 421.0H594.6V427.7H582.4ZM362.6 427.7H374.8V434.5H362.6ZM167.3 448.1H179.5V454.8H167.3ZM94.0 461.6H106.2V468.4H94.0ZM106.2 461.6H118.4V468.4H106.2ZM362.6 461.6H374.8V468.4H362.6ZM203.9 468.4H216.1V475.2H203.9ZM350.4 475.2H362.6V481.9H350.4ZM509.1 475.2H521.3V481.9H509.1ZM350.4 488.7H362.6V495.5H350.4ZM374.8 488.7H387.0V495.5H374.8ZM387.0 488.7H399.2V495.5H387.0ZM509.1 488.7H521.3V495.5H509.1ZM338.2 495.5H350.4V502.3H338.2ZM509.1 509.0H521.3V515.8H509.1ZM191.7 515.8H203.9V522.6H191.7ZM362.6 515.8H374.8V522.6H362.6ZM228.3 529.4H240.5V536.1H228.3ZM313.8 529.4H326.0V536.1H313.8ZM252.7 563.2H264.9V570.0H252.7ZM460.3 563.2H472.5V570.0H460.3ZM228.3 570.0H240.5V576.8H228.3ZM240.5 570.0H252.7V576.8H240.5ZM338.2 570.0H350.4V576.8H338.2ZM338.2 576.8H350.4V583.6H338.2ZM179.5 583.6H191.7V590.3H179.5ZM460.3 583.6H472.5V590.3H460.3ZM533.5 583.6H545.7V590.3H533.5ZM155.0 590.3H167.3V597.1H155.0ZM228.3 597.1H240.5V603.9H228.3ZM216.1 603.9H228.3V610.7H216.1ZM252.7 610.7H264.9V617.4H252.7Z"/>
<path fill="#46a7c7" d="M289.3 34.8H301.6V41.6H289.3ZM423.7 48.3H435.9V55.1H423.7ZM387.0 55.1H399.2V61.9H387.0ZM606.8 55.1H619.0V61.9H606.8ZM387.0 61.9H399.2V68.7H387.0ZM448.1 61.9H460.3V68.7H448.1ZM533.5 61.9H545.7V68.7H533.5ZM594.6 68.7H606.8V75.4H594.6ZM313.8 82.2H326.0V89.0H313.8ZM289.3 89.0H301.6V95.8H289.3ZM387.0 95.8H399.2V102.5H387.0ZM606.8 95.8H619.0V102.5H606.8ZM387.0 102.5H399.2V109.3H387.0ZM362.6 109.3H374.8V116.1H362.6ZM387.0 109.3H399.2V116.1H387.0ZM606.8 109.3H619.0V116.1H606.8ZM313.8 116.1H326.0V122.9H313.8ZM362.6 116.1H374.8V122.9H362.6ZM606.8 116.1H619.0V122.9H606.8ZM313.8 122.9H326.0V129.6H313.8ZM362.6 122.9H374.8V129.6H362.6ZM387.0 122.9H399.2V129.6H387.0ZM313.8 129.6H326.0V136.4H313.8ZM362.6 129.6H374.8V136.4H362.6ZM387.0 129.6H399.2V136.4H387.0ZM313.8 136.4H326.0V143.2H313.8ZM387.0 136.4H399.2V143.2H387.0ZM606.8 143.2H619.0V150.0H606.8ZM387.0 150.0H399.2V156.7H387.0ZM606.8 150.0H619.0V156.7H606.8ZM606.8 156.7H619.0V163.5H606.8ZM606.8 163.5H619.0V170.3H606.8ZM558.0 177.1H570.2V183.8H558.0ZM179.5 183.8H191.7V190.6H179.5ZM216.1 183.8H228.3V190.6H216.1ZM545.7 210.9H558.0V217.7H545.7ZM313.8 258.4H326.0V265.1H313.8ZM313.8 265.1H326.0V271.9H313.8ZM313.8 271.9H326.0V278.7H313.8ZM313.8 278.7H326.0V285.5H313.8ZM94.0 292.2H106.2V299.0H94.0ZM472.5 292.2H484.7V299.0H472.5ZM313.8 299.0H326.0V305.8H313.8ZM313.8 305.8H326.0V312.6H313.8ZM130.6 312.6H142.8V319.3H130.6ZM313.8 312.6H326.0V319.3H313.8ZM606.8 312.6H619.0V319.3H606.8ZM313.8 319.3H326.0V326.1H313.8ZM606.8 319.3H619.0V326.1H606.8ZM313.8 326.1H326.0V332.9H313.8ZM313.8 346.4H326.0V353.2H313.8ZM313.8 353.2H326.0V360.0H313.8ZM313.8 360.0H326.0V366.8H313.8ZM606.8 360.0H619.0V366.8H606.8ZM313.8 366.8H326.0V373.5H313.8ZM313.8 373.5H326.0V380.3H313.8ZM264.9 380.3H277.1V387.1H264.9ZM264.9 387.1H277.1V393.9H264.9ZM313.8 393.9H326.0V400.6H313.8ZM387.0 400.6H399.2V407.4H387.0ZM606.8 400.6H619.0V407.4H606.8ZM313.8 407.4H326.0V414.2H313.8ZM387.0 407.4H399.2V414.2H387.0ZM313.8 414.2H326.0V421.0H313.8ZM448.1 414.2H460.3V421.0H448.1ZM594.6 461.6H606.8V468.4H594.6ZM594.6 468.4H606.8V475.2H594.6ZM106.2 488.7H118.4V495.5H106.2ZM106.2 495.5H118.4V502.3H106.2ZM289.3 549.7H301.6V556.5H289.3ZM289.3 556.5H301.6V563.2H289.3ZM606.8 590.3H619.0V597.1H606.8ZM606.8 597.1H619.0V603.9H606.8Z"/>
<path fill="#42a5c6" d="M313.8 34.8H326.0V41.6H313.8Z"/>
<path fill="#fcf1f0" d="M362.6 34.8H374.8V41.6H362.6ZM216.1 41.6H228.3V48.3H216.1ZM545.7 89.0H558.0V95.8H545.7ZM94.0 95.8H106.2V102.5H94.0ZM594.6 95.8H606.8V102.5H594.6ZM228.3 109.3H240.5V116.1H228.3ZM472.5 136.4H484.7V143.2H472.5ZM252.7 150.0H264.9V156.7H252.7ZM240.5 156.7H252.7V163.5H240.5ZM203.9 163.5H216.1V170.3H203.9ZM264.9 177.1H277.1V183.8H264.9ZM435.9 177.1H448.1V183.8H435.9ZM460.3 183.8H472.5V190.6H460.3ZM203.9 190.6H216.1V197.4H203.9ZM313.8 190.6H326.0V197.4H313.8ZM350.4 190.6H362.6V197.4H350.4ZM130.6 197.4H142.8V204.2H130.6ZM240.5 204.2H252.7V210.9H240.5ZM216.1 210.9H228.3V217.7H216.1ZM191.7 217.7H203.9V224.5H191.7ZM142.8 258.4H155.0V265.1H142.8ZM130.6 285.5H142.8V292.2H130.6ZM435.9 305.8H448.1V312.6H435.9ZM252.7 326.1H264.9V332.9H252.7ZM155.0 373.5H167.3V380.3H155.0ZM423.7 414.2H435.9V421.0H423.7ZM533.5 468.4H545.7V475.2H533.5ZM326.0 536.1H338.2V542.9H326.0ZM228.3 610.7H240.5V617.4H228.3ZM338.2 617.4H350.4V624.2H338.2Z"/>
<path fill="#61b4cf" d="M387.0 34.8H399.2V41.6H387.0ZM423.7 34.8H435.9V41.6H423.7ZM289.3 41.6H301.6V48.3H289.3ZM435.9 41.6H448.1V48.3H435.9ZM606.8 41.6H619.0V48.3H606.8ZM289.3 55.1H301.6V61.9H289.3ZM387.0 68.7H399.2V75.4H387.0ZM411.4 75.4H423.7V82.2H411.4ZM130.6 82.2H142.8V89.0H130.6ZM179.5 109.3H191.7V116.1H179.5ZM362.6 136.4H374.8V143.2H362.6ZM362.6 156.7H374.8V163.5H362.6ZM289.3 163.5H301.6V170.3H289.3ZM313.8 163.5H326.0V170.3H313.8ZM374.8 163.5H387.0V170.3H374.8ZM387.0 163.5H399.2V170.3H387.0ZM411.4 170.3H423.7V177.1H411.4ZM472.5 170.3H484.7V177.1H472.5ZM289.3 177.1H301.6V183.8H289.3ZM228.3 183.8H240.5V190.6H228.3ZM216.1 190.6H228.3V197.4H216.1ZM448.1 190.6H460.3V197.4H448.1ZM570.2 204.2H582.4V210.9H570.2ZM594.6 210.9H606.8V217.7H594.6ZM179.5 217.7H191.7V224.5H179.5ZM362.6 217.7H374.8V224.5H362.6ZM94.0 224.5H106.2V231.3H94.0ZM472.5 244.8H484.7V251.6H472.5ZM362.6 278.7H374.8V285.5H362.6ZM496.9 285.5H509.1V292.2H496.9ZM496.9 292.2H509.1V299.0H496.9ZM106.2 339.7H118.4V346.4H106.2ZM374.8 346.4H387.0V353.2H374.8ZM167.3 353.2H179.5V360.0H167.3ZM448.1 353.2H460.3V360.0H448.1ZM106.2 360.0H118.4V366.8H106.2ZM558.0 360.0H570.2V366.8H558.0ZM374.8 366.8H387.0V373.5H374.8ZM448.1 366.8H460.3V373.5H448.1ZM484.7 373.5H496.9V380.3H484.7ZM606.8 373.5H619.0V380.3H606.8ZM606.8 380.3H619.0V387.1H606.8ZM106.2 387.1H118.4V393.9H106.2ZM533.5 393.9H545.7V400.6H533.5ZM606.8 393.9H619.0V400.6H606.8ZM301.6 400.6H313.8V407.4H301.6ZM313.8 400.6H326.0V407.4H313.8ZM606.8 407.4H619.0V414.2H606.8ZM277.1 414.2H289.3V421.0H277.1ZM362.6 414.2H374.8V421.0H362.6ZM387.0 414.2H399.2V421.0H387.0ZM301.6 427.7H313.8V434.5H301.6ZM460.3 427.7H472.5V434.5H460.3ZM216.1 461.6H228.3V468.4H216.1ZM301.6 461.6H313.8V468.4H301.6ZM179.5 468.4H191.7V475.2H179.5ZM228.3 468.4H240.5V475.2H228.3ZM313.8 475.2H326.0V481.9H313.8ZM558.0 475.2H570.2V481.9H558.0ZM106.2 481.9H118.4V488.7H106.2ZM313.8 481.9H326.0V488.7H313.8ZM423.7 481.9H435.9V488.7H423.7ZM301.6 495.5H313.8V502.3H301.6ZM313.8 495.5H326.0V502.3H313.8ZM387.0 536.1H399.2V542.9H387.0ZM130.6 570.0H142.8V576.8H130.6ZM606.8 570.0H619.0V576.8H606.8ZM484.7 576.8H496.9V583.6H484.7ZM106.2 583.6H118.4V590.3H106.2ZM106.2 597.1H118.4V603.9H106.2ZM435.9 597.1H448.1V603.9H435.9ZM387.0 603.9H399.2V610.7H387.0ZM435.9 603.9H448.1V610.7H435.9ZM106.2 610.7H118.4V617.4H106.2ZM191.7 617.4H203.9V624.2H191.7ZM203.9 617.4H216.1V624.2H203.9ZM106.2 624.2H118.4V631.0H106.2Z"/>
<path fill="#e47d6d" d="M118.4 41.6H130.6V48.3H118.4ZM203.9 41.6H216.1V48.3H203.9ZM460.3 55.1H472.5V61.9H460.3ZM350.4 68.7H362.6V75.4H350.4ZM203.9 95.8H216.1V102.5H203.9ZM301.6 95.8H313.8V102.5H301.6ZM460.3 95.8H472.5V102.5H460.3ZM533.5 95.8H545.7V102.5H533.5ZM533.5 102.5H545.7V109.3H533.5ZM130.6 116.1H142.8V122.9H130.6ZM326.0 122.9H338.2V129.6H326.0ZM167.3 129.6H179.5V136.4H167.3ZM460.3 136.4H472.5V143.2H460.3ZM240.5 143.2H252.7V150.0H240.5ZM338.2 143.2H350.4V150.0H338.2ZM228.3 150.0H240.5V156.7H228.3ZM350.4 150.0H362.6V156.7H350.4ZM216.1 156.7H228.3V163.5H216.1ZM264.9 163.5H277.1V170.3H264.9ZM277.1 163.5H289.3V170.3H277.1ZM533.5 163.5H545.7V170.3H533.5ZM130.6 170.3H142.8V177.1H130.6ZM326.0 170.3H338.2V177.1H326.0ZM448.1 170.3H460.3V177.1H448.1ZM496.9 170.3H509.1V177.1H496.9ZM460.3 177.1H472.5V183.8H460.3ZM484.7 177.1H496.9V183.8H484.7ZM94.0 183.8H106.2V190.6H94.0ZM545.7 183.8H558.0V190.6H545.7ZM130.6 190.6H142.8V197.4H130.6ZM264.9 190.6H277.1V197.4H264.9ZM423.7 190.6H435.9V197.4H423.7ZM203.9 210.9H216.1V217.7H203.9ZM435.9 210.9H448.1V217.7H435.9ZM240.5 217.7H252.7V224.5H240.5ZM277.1 217.7H289.3V224.5H277.1ZM277.1 224.5H289.3V231.3H277.1ZM582.4 224.5H594.6V231.3H582.4ZM362.6 244.8H374.8V251.6H362.6ZM179.5 251.6H191.7V258.4H179.5ZM216.1 271.9H228.3V278.7H216.1ZM545.7 271.9H558.0V278.7H545.7ZM460.3 278.7H472.5V285.5H460.3ZM545.7 278.7H558.0V285.5H545.7ZM118.4 285.5H130.6V292.2H118.4ZM350.4 285.5H362.6V292.2H350.4ZM374.8 285.5H387.0V292.2H374.8ZM582.4 285.5H594.6V292.2H582.4ZM362.6 292.2H374.8V299.0H362.6ZM545.7 292.2H558.0V299.0H545.7ZM594.6 292.2H606.8V299.0H594.6ZM179.5 299.0H191.7V305.8H179.5ZM228.3 299.0H240.5V305.8H228.3ZM179.5 305.8H191.7V312.6H179.5ZM582.4 305.8H594.6V312.6H582.4ZM594.6 305.8H606.8V312.6H594.6ZM216.1 319.3H228.3V326.1H216.1ZM533.5 319.3H545.7V326.1H533.5ZM216.1 332.9H228.3V339.7H216.1ZM252.7 339.7H264.9V346.4H252.7ZM387.0 339.7H399.2V346.4H387.0ZM570.2 339.7H582.4V346.4H570.2ZM594.6 339.7H606.8V346.4H594.6ZM521.3 346.4H533.5V353.2H521.3ZM582.4 346.4H594.6V353.2H582.4ZM594.6 346.4H606.8V353.2H594.6ZM155.0 353.2H167.3V360.0H155.0ZM509.1 353.2H521.3V360.0H509.1ZM558.0 353.2H570.2V360.0H558.0ZM509.1 360.0H521.3V366.8H509.1ZM570.2 366.8H582.4V373.5H570.2ZM94.0 373.5H106.2V380.3H94.0ZM142.8 373.5H155.0V380.3H142.8ZM423.7 380.3H435.9V387.1H423.7ZM533.5 380.3H545.7V387.1H533.5ZM496.9 387.1H509.1V393.9H496.9ZM533.5 387.1H545.7V393.9H533.5ZM472.5 393.9H484.7V400.6H472.5ZM118.4 400.6H130.6V407.4H118.4ZM228.3 400.6H240.5V407.4H228.3ZM570.2 400.6H582.4V407.4H570.2ZM594.6 400.6H606.8V407.4H594.6ZM338.2 407.4H350.4V414.2H338.2ZM460.3 414.2H472.5V421.0H460.3ZM472.5 414.2H484.7V421.0H472.5ZM521.3 414.2H533.5V421.0H521.3ZM411.4 427.7H423.7V434.5H411.4ZM423.7 427.7H435.9V434.5H423.7ZM545.7 427.7H558.0V434.5H545.7ZM582.4 427.7H594.6V434.5H582.4ZM594.6 427.7H606.8V434.5H594.6ZM606.8 427.7H619.0V434.5H606.8ZM362.6 434.5H374.8V441.3H362.6ZM411.4 434.5H423.7V441.3H411.4ZM435.9 434.5H448.1V441.3H435.9ZM448.1 441.3H460.3V448.1H448.1ZM545.7 441.3H558.0V448.1H545.7ZM606.8 441.3H619.0V448.1H606.8ZM228.3 448.1H240.5V454.8H228.3ZM423.7 448.1H435.9V454.8H423.7ZM533.5 461.6H545.7V468.4H533.5ZM387.0 468.4H399.2V475.2H387.0ZM448.1 468.4H460.3V475.2H448.1ZM570.2 468.4H582.4V475.2H570.2ZM448.1 475.2H460.3V481.9H448.1ZM521.3 475.2H533.5V481.9H521.3ZM521.3 481.9H533.5V488.7H521.3ZM289.3 488.7H301.6V495.5H289.3ZM203.9 495.5H216.1V502.3H203.9ZM558.0 495.5H570.2V502.3H558.0ZM606.8 502.3H619.0V509.0H606.8ZM362.6 509.0H374.8V515.8H362.6ZM387.0 509.0H399.2V515.8H387.0ZM435.9 509.0H448.1V515.8H435.9ZM387.0 515.8H399.2V522.6H387.0ZM570.2 515.8H582.4V522.6H570.2ZM313.8 522.6H326.0V529.4H313.8ZM240.5 529.4H252.7V536.1H240.5ZM94.0 536.1H106.2V542.9H94.0ZM203.9 536.1H216.1V542.9H203.9ZM228.3 536.1H240.5V542.9H228.3ZM301.6 536.1H313.8V542.9H301.6ZM570.2 536.1H582.4V542.9H570.2ZM228.3 542.9H240.5V549.7H228.3ZM362.6 542.9H374.8V549.7H362.6ZM94.0 549.7H106.2V556.5H94.0ZM191.7 549.7H203.9V556.5H191.7ZM350.4 549.7H362.6V556.5H350.4ZM277.1 556.5H289.3V563.2H277.1ZM301.6 556.5H313.8V563.2H301.6ZM350.4 556.5H362.6V563.2H350.4ZM216.1 570.0H228.3V576.8H216.1ZM472.5 570.0H484.7V576.8H472.5ZM509.1 570.0H521.3V576.8H509.1ZM191.7 576.8H203.9V583.6H191.7ZM448.1 576.8H460.3V583.6H448.1ZM460.3 576.8H472.5V583.6H460.3ZM277.1 583.6H289.3V590.3H277.1ZM313.8 583.6H326.0V590.3H313.8ZM399.2 583.6H411.4V590.3H399.2ZM472.5 583.6H484.7V590.3H472.5ZM179.5 590.3H191.7V597.1H179.5ZM313.8 590.3H326.0V597.1H313.8ZM533.5 590.3H545.7V597.1H533.5ZM399.2 597.1H411.4V603.9H399.2ZM448.1 597.1H460.3V603.9H448.1ZM460.3 597.1H472.5V603.9H460.3ZM558.0 603.9H570.2V610.7H558.0ZM301.6 610.7H313.8V617.4H301.6ZM228.3 617.4H240.5V624.2H228.3ZM301.6 617.4H313.8V624.2H301.6ZM570.2 617.4H582.4V624.2H570.2ZM216.1 624.2H228.3V631.0H216.1ZM374.8 624.2H387.0V631.0H374.8Z"/>
<path fill="#40a4c5" d="M313.8 41.6H326.0V48.3H313.8ZM313.8 75.4H326.0V82.2H313.8Z"/>
<path fill="#dc5541" d="M509.1 41.6H521.3V48.3H509.1ZM521.3 41.6H533.5V48.3H521.3ZM472.5 61.9H484.7V68.7H472.5ZM277.1 75.4H289.3V82.2H277.1ZM533.5 75.4H545.7V82.2H533.5ZM216.1 89.0H228.3V95.8H216.1ZM460.3 102.5H472.5V109.3H460.3ZM570.2 102.5H582.4V109.3H570.2ZM277.1 122.9H289.3V129.6H277.1ZM301.6 143.2H313.8V150.0H301.6ZM460.3 143.2H472.5V150.0H460.3ZM484.7 156.7H496.9V163.5H484.7ZM228.3 163.5H240.5V170.3H228.3ZM460.3 170.3H472.5V177.1H460.3ZM472.5 177.1H484.7V183.8H472.5ZM350.4 183.8H362.6V190.6H350.4ZM167.3 190.6H179.5V197.4H167.3ZM606.8 190.6H619.0V197.4H606.8ZM301.6 197.4H313.8V204.2H301.6ZM606.8 197.4H619.0V204.2H606.8ZM277.1 204.2H289.3V210.9H277.1ZM472.5 210.9H484.7V217.7H472.5ZM423.7 224.5H435.9V231.3H423.7ZM533.5 224.5H545.7V231.3H533.5ZM411.4 238.0H423.7V244.8H411.4ZM594.6 251.6H606.8V258.4H594.6ZM582.4 258.4H594.6V265.1H582.4ZM594.6 258.4H606.8V265.1H594.6ZM582.4 265.1H594.6V271.9H582.4ZM594.6 265.1H606.8V271.9H594.6ZM582.4 271.9H594.6V278.7H582.4ZM594.6 271.9H606.8V278.7H594.6ZM240.5 292.2H252.7V299.0H240.5ZM423.7 299.0H435.9V305.8H423.7ZM423.7 305.8H435.9V312.6H423.7ZM362.6 312.6H374.8V319.3H362.6ZM448.1 312.6H460.3V319.3H448.1ZM179.5 319.3H191.7V326.1H179.5ZM228.3 319.3H240.5V326.1H228.3ZM191.7 326.1H203.9V332.9H191.7ZM167.3 332.9H179.5V339.7H167.3ZM289.3 332.9H301.6V339.7H289.3ZM167.3 339.7H179.5V346.4H167.3ZM558.0 339.7H570.2V346.4H558.0ZM277.1 346.4H289.3V353.2H277.1ZM533.5 353.2H545.7V360.0H533.5ZM301.6 360.0H313.8V366.8H301.6ZM277.1 366.8H289.3V373.5H277.1ZM423.7 366.8H435.9V373.5H423.7ZM460.3 373.5H472.5V380.3H460.3ZM216.1 387.1H228.3V393.9H216.1ZM240.5 387.1H252.7V393.9H240.5ZM289.3 387.1H301.6V393.9H289.3ZM472.5 387.1H484.7V393.9H472.5ZM594.6 393.9H606.8V400.6H594.6ZM423.7 407.4H435.9V414.2H423.7ZM423.7 421.0H435.9V427.7H423.7ZM594.6 421.0H606.8V427.7H594.6ZM387.0 434.5H399.2V441.3H387.0ZM423.7 434.5H435.9V441.3H423.7ZM448.1 434.5H460.3V441.3H448.1ZM387.0 441.3H399.2V448.1H387.0ZM423.7 441.3H435.9V448.1H423.7ZM582.4 441.3H594.6V448.1H582.4ZM594.6 441.3H606.8V448.1H594.6ZM277.1 448.1H289.3V454.8H277.1ZM362.6 448.1H374.8V454.8H362.6ZM387.0 448.1H399.2V454.8H387.0ZM606.8 448.1H619.0V454.8H606.8ZM362.6 454.8H374.8V461.6H362.6ZM387.0 454.8H399.2V461.6H387.0ZM448.1 454.8H460.3V461.6H448.1ZM387.0 461.6H399.2V468.4H387.0ZM606.8 468.4H619.0V475.2H606.8ZM362.6 475.2H374.8V481.9H362.6ZM362.6 481.9H374.8V488.7H362.6ZM448.1 488.7H460.3V495.5H448.1ZM362.6 495.5H374.8V502.3H362.6ZM472.5 495.5H484.7V502.3H472.5ZM179.5 502.3H191.7V509.0H179.5ZM362.6 502.3H374.8V509.0H362.6ZM387.0 502.3H399.2V509.0H387.0ZM435.9 502.3H448.1V509.0H435.9ZM533.5 509.0H545.7V515.8H533.5ZM435.9 515.8H448.1V522.6H435.9ZM362.6 522.6H374.8V529.4H362.6ZM387.0 522.6H399.2V529.4H387.0ZM448.1 522.6H460.3V529.4H448.1ZM387.0 529.4H399.2V536.1H387.0ZM118.4 536.1H130.6V542.9H118.4ZM313.8 536.1H326.0V542.9H313.8ZM118.4 542.9H130.6V549.7H118.4ZM277.1 542.9H289.3V549.7H277.1ZM313.8 542.9H326.0V549.7H313.8ZM435.9 542.9H448.1V549.7H435.9ZM252.7 549.7H264.9V556.5H252.7ZM460.3 549.7H472.5V556.5H460.3ZM460.3 556.5H472.5V563.2H460.3ZM435.9 563.2H448.1V570.0H435.9ZM472.5 563.2H484.7V570.0H472.5ZM155.0 570.0H167.3V576.8H155.0ZM155.0 576.8H167.3V583.6H155.0ZM252.7 576.8H264.9V583.6H252.7ZM558.0 576.8H570.2V583.6H558.0ZM216.1 583.6H228.3V590.3H216.1ZM228.3 590.3H240.5V597.1H228.3ZM460.3 590.3H472.5V597.1H460.3ZM277.1 597.1H289.3V603.9H277.1ZM142.8 603.9H155.0V610.7H142.8ZM179.5 603.9H191.7V610.7H179.5ZM313.8 603.9H326.0V610.7H313.8ZM179.5 610.7H191.7V617.4H179.5ZM362.6 610.7H374.8V617.4H362.6ZM570.2 610.7H582.4V617.4H570.2ZM142.8 617.4H155.0V624.2H142.8ZM216.1 617.4H228.3V624.2H216.1ZM277.1 617.4H289.3V624.2H277.1ZM142.8 624.2H155.0V631.0H142.8ZM301.6 624.2H313.8V631.0H301.6ZM533.5 624.2H545.7V631.0H533.5Z"/>
<path fill="#fdf6f5" d="M118.4 55.1H130.6V61.9H118.4Z"/>
<path fill="#fbedeb" d="M460.3 109.3H472.5V116.1H460.3ZM423.7 163.5H435.9V170.3H423.7ZM435.9 163.5H448.1V170.3H435.9Z"/>
<path fill="#e16e5d" d="M545.7 244.8H558.0V251.6H545.7ZM606.8 278.7H619.0V285.5H606.8Z"/>
</g>
<g>
<text transform="translate(626.26 33.24) rotate(0.15) scale(1.0850 1)" font-size="7.16" fill="#111" stroke="#111" stroke-width="0.2">EXOSC8</text>
<text transform="translate(626.26 40.01) rotate(0.15) scale(1.0850 1)" font-size="7.16" fill="#111" stroke="#111" stroke-width="0.2">EXOSC7</text>
<text transform="translate(626.26 46.79) rotate(0.15) scale(1.0850 1)" font-size="7.16" fill="#111" stroke="#111" stroke-width="0.2">EIF2S2</text>
<text transform="translate(626.88 53.56) rotate(0.15) scale(1.0850 1)" font-size="7.16" fill="#111" stroke="#111" stroke-width="0.2">ASNS</text>
<text transform="translate(626.51 60.34) rotate(0.15) scale(1.0850 1)" font-size="7.16" fill="#111" stroke="#111" stroke-width="0.2">GOSR2</text>
<text transform="translate(626.88 67.11) rotate(0.15) scale(1.0850 1)" font-size="7.27" fill="#111" stroke="#111" stroke-width="0.2">ADD1</text>
<text transform="translate(626.26 73.89) rotate(0.15) scale(1.0850 1)" font-size="7.16" fill="#111" stroke="#111" stroke-width="0.2">PDIA6</text>
<text transform="translate(626.26 80.66) rotate(0.15) scale(1.0850 1)" font-size="7.16" fill="#111" stroke="#111" stroke-width="0.2">HSP90B1</text>
<text transform="translate(626.26 87.44) rotate(0.15) scale(1.0850 1)" font-size="7.16" fill="#111" stroke="#111" stroke-width="0.2">MYDGF</text>
<text transform="translate(626.73 94.22) rotate(0.15) scale(1.0850 1)" font-size="7.27" fill="#111" stroke="#111" stroke-width="0.2">YIF1A</text>
<text transform="translate(626.51 100.99) rotate(0.15) scale(1.0850 1)" font-size="7.16" fill="#111" stroke="#111" stroke-width="0.2">CREB3L4</text>
<text transform="translate(626.87 107.77) rotate(0.15) scale(1.0850 1)" font-size="7.16" fill="#111" stroke="#111" stroke-width="0.2">WFS1</text>
<text transform="translate(626.25 114.54) rotate(0.15) scale(1.0850 1)" font-size="7.27" fill="#111" stroke="#111" stroke-width="0.2">NFYB</text>
<text transform="translate(626.25 121.32) rotate(0.15) scale(1.0850 1)" font-size="7.27" fill="#111" stroke="#111" stroke-width="0.2">PARN</text>
<text transform="translate(626.26 128.09) rotate(0.15) scale(1.0850 1)" font-size="7.16" fill="#111" stroke="#111" stroke-width="0.2">EXOSC3</text>
<text transform="translate(626.25 134.87) rotate(0.15) scale(1.0850 1)" font-size="7.27" fill="#111" stroke="#111" stroke-width="0.2">PREB</text>
<text transform="translate(626.55 141.64) rotate(0.15) scale(1.0850 1)" font-size="7.16" fill="#111" stroke="#111" stroke-width="0.2">SSR1</text>
<text transform="translate(626.26 148.42) rotate(0.15) scale(1.0850 1)" font-size="7.16" fill="#111" stroke="#111" stroke-width="0.2">EIF2S1</text>
<text transform="translate(626.55 155.19) rotate(0.15) scale(1.0850 1)" font-size="7.16" fill="#111" stroke="#111" stroke-width="0.2">SRPRB</text>
<text transform="translate(626.55 161.97) rotate(0.15) scale(1.0850 1)" font-size="7.16" fill="#111" stroke="#111" stroke-width="0.2">SEC31A</text>
<text transform="translate(626.51 168.74) rotate(0.15) scale(1.0850 1)" font-size="7.16" fill="#111" stroke="#111" stroke-width="0.2">CREB3</text>
<text transform="translate(626.72 175.52) rotate(0.15) scale(1.0850 1)" font-size="7.27" fill="#111" stroke="#111" stroke-width="0.2">XBP1</text>
<text transform="translate(626.26 182.29) rotate(0.15) scale(1.0850 1)" font-size="7.16" fill="#111" stroke="#111" stroke-width="0.2">EXTL2</text>
<text transform="translate(626.25 189.07) rotate(0.15) scale(1.0850 1)" font-size="7.27" fill="#111" stroke="#111" stroke-width="0.2">EDEM1</text>
<text transform="translate(626.25 195.84) rotate(0.15) scale(1.0850 1)" font-size="7.27" fill="#111" stroke="#111" stroke-width="0.2">EXTL1</text>
<text transform="translate(626.51 202.62) rotate(0.15) scale(1.0850 1)" font-size="7.16" fill="#111" stroke="#111" stroke-width="0.2">CREB3L1</text>
<text transform="translate(626.26 209.39) rotate(0.15) scale(1.0850 1)" font-size="7.16" fill="#111" stroke="#111" stroke-width="0.2">EIF2S3</text>
<text transform="translate(626.26 216.17) rotate(0.15) scale(1.0850 1)" font-size="7.16" fill="#111" stroke="#111" stroke-width="0.2">KHSRP</text>
<text transform="translate(626.51 222.95) rotate(0.15) scale(1.0850 1)" font-size="7.16" fill="#111" stroke="#111" stroke-width="0.2">CREB3L2</text>
<text transform="translate(626.26 229.72) rotate(0.15) scale(1.0850 1)" font-size="7.16" fill="#111" stroke="#111" stroke-width="0.2">EXTL3</text>
<text transform="translate(626.51 236.50) rotate(0.15) scale(1.0850 1)" font-size="7.16" fill="#111" stroke="#111" stroke-width="0.2">CCL2</text>
<text transform="translate(626.26 243.27) rotate(0.15) scale(1.0850 1)" font-size="7.16" fill="#111" stroke="#111" stroke-width="0.2">DCSTAMP</text>
<text transform="translate(626.72 250.05) rotate(0.15) scale(1.0850 1)" font-size="7.27" fill="#111" stroke="#111" stroke-width="0.2">TLN1</text>
<text transform="translate(626.26 256.82) rotate(0.15) scale(1.0850 1)" font-size="7.16" fill="#111" stroke="#111" stroke-width="0.2">EXOSC4</text>
<text transform="translate(626.88 263.60) rotate(0.15) scale(1.0850 1)" font-size="7.16" fill="#111" stroke="#111" stroke-width="0.2">ATP6V0D1</text>
<text transform="translate(626.26 270.37) rotate(0.15) scale(1.0850 1)" font-size="7.16" fill="#111" stroke="#111" stroke-width="0.2">HSPA5</text>
<text transform="translate(626.72 277.15) rotate(0.15) scale(1.0850 1)" font-size="7.27" fill="#111" stroke="#111" stroke-width="0.2">TPP1</text>
<text transform="translate(626.87 283.92) rotate(0.15) scale(1.0850 1)" font-size="7.27" fill="#111" stroke="#111" stroke-width="0.2">WIPI1</text>
<text transform="translate(626.26 290.70) rotate(0.15) scale(1.0850 1)" font-size="7.16" fill="#111" stroke="#111" stroke-width="0.2">KDELR3</text>
<text transform="translate(626.26 297.47) rotate(0.15) scale(1.0850 1)" font-size="7.16" fill="#111" stroke="#111" stroke-width="0.2">DCP2</text>
<text transform="translate(626.88 304.25) rotate(0.15) scale(1.0850 1)" font-size="7.16" fill="#111" stroke="#111" stroke-width="0.2">ACADVL</text>
<text transform="translate(626.25 311.02) rotate(0.15) scale(1.0850 1)" font-size="7.27" fill="#111" stroke="#111" stroke-width="0.2">DNAJB11</text>
<text transform="translate(626.88 317.80) rotate(0.15) scale(1.0850 1)" font-size="7.27" fill="#111" stroke="#111" stroke-width="0.2">ATF4</text>
<text transform="translate(626.51 324.57) rotate(0.15) scale(1.0850 1)" font-size="7.16" fill="#111" stroke="#111" stroke-width="0.2">CXXC1</text>
<text transform="translate(626.26 331.35) rotate(0.15) scale(1.0850 1)" font-size="7.16" fill="#111" stroke="#111" stroke-width="0.2">DCTN1</text>
<text transform="translate(626.26 338.13) rotate(0.15) scale(1.0850 1)" font-size="7.16" fill="#111" stroke="#111" stroke-width="0.2">HDGF</text>
<text transform="translate(626.26 344.90) rotate(0.15) scale(1.0850 1)" font-size="7.16" fill="#111" stroke="#111" stroke-width="0.2">PPP2R5B</text>
<text transform="translate(626.26 351.68) rotate(0.15) scale(1.0850 1)" font-size="7.16" fill="#111" stroke="#111" stroke-width="0.2">DNAJC3</text>
<text transform="translate(626.26 358.45) rotate(0.15) scale(1.0850 1)" font-size="7.16" fill="#111" stroke="#111" stroke-width="0.2">NFYC</text>
<text transform="translate(626.26 365.23) rotate(0.15) scale(1.0850 1)" font-size="7.16" fill="#111" stroke="#111" stroke-width="0.2">EXOSC1</text>
<text transform="translate(626.51 372.00) rotate(0.15) scale(1.0850 1)" font-size="7.16" fill="#111" stroke="#111" stroke-width="0.2">GSK3A</text>
<text transform="translate(626.55 378.78) rotate(0.15) scale(1.0850 1)" font-size="7.16" fill="#111" stroke="#111" stroke-width="0.2">SRPRA</text>
<text transform="translate(626.55 385.55) rotate(0.15) scale(1.0850 1)" font-size="7.16" fill="#111" stroke="#111" stroke-width="0.2">SERP1</text>
<text transform="translate(626.55 392.33) rotate(0.15) scale(1.0850 1)" font-size="7.16" fill="#111" stroke="#111" stroke-width="0.2">SHC1</text>
<text transform="translate(626.25 399.10) rotate(0.15) scale(1.0850 1)" font-size="7.27" fill="#111" stroke="#111" stroke-width="0.2">NFYA</text>
<text transform="translate(626.51 405.88) rotate(0.15) scale(1.0850 1)" font-size="7.16" fill="#111" stroke="#111" stroke-width="0.2">CTDSP2</text>
<text transform="translate(626.88 412.65) rotate(0.15) scale(1.0850 1)" font-size="7.16" fill="#111" stroke="#111" stroke-width="0.2">ATF6</text>
<text transform="translate(626.26 419.43) rotate(0.15) scale(1.0850 1)" font-size="7.16" fill="#111" stroke="#111" stroke-width="0.2">KLHDC3</text>
<text transform="translate(626.51 426.20) rotate(0.15) scale(1.0850 1)" font-size="7.16" fill="#111" stroke="#111" stroke-width="0.2">CEBPB</text>
<text transform="translate(626.51 432.98) rotate(0.15) scale(1.0850 1)" font-size="7.16" fill="#111" stroke="#111" stroke-width="0.2">CXCL8</text>
<text transform="translate(626.88 439.75) rotate(0.15) scale(1.0850 1)" font-size="7.16" fill="#111" stroke="#111" stroke-width="0.2">ATF3</text>
<text transform="translate(626.26 446.53) rotate(0.15) scale(1.0850 1)" font-size="7.16" fill="#111" stroke="#111" stroke-width="0.2">DDIT3</text>
<text transform="translate(626.65 453.31) rotate(0.15) scale(1.0850 1)" font-size="7.27" fill="#111" stroke="#111" stroke-width="0.2">ZBTB17</text>
<text transform="translate(626.51 460.08) rotate(0.15) scale(1.0850 1)" font-size="7.16" fill="#111" stroke="#111" stroke-width="0.2">CEBPG</text>
<text transform="translate(626.51 466.86) rotate(0.15) scale(1.0850 1)" font-size="7.16" fill="#111" stroke="#111" stroke-width="0.2">CALR</text>
<text transform="translate(626.51 473.63) rotate(0.15) scale(1.0850 1)" font-size="7.16" fill="#111" stroke="#111" stroke-width="0.2">GFPT1</text>
<text transform="translate(626.26 480.41) rotate(0.15) scale(1.0850 1)" font-size="7.16" fill="#111" stroke="#111" stroke-width="0.2">DIS3</text>
<text transform="translate(626.51 487.18) rotate(0.15) scale(1.0850 1)" font-size="7.16" fill="#111" stroke="#111" stroke-width="0.2">CREBRF</text>
<text transform="translate(626.26 493.96) rotate(0.15) scale(1.0850 1)" font-size="7.16" fill="#111" stroke="#111" stroke-width="0.2">DNAJB9</text>
<text transform="translate(626.26 500.73) rotate(0.15) scale(1.0850 1)" font-size="7.16" fill="#111" stroke="#111" stroke-width="0.2">MBTPS1</text>
<text transform="translate(626.73 507.51) rotate(0.15) scale(1.0850 1)" font-size="7.16" fill="#111" stroke="#111" stroke-width="0.2">TSPYL2</text>
<text transform="translate(626.25 514.28) rotate(0.15) scale(1.0850 1)" font-size="7.27" fill="#111" stroke="#111" stroke-width="0.2">LMNA</text>
<text transform="translate(626.26 521.06) rotate(0.15) scale(1.0850 1)" font-size="7.16" fill="#111" stroke="#111" stroke-width="0.2">EIF2AK3</text>
<text transform="translate(626.26 527.83) rotate(0.15) scale(1.0850 1)" font-size="7.16" fill="#111" stroke="#111" stroke-width="0.2">EXOSC9</text>
<text transform="translate(626.51 534.61) rotate(0.15) scale(1.0850 1)" font-size="7.16" fill="#111" stroke="#111" stroke-width="0.2">CREB3L3</text>
<text transform="translate(626.26 541.38) rotate(0.15) scale(1.0850 1)" font-size="7.16" fill="#111" stroke="#111" stroke-width="0.2">EXOSC6</text>
<text transform="translate(626.18 548.16) rotate(0.15) scale(1.0850 1)" font-size="7.16" fill="#111" stroke="#111" stroke-width="0.2">IGFBP1</text>
<text transform="translate(626.25 554.93) rotate(0.15) scale(1.0850 1)" font-size="7.27" fill="#111" stroke="#111" stroke-width="0.2">PDIA5</text>
<text transform="translate(626.26 561.71) rotate(0.15) scale(1.0850 1)" font-size="7.16" fill="#111" stroke="#111" stroke-width="0.2">HYOU1</text>
<text transform="translate(626.25 568.48) rotate(0.15) scale(1.0850 1)" font-size="7.27" fill="#111" stroke="#111" stroke-width="0.2">ERN1</text>
<text transform="translate(626.26 575.26) rotate(0.15) scale(1.0850 1)" font-size="7.16" fill="#111" stroke="#111" stroke-width="0.2">EXOSC2</text>
<text transform="translate(626.25 582.04) rotate(0.15) scale(1.0850 1)" font-size="7.27" fill="#111" stroke="#111" stroke-width="0.2">FKBP14</text>
<text transform="translate(626.88 588.81) rotate(0.15) scale(1.0850 1)" font-size="7.16" fill="#111" stroke="#111" stroke-width="0.2">ARFGAP1</text>
<text transform="translate(626.26 595.59) rotate(0.15) scale(1.0850 1)" font-size="7.16" fill="#111" stroke="#111" stroke-width="0.2">EXOSC5</text>
<text transform="translate(626.25 602.36) rotate(0.15) scale(1.0850 1)" font-size="7.27" fill="#111" stroke="#111" stroke-width="0.2">DDX11</text>
<text transform="translate(626.26 609.14) rotate(0.15) scale(1.0850 1)" font-size="7.16" fill="#111" stroke="#111" stroke-width="0.2">MBTPS2</text>
<text transform="translate(626.55 615.91) rotate(0.15) scale(1.0850 1)" font-size="7.16" fill="#111" stroke="#111" stroke-width="0.2">SYVN1</text>
<text transform="translate(626.73 622.69) rotate(0.15) scale(1.0850 1)" font-size="7.16" fill="#111" stroke="#111" stroke-width="0.2">TATDN2</text>
<text transform="translate(626.51 629.46) rotate(0.15) scale(1.0850 1)" font-size="7.16" fill="#111" stroke="#111" stroke-width="0.2">CUL7</text>
</g>
<path d="M64.60 38.16L64.60 44.94M64.60 38.16L90.80 38.16M64.60 44.94L90.80 44.94M65.70 58.49L65.70 65.26M65.70 58.49L90.80 58.49M65.70 65.26L90.80 65.26M60.00 51.71L60.00 61.88M60.00 51.71L90.80 51.71M60.00 61.88L65.70 61.88M57.50 41.55L57.50 56.79M57.50 41.55L64.60 41.55M57.50 56.79L60.00 56.79M54.20 31.39L54.20 49.17M54.20 31.39L90.80 31.39M54.20 49.17L57.50 49.17M68.40 78.81L68.40 85.59M68.40 78.81L90.80 78.81M68.40 85.59L90.80 85.59M66.90 72.04L66.90 82.20M66.90 72.04L90.80 72.04M66.90 82.20L68.40 82.20M64.40 99.14L64.40 105.92M64.40 99.14L90.80 99.14M64.40 105.92L90.80 105.92M60.60 92.37L60.60 102.53M60.60 92.37L90.80 92.37M60.60 102.53L64.40 102.53M58.10 77.12L58.10 97.45M58.10 77.12L66.90 77.12M58.10 97.45L60.60 97.45M70.60 133.02L70.60 139.79M70.60 133.02L90.80 133.02M70.60 139.79L90.80 139.79M66.70 126.24L66.70 136.40M66.70 126.24L90.80 126.24M66.70 136.40L70.60 136.40M64.50 119.47L64.50 131.32M64.50 119.47L90.80 119.47M64.50 131.32L66.70 131.32M61.90 112.69L61.90 125.39M61.90 112.69L90.80 112.69M61.90 125.39L64.50 125.39M69.30 146.57L69.30 153.34M69.30 146.57L90.80 146.57M69.30 153.34L90.80 153.34M65.80 160.12L65.80 166.89M65.80 160.12L90.80 160.12M65.80 166.89L90.80 166.89M59.50 149.96L59.50 163.51M59.50 149.96L69.30 149.96M59.50 163.51L65.80 163.51M57.50 119.04L57.50 156.73M57.50 119.04L61.90 119.04M57.50 156.73L59.50 156.73M51.20 87.28L51.20 137.89M51.20 87.28L58.10 87.28M51.20 137.89L57.50 137.89M50.00 40.28L50.00 112.59M50.00 40.28L54.20 40.28M50.00 112.59L51.20 112.59M58.10 180.44L58.10 187.22M58.10 180.44L90.80 180.44M58.10 187.22L90.80 187.22M53.10 173.67L53.10 183.83M53.10 173.67L90.80 173.67M53.10 183.83L58.10 183.83M61.30 193.99L61.30 200.77M61.30 193.99L90.80 193.99M61.30 200.77L90.80 200.77M59.20 214.32L59.20 221.10M59.20 214.32L90.80 214.32M59.20 221.10L90.80 221.10M58.10 207.54L58.10 217.71M58.10 207.54L90.80 207.54M58.10 217.71L59.20 217.71M51.50 197.38L51.50 212.63M51.50 197.38L61.30 197.38M51.50 212.63L58.10 212.63M46.80 178.75L46.80 205.00M46.80 178.75L53.10 178.75M46.80 205.00L51.50 205.00M41.80 76.43L41.80 191.88M41.80 76.43L50.00 76.43M41.80 191.88L46.80 191.88M63.90 234.65L63.90 241.42M63.90 234.65L90.80 234.65M63.90 241.42L90.80 241.42M59.50 227.87L59.50 238.03M59.50 227.87L90.80 227.87M59.50 238.03L63.90 238.03M66.90 248.20L66.90 254.97M66.90 248.20L90.80 248.20M66.90 254.97L90.80 254.97M72.40 261.75L72.40 268.52M72.40 261.75L90.80 261.75M72.40 268.52L90.80 268.52M69.40 275.30L69.40 282.07M69.40 275.30L90.80 275.30M69.40 282.07L90.80 282.07M64.40 265.13L64.40 278.69M64.40 265.13L72.40 265.13M64.40 278.69L69.40 278.69M63.10 251.58L63.10 271.91M63.10 251.58L66.90 251.58M63.10 271.91L64.40 271.91M58.30 288.85L58.30 295.62M58.30 288.85L90.80 288.85M58.30 295.62L90.80 295.62M55.80 261.75L55.80 292.24M55.80 261.75L63.10 261.75M55.80 292.24L58.30 292.24M50.60 232.95L50.60 276.99M50.60 232.95L59.50 232.95M50.60 276.99L55.80 276.99M69.40 309.17L69.40 315.95M69.40 309.17L90.80 309.17M69.40 315.95L90.80 315.95M64.90 302.40L64.90 312.56M64.90 302.40L90.80 302.40M64.90 312.56L69.40 312.56M62.90 322.72L62.90 329.50M62.90 322.72L90.80 322.72M62.90 329.50L90.80 329.50M57.60 307.48L57.60 326.11M57.60 307.48L64.90 307.48M57.60 326.11L62.90 326.11M54.60 336.28L54.60 343.05M54.60 336.28L90.80 336.28M54.60 343.05L90.80 343.05M51.90 316.80L51.90 339.66M51.90 316.80L57.60 316.80M51.90 339.66L54.60 339.66M62.10 349.83L62.10 356.60M62.10 349.83L90.80 349.83M62.10 356.60L90.80 356.60M62.10 370.15L62.10 376.93M62.10 370.15L90.80 370.15M62.10 376.93L90.80 376.93M59.70 363.38L59.70 373.54M59.70 363.38L90.80 363.38M59.70 373.54L62.10 373.54M56.40 353.21L56.40 368.46M56.40 353.21L62.10 353.21M56.40 368.46L59.70 368.46M62.70 383.70L62.70 390.48M62.70 383.70L90.80 383.70M62.70 390.48L90.80 390.48M67.40 410.80L67.40 417.58M67.40 410.80L90.80 410.80M67.40 417.58L90.80 417.58M59.70 404.03L59.70 414.19M59.70 404.03L90.80 404.03M59.70 414.19L67.40 414.19M57.60 397.25L57.60 409.11M57.60 397.25L90.80 397.25M57.60 409.11L59.70 409.11M53.10 387.09L53.10 403.18M53.10 387.09L62.70 387.09M53.10 403.18L57.60 403.18M49.90 360.84L49.90 395.14M49.90 360.84L56.40 360.84M49.90 395.14L53.10 395.14M46.80 328.23L46.80 377.99M46.80 328.23L51.90 328.23M46.80 377.99L49.90 377.99M46.00 254.97L46.00 353.11M46.00 254.97L50.60 254.97M46.00 353.11L46.80 353.11M73.10 424.35L73.10 431.13M73.10 424.35L90.80 424.35M73.10 431.13L90.80 431.13M71.10 437.90L71.10 444.68M71.10 437.90L90.80 437.90M71.10 444.68L90.80 444.68M64.50 427.74L64.50 441.29M64.50 427.74L73.10 427.74M64.50 441.29L71.10 441.29M63.90 451.46L63.90 458.23M63.90 451.46L90.80 451.46M63.90 458.23L90.80 458.23M54.40 434.52L54.40 454.84M54.40 434.52L64.50 434.52M54.40 454.84L63.90 454.84M61.30 465.01L61.30 471.78M61.30 465.01L90.80 465.01M61.30 471.78L90.80 471.78M64.40 485.33L64.40 492.11M64.40 485.33L90.80 485.33M64.40 492.11L90.80 492.11M61.70 478.56L61.70 488.72M61.70 478.56L90.80 478.56M61.70 488.72L64.40 488.72M63.70 512.43L63.70 519.21M63.70 512.43L90.80 512.43M63.70 519.21L90.80 519.21M60.50 505.66L60.50 515.82M60.50 505.66L90.80 505.66M60.50 515.82L63.70 515.82M58.00 498.88L58.00 510.74M58.00 498.88L90.80 498.88M58.00 510.74L60.50 510.74M55.20 483.64L55.20 504.81M55.20 483.64L61.70 483.64M55.20 504.81L58.00 504.81M51.90 468.39L51.90 494.22M51.90 468.39L61.30 468.39M51.90 494.22L55.20 494.22M48.70 444.68L48.70 481.31M48.70 444.68L54.40 444.68M48.70 481.31L51.90 481.31M61.30 525.98L61.30 532.76M61.30 525.98L90.80 525.98M61.30 532.76L90.80 532.76M56.80 539.53L56.80 546.31M56.80 539.53L90.80 539.53M56.80 546.31L90.80 546.31M51.10 529.37L51.10 542.92M51.10 529.37L61.30 529.37M51.10 542.92L56.80 542.92M61.70 553.08L61.70 559.86M61.70 553.08L90.80 553.08M61.70 559.86L90.80 559.86M66.20 573.41L66.20 580.19M66.20 573.41L90.80 573.41M66.20 580.19L90.80 580.19M58.00 566.63L58.00 576.80M58.00 566.63L90.80 566.63M58.00 576.80L66.20 576.80M54.60 556.47L54.60 571.72M54.60 556.47L61.70 556.47M54.60 571.72L58.00 571.72M63.70 593.74L63.70 600.51M63.70 593.74L90.80 593.74M63.70 600.51L90.80 600.51M59.70 586.96L59.70 597.12M59.70 586.96L90.80 586.96M59.70 597.12L63.70 597.12M61.30 620.84L61.30 627.61M61.30 620.84L90.80 620.84M61.30 627.61L90.80 627.61M56.40 614.06L56.40 624.22M56.40 614.06L90.80 614.06M56.40 624.22L61.30 624.22M53.60 607.29L53.60 619.14M53.60 607.29L90.80 607.29M53.60 619.14L56.40 619.14M51.90 592.04L51.90 613.21M51.90 592.04L59.70 592.04M51.90 613.21L53.60 613.21M48.30 564.09L48.30 602.63M48.30 564.09L54.60 564.09M48.30 602.63L51.90 602.63M46.20 536.15L46.20 583.36M46.20 536.15L51.10 536.15M46.20 583.36L48.30 583.36M41.00 462.99L41.00 559.75M41.00 462.99L48.70 462.99M41.00 559.75L46.20 559.75M40.30 304.04L40.30 511.37M40.30 304.04L46.00 304.04M40.30 511.37L41.00 511.37M39.00 134.15L39.00 407.71M39.00 134.15L41.80 134.15M39.00 407.71L40.30 407.71" stroke="#000" stroke-width="1.6" fill="none" stroke-linecap="square"/>
<text transform="translate(688.27 224.80) scale(1.0421 1)" font-size="13.89" fill="#000">Group</text>
<rect x="687.1" y="231.3" width="22.5" height="21.7" fill="#45adc9"/>
<rect x="687.1" y="255.0" width="22.5" height="22.2" fill="#dc4b36"/>
<text transform="translate(716.36 246.80) scale(1.0237 1)" font-size="14.18" fill="#000">Con</text>
<text transform="translate(717.07 269.90) scale(1.0237 1)" font-size="14.10" fill="#000">AMI</text>
<defs><linearGradient id="gA" x1="0" y1="0" x2="0" y2="1"><stop offset="0.000" stop-color="#d8422c"/><stop offset="0.050" stop-color="#d8442e"/><stop offset="0.100" stop-color="#dc5541"/><stop offset="0.150" stop-color="#df6654"/><stop offset="0.200" stop-color="#e37868"/><stop offset="0.250" stop-color="#e78a7d"/><stop offset="0.300" stop-color="#eb9d92"/><stop offset="0.350" stop-color="#efb1a8"/><stop offset="0.400" stop-color="#f3c7c0"/><stop offset="0.450" stop-color="#f8dfdb"/><stop offset="0.500" stop-color="#ffffff"/><stop offset="0.550" stop-color="#ddeff5"/><stop offset="0.600" stop-color="#c5e3ed"/><stop offset="0.650" stop-color="#aed8e6"/><stop offset="0.700" stop-color="#99cee0"/><stop offset="0.750" stop-color="#85c5da"/><stop offset="0.800" stop-color="#72bcd4"/><stop offset="0.850" stop-color="#60b3ce"/><stop offset="0.900" stop-color="#4eaac9"/><stop offset="0.950" stop-color="#3ca2c4"/><stop offset="1.000" stop-color="#3aa1c3"/></linearGradient><linearGradient id="gB" x1="0" y1="0" x2="0" y2="1"><stop offset="0.000" stop-color="#d94228"/><stop offset="0.050" stop-color="#dc5038"/><stop offset="0.100" stop-color="#df5f49"/><stop offset="0.150" stop-color="#e26e5a"/><stop offset="0.200" stop-color="#e57e6c"/><stop offset="0.250" stop-color="#e88f7f"/><stop offset="0.300" stop-color="#eca093"/><stop offset="0.350" stop-color="#f0b2a8"/><stop offset="0.400" stop-color="#f4c6bf"/><stop offset="0.450" stop-color="#f8ddd9"/><stop offset="0.500" stop-color="#ffffff"/><stop offset="0.550" stop-color="#dceef4"/><stop offset="0.600" stop-color="#c4e3ec"/><stop offset="0.650" stop-color="#afd8e5"/><stop offset="0.700" stop-color="#9ccfdf"/><stop offset="0.750" stop-color="#8ac7da"/><stop offset="0.800" stop-color="#79bed4"/><stop offset="0.850" stop-color="#68b6cf"/><stop offset="0.900" stop-color="#58afca"/><stop offset="0.950" stop-color="#49a7c5"/><stop offset="1.000" stop-color="#3aa0c0"/></linearGradient></defs>
<rect x="685.4" y="306.9" width="23.4" height="148.3" fill="url(#gA)"/>
<line x1="685.4" x2="692.2" y1="313.10" y2="313.10" stroke="#fff" stroke-width="1.6"/>
<line x1="701.8" x2="708.8" y1="313.10" y2="313.10" stroke="#fff" stroke-width="1.6"/>
<text transform="translate(716.50 317.10) scale(0.9804 1)" font-size="14.18" fill="#000">2</text>
<line x1="685.4" x2="692.2" y1="347.00" y2="347.00" stroke="#fff" stroke-width="1.6"/>
<line x1="701.8" x2="708.8" y1="347.00" y2="347.00" stroke="#fff" stroke-width="1.6"/>
<text transform="translate(716.14 351.00) scale(0.9804 1)" font-size="14.17" fill="#000">1</text>
<line x1="685.4" x2="692.2" y1="380.90" y2="380.90" stroke="#fff" stroke-width="1.6"/>
<line x1="701.8" x2="708.8" y1="380.90" y2="380.90" stroke="#fff" stroke-width="1.6"/>
<text transform="translate(716.66 384.90) scale(0.9804 1)" font-size="14.18" fill="#000">0</text>
<line x1="685.4" x2="692.2" y1="414.80" y2="414.80" stroke="#fff" stroke-width="1.6"/>
<line x1="701.8" x2="708.8" y1="414.80" y2="414.80" stroke="#fff" stroke-width="1.6"/>
<text transform="translate(716.31 418.80) scale(0.9804 1)" font-size="14.17" fill="#000">−1</text>
<line x1="685.4" x2="692.2" y1="448.70" y2="448.70" stroke="#fff" stroke-width="1.6"/>
<line x1="701.8" x2="708.8" y1="448.70" y2="448.70" stroke="#fff" stroke-width="1.6"/>
<text transform="translate(716.31 452.70) scale(0.9804 1)" font-size="14.18" fill="#000">−2</text>
<text transform="translate(5.01 676.80) scale(0.8344 1)" font-size="23.98" fill="#000" stroke="#000" stroke-width="0.35">B</text>
<g>
<rect x="74.80" y="679.00" width="17.50" height="25.14" fill="#d94228" stroke="#222" stroke-width="0.9"/>
<rect x="92.30" y="679.00" width="17.50" height="25.14" fill="#e78878" stroke="#222" stroke-width="0.9"/>
<rect x="109.80" y="679.00" width="17.50" height="25.14" fill="#e37461" stroke="#222" stroke-width="0.9"/>
<rect x="127.30" y="679.00" width="17.50" height="25.14" fill="#df604a" stroke="#222" stroke-width="0.9"/>
<rect x="144.80" y="679.00" width="17.50" height="25.14" fill="#eda699" stroke="#222" stroke-width="0.9"/>
<rect x="162.30" y="679.00" width="17.50" height="25.14" fill="#add7e5" stroke="#222" stroke-width="0.9"/>
<rect x="179.80" y="679.00" width="17.50" height="25.14" fill="#efb0a5" stroke="#222" stroke-width="0.9"/>
<rect x="197.30" y="679.00" width="17.50" height="25.14" fill="#7fc1d6" stroke="#222" stroke-width="0.9"/>
<rect x="214.80" y="679.00" width="17.50" height="25.14" fill="#f1bab0" stroke="#222" stroke-width="0.9"/>
<rect x="232.30" y="679.00" width="17.50" height="25.14" fill="#e5f3f7" stroke="#222" stroke-width="0.9"/>
<rect x="249.80" y="679.00" width="17.50" height="25.14" fill="#eda699" stroke="#222" stroke-width="0.9"/>
<rect x="267.30" y="679.00" width="17.50" height="25.14" fill="#f3c3bb" stroke="#222" stroke-width="0.9"/>
<rect x="284.80" y="679.00" width="17.50" height="25.14" fill="#a5d4e2" stroke="#222" stroke-width="0.9"/>
<rect x="302.30" y="679.00" width="17.50" height="25.14" fill="#efb0a5" stroke="#222" stroke-width="0.9"/>
<rect x="74.80" y="704.14" width="17.50" height="25.14" fill="#e78878" stroke="#222" stroke-width="0.9"/>
<rect x="92.30" y="704.14" width="17.50" height="25.14" fill="#d94229" stroke="#222" stroke-width="0.9"/>
<rect x="109.80" y="704.14" width="17.50" height="25.14" fill="#e37461" stroke="#222" stroke-width="0.9"/>
<rect x="127.30" y="704.14" width="17.50" height="25.14" fill="#e78878" stroke="#222" stroke-width="0.9"/>
<rect x="144.80" y="704.14" width="17.50" height="25.14" fill="#f5cdc7" stroke="#222" stroke-width="0.9"/>
<rect x="162.30" y="704.14" width="17.50" height="25.14" fill="#7fc1d6" stroke="#222" stroke-width="0.9"/>
<rect x="179.80" y="704.14" width="17.50" height="25.14" fill="#f5cdc7" stroke="#222" stroke-width="0.9"/>
<rect x="197.30" y="704.14" width="17.50" height="25.14" fill="#b2dae6" stroke="#222" stroke-width="0.9"/>
<rect x="214.80" y="704.14" width="17.50" height="25.14" fill="#f1bab0" stroke="#222" stroke-width="0.9"/>
<rect x="232.30" y="704.14" width="17.50" height="25.14" fill="#b2dae6" stroke="#222" stroke-width="0.9"/>
<rect x="249.80" y="704.14" width="17.50" height="25.14" fill="#eda699" stroke="#222" stroke-width="0.9"/>
<rect x="267.30" y="704.14" width="17.50" height="25.14" fill="#f1bab0" stroke="#222" stroke-width="0.9"/>
<rect x="284.80" y="704.14" width="17.50" height="25.14" fill="#72bbd2" stroke="#222" stroke-width="0.9"/>
<rect x="302.30" y="704.14" width="17.50" height="25.14" fill="#efb0a5" stroke="#222" stroke-width="0.9"/>
<rect x="74.80" y="729.29" width="17.50" height="25.14" fill="#e37461" stroke="#222" stroke-width="0.9"/>
<rect x="92.30" y="729.29" width="17.50" height="25.14" fill="#e37461" stroke="#222" stroke-width="0.9"/>
<rect x="109.80" y="729.29" width="17.50" height="25.14" fill="#d94228" stroke="#222" stroke-width="0.9"/>
<rect x="127.30" y="729.29" width="17.50" height="25.14" fill="#e16a56" stroke="#222" stroke-width="0.9"/>
<rect x="144.80" y="729.29" width="17.50" height="25.14" fill="#e99283" stroke="#222" stroke-width="0.9"/>
<rect x="162.30" y="729.29" width="17.50" height="25.14" fill="#99cede" stroke="#222" stroke-width="0.9"/>
<rect x="179.80" y="729.29" width="17.50" height="25.14" fill="#f5cdc7" stroke="#222" stroke-width="0.9"/>
<rect x="197.30" y="729.29" width="17.50" height="25.14" fill="#7fc1d6" stroke="#222" stroke-width="0.9"/>
<rect x="214.80" y="729.29" width="17.50" height="25.14" fill="#e78878" stroke="#222" stroke-width="0.9"/>
<rect x="232.30" y="729.29" width="17.50" height="25.14" fill="#d9ecf3" stroke="#222" stroke-width="0.9"/>
<rect x="249.80" y="729.29" width="17.50" height="25.14" fill="#e78878" stroke="#222" stroke-width="0.9"/>
<rect x="267.30" y="729.29" width="17.50" height="25.14" fill="#f3c3bb" stroke="#222" stroke-width="0.9"/>
<rect x="284.80" y="729.29" width="17.50" height="25.14" fill="#99cede" stroke="#222" stroke-width="0.9"/>
<rect x="302.30" y="729.29" width="17.50" height="25.14" fill="#f1bab0" stroke="#222" stroke-width="0.9"/>
<rect x="74.80" y="754.43" width="17.50" height="25.14" fill="#df604a" stroke="#222" stroke-width="0.9"/>
<rect x="92.30" y="754.43" width="17.50" height="25.14" fill="#e78878" stroke="#222" stroke-width="0.9"/>
<rect x="109.80" y="754.43" width="17.50" height="25.14" fill="#e16a56" stroke="#222" stroke-width="0.9"/>
<rect x="127.30" y="754.43" width="17.50" height="25.14" fill="#d94228" stroke="#222" stroke-width="0.9"/>
<rect x="144.80" y="754.43" width="17.50" height="25.14" fill="#eb9c8e" stroke="#222" stroke-width="0.9"/>
<rect x="162.30" y="754.43" width="17.50" height="25.14" fill="#a5d4e2" stroke="#222" stroke-width="0.9"/>
<rect x="179.80" y="754.43" width="17.50" height="25.14" fill="#f1bab0" stroke="#222" stroke-width="0.9"/>
<rect x="197.30" y="754.43" width="17.50" height="25.14" fill="#7fc1d6" stroke="#222" stroke-width="0.9"/>
<rect x="214.80" y="754.43" width="17.50" height="25.14" fill="#f7d7d2" stroke="#222" stroke-width="0.9"/>
<rect x="232.30" y="754.43" width="17.50" height="25.14" fill="#cce6ef" stroke="#222" stroke-width="0.9"/>
<rect x="249.80" y="754.43" width="17.50" height="25.14" fill="#eb9c8e" stroke="#222" stroke-width="0.9"/>
<rect x="267.30" y="754.43" width="17.50" height="25.14" fill="#fdf5f4" stroke="#222" stroke-width="0.9"/>
<rect x="284.80" y="754.43" width="17.50" height="25.14" fill="#8cc7da" stroke="#222" stroke-width="0.9"/>
<rect x="302.30" y="754.43" width="17.50" height="25.14" fill="#efb0a5" stroke="#222" stroke-width="0.9"/>
<rect x="74.80" y="779.57" width="17.50" height="25.14" fill="#eda699" stroke="#222" stroke-width="0.9"/>
<rect x="92.30" y="779.57" width="17.50" height="25.14" fill="#f5cdc7" stroke="#222" stroke-width="0.9"/>
<rect x="109.80" y="779.57" width="17.50" height="25.14" fill="#e99283" stroke="#222" stroke-width="0.9"/>
<rect x="127.30" y="779.57" width="17.50" height="25.14" fill="#eb9c8e" stroke="#222" stroke-width="0.9"/>
<rect x="144.80" y="779.57" width="17.50" height="25.14" fill="#d94228" stroke="#222" stroke-width="0.9"/>
<rect x="162.30" y="779.57" width="17.50" height="25.14" fill="#ffffff" stroke="#222" stroke-width="0.9"/>
<rect x="179.80" y="779.57" width="17.50" height="25.14" fill="#e99283" stroke="#222" stroke-width="0.9"/>
<rect x="197.30" y="779.57" width="17.50" height="25.14" fill="#a5d4e2" stroke="#222" stroke-width="0.9"/>
<rect x="214.80" y="779.57" width="17.50" height="25.14" fill="#eb9c8e" stroke="#222" stroke-width="0.9"/>
<rect x="232.30" y="779.57" width="17.50" height="25.14" fill="#f2f9fb" stroke="#222" stroke-width="0.9"/>
<rect x="249.80" y="779.57" width="17.50" height="25.14" fill="#efb0a5" stroke="#222" stroke-width="0.9"/>
<rect x="267.30" y="779.57" width="17.50" height="25.14" fill="#ffffff" stroke="#222" stroke-width="0.9"/>
<rect x="284.80" y="779.57" width="17.50" height="25.14" fill="#fefbfa" stroke="#222" stroke-width="0.9"/>
<rect x="302.30" y="779.57" width="17.50" height="25.14" fill="#f9e1dd" stroke="#222" stroke-width="0.9"/>
<rect x="74.80" y="804.71" width="17.50" height="25.14" fill="#add7e5" stroke="#222" stroke-width="0.9"/>
<rect x="92.30" y="804.71" width="17.50" height="25.14" fill="#7fc1d6" stroke="#222" stroke-width="0.9"/>
<rect x="109.80" y="804.71" width="17.50" height="25.14" fill="#99cede" stroke="#222" stroke-width="0.9"/>
<rect x="127.30" y="804.71" width="17.50" height="25.14" fill="#a5d4e2" stroke="#222" stroke-width="0.9"/>
<rect x="144.80" y="804.71" width="17.50" height="25.14" fill="#ffffff" stroke="#222" stroke-width="0.9"/>
<rect x="162.30" y="804.71" width="17.50" height="25.14" fill="#d94228" stroke="#222" stroke-width="0.9"/>
<rect x="179.80" y="804.71" width="17.50" height="25.14" fill="#fbebe8" stroke="#222" stroke-width="0.9"/>
<rect x="197.30" y="804.71" width="17.50" height="25.14" fill="#f1bab0" stroke="#222" stroke-width="0.9"/>
<rect x="214.80" y="804.71" width="17.50" height="25.14" fill="#d9ecf3" stroke="#222" stroke-width="0.9"/>
<rect x="232.30" y="804.71" width="17.50" height="25.14" fill="#eda699" stroke="#222" stroke-width="0.9"/>
<rect x="249.80" y="804.71" width="17.50" height="25.14" fill="#b2dae6" stroke="#222" stroke-width="0.9"/>
<rect x="267.30" y="804.71" width="17.50" height="25.14" fill="#bfe0eb" stroke="#222" stroke-width="0.9"/>
<rect x="284.80" y="804.71" width="17.50" height="25.14" fill="#e99283" stroke="#222" stroke-width="0.9"/>
<rect x="302.30" y="804.71" width="17.50" height="25.14" fill="#a5d4e2" stroke="#222" stroke-width="0.9"/>
<rect x="74.80" y="829.86" width="17.50" height="25.14" fill="#efb0a5" stroke="#222" stroke-width="0.9"/>
<rect x="92.30" y="829.86" width="17.50" height="25.14" fill="#f5cdc7" stroke="#222" stroke-width="0.9"/>
<rect x="109.80" y="829.86" width="17.50" height="25.14" fill="#f5cdc7" stroke="#222" stroke-width="0.9"/>
<rect x="127.30" y="829.86" width="17.50" height="25.14" fill="#f1bab0" stroke="#222" stroke-width="0.9"/>
<rect x="144.80" y="829.86" width="17.50" height="25.14" fill="#e99283" stroke="#222" stroke-width="0.9"/>
<rect x="162.30" y="829.86" width="17.50" height="25.14" fill="#fbebe8" stroke="#222" stroke-width="0.9"/>
<rect x="179.80" y="829.86" width="17.50" height="25.14" fill="#d94228" stroke="#222" stroke-width="0.9"/>
<rect x="197.30" y="829.86" width="17.50" height="25.14" fill="#f2f9fb" stroke="#222" stroke-width="0.9"/>
<rect x="214.80" y="829.86" width="17.50" height="25.14" fill="#eda699" stroke="#222" stroke-width="0.9"/>
<rect x="232.30" y="829.86" width="17.50" height="25.14" fill="#fefbfa" stroke="#222" stroke-width="0.9"/>
<rect x="249.80" y="829.86" width="17.50" height="25.14" fill="#f5cdc7" stroke="#222" stroke-width="0.9"/>
<rect x="267.30" y="829.86" width="17.50" height="25.14" fill="#fdf5f4" stroke="#222" stroke-width="0.9"/>
<rect x="284.80" y="829.86" width="17.50" height="25.14" fill="#f9e1dd" stroke="#222" stroke-width="0.9"/>
<rect x="302.30" y="829.86" width="17.50" height="25.14" fill="#fefbfa" stroke="#222" stroke-width="0.9"/>
<rect x="74.80" y="855.00" width="17.50" height="25.14" fill="#7fc1d6" stroke="#222" stroke-width="0.9"/>
<rect x="92.30" y="855.00" width="17.50" height="25.14" fill="#b2dae6" stroke="#222" stroke-width="0.9"/>
<rect x="109.80" y="855.00" width="17.50" height="25.14" fill="#7fc1d6" stroke="#222" stroke-width="0.9"/>
<rect x="127.30" y="855.00" width="17.50" height="25.14" fill="#7fc1d6" stroke="#222" stroke-width="0.9"/>
<rect x="144.80" y="855.00" width="17.50" height="25.14" fill="#a5d4e2" stroke="#222" stroke-width="0.9"/>
<rect x="162.30" y="855.00" width="17.50" height="25.14" fill="#f1bab0" stroke="#222" stroke-width="0.9"/>
<rect x="179.80" y="855.00" width="17.50" height="25.14" fill="#f2f9fb" stroke="#222" stroke-width="0.9"/>
<rect x="197.30" y="855.00" width="17.50" height="25.14" fill="#d94228" stroke="#222" stroke-width="0.9"/>
<rect x="214.80" y="855.00" width="17.50" height="25.14" fill="#b2dae6" stroke="#222" stroke-width="0.9"/>
<rect x="232.30" y="855.00" width="17.50" height="25.14" fill="#fbebe8" stroke="#222" stroke-width="0.9"/>
<rect x="249.80" y="855.00" width="17.50" height="25.14" fill="#bfe0eb" stroke="#222" stroke-width="0.9"/>
<rect x="267.30" y="855.00" width="17.50" height="25.14" fill="#d9ecf3" stroke="#222" stroke-width="0.9"/>
<rect x="284.80" y="855.00" width="17.50" height="25.14" fill="#f1bab0" stroke="#222" stroke-width="0.9"/>
<rect x="302.30" y="855.00" width="17.50" height="25.14" fill="#cce6ef" stroke="#222" stroke-width="0.9"/>
<rect x="74.80" y="880.14" width="17.50" height="25.14" fill="#f1bab0" stroke="#222" stroke-width="0.9"/>
<rect x="92.30" y="880.14" width="17.50" height="25.14" fill="#f1bab0" stroke="#222" stroke-width="0.9"/>
<rect x="109.80" y="880.14" width="17.50" height="25.14" fill="#e78878" stroke="#222" stroke-width="0.9"/>
<rect x="127.30" y="880.14" width="17.50" height="25.14" fill="#f7d7d2" stroke="#222" stroke-width="0.9"/>
<rect x="144.80" y="880.14" width="17.50" height="25.14" fill="#eb9c8e" stroke="#222" stroke-width="0.9"/>
<rect x="162.30" y="880.14" width="17.50" height="25.14" fill="#d9ecf3" stroke="#222" stroke-width="0.9"/>
<rect x="179.80" y="880.14" width="17.50" height="25.14" fill="#eda699" stroke="#222" stroke-width="0.9"/>
<rect x="197.30" y="880.14" width="17.50" height="25.14" fill="#b2dae6" stroke="#222" stroke-width="0.9"/>
<rect x="214.80" y="880.14" width="17.50" height="25.14" fill="#d94228" stroke="#222" stroke-width="0.9"/>
<rect x="232.30" y="880.14" width="17.50" height="25.14" fill="#f2f9fb" stroke="#222" stroke-width="0.9"/>
<rect x="249.80" y="880.14" width="17.50" height="25.14" fill="#f1bab0" stroke="#222" stroke-width="0.9"/>
<rect x="267.30" y="880.14" width="17.50" height="25.14" fill="#f3c3bb" stroke="#222" stroke-width="0.9"/>
<rect x="284.80" y="880.14" width="17.50" height="25.14" fill="#ffffff" stroke="#222" stroke-width="0.9"/>
<rect x="302.30" y="880.14" width="17.50" height="25.14" fill="#f2f9fb" stroke="#222" stroke-width="0.9"/>
<rect x="74.80" y="905.29" width="17.50" height="25.14" fill="#e5f3f7" stroke="#222" stroke-width="0.9"/>
<rect x="92.30" y="905.29" width="17.50" height="25.14" fill="#b2dae6" stroke="#222" stroke-width="0.9"/>
<rect x="109.80" y="905.29" width="17.50" height="25.14" fill="#d9ecf3" stroke="#222" stroke-width="0.9"/>
<rect x="127.30" y="905.29" width="17.50" height="25.14" fill="#cce6ef" stroke="#222" stroke-width="0.9"/>
<rect x="144.80" y="905.29" width="17.50" height="25.14" fill="#f2f9fb" stroke="#222" stroke-width="0.9"/>
<rect x="162.30" y="905.29" width="17.50" height="25.14" fill="#eda699" stroke="#222" stroke-width="0.9"/>
<rect x="179.80" y="905.29" width="17.50" height="25.14" fill="#fefbfa" stroke="#222" stroke-width="0.9"/>
<rect x="197.30" y="905.29" width="17.50" height="25.14" fill="#fbebe8" stroke="#222" stroke-width="0.9"/>
<rect x="214.80" y="905.29" width="17.50" height="25.14" fill="#f2f9fb" stroke="#222" stroke-width="0.9"/>
<rect x="232.30" y="905.29" width="17.50" height="25.14" fill="#d94228" stroke="#222" stroke-width="0.9"/>
<rect x="249.80" y="905.29" width="17.50" height="25.14" fill="#e5f3f7" stroke="#222" stroke-width="0.9"/>
<rect x="267.30" y="905.29" width="17.50" height="25.14" fill="#bfe0eb" stroke="#222" stroke-width="0.9"/>
<rect x="284.80" y="905.29" width="17.50" height="25.14" fill="#f3c3bb" stroke="#222" stroke-width="0.9"/>
<rect x="302.30" y="905.29" width="17.50" height="25.14" fill="#d9ecf3" stroke="#222" stroke-width="0.9"/>
<rect x="74.80" y="930.43" width="17.50" height="25.14" fill="#eda699" stroke="#222" stroke-width="0.9"/>
<rect x="92.30" y="930.43" width="17.50" height="25.14" fill="#eda699" stroke="#222" stroke-width="0.9"/>
<rect x="109.80" y="930.43" width="17.50" height="25.14" fill="#e78878" stroke="#222" stroke-width="0.9"/>
<rect x="127.30" y="930.43" width="17.50" height="25.14" fill="#eb9c8e" stroke="#222" stroke-width="0.9"/>
<rect x="144.80" y="930.43" width="17.50" height="25.14" fill="#efb0a5" stroke="#222" stroke-width="0.9"/>
<rect x="162.30" y="930.43" width="17.50" height="25.14" fill="#b2dae6" stroke="#222" stroke-width="0.9"/>
<rect x="179.80" y="930.43" width="17.50" height="25.14" fill="#f5cdc7" stroke="#222" stroke-width="0.9"/>
<rect x="197.30" y="930.43" width="17.50" height="25.14" fill="#bfe0eb" stroke="#222" stroke-width="0.9"/>
<rect x="214.80" y="930.43" width="17.50" height="25.14" fill="#f1bab0" stroke="#222" stroke-width="0.9"/>
<rect x="232.30" y="930.43" width="17.50" height="25.14" fill="#e5f3f7" stroke="#222" stroke-width="0.9"/>
<rect x="249.80" y="930.43" width="17.50" height="25.14" fill="#d94228" stroke="#222" stroke-width="0.9"/>
<rect x="267.30" y="930.43" width="17.50" height="25.14" fill="#fbebe8" stroke="#222" stroke-width="0.9"/>
<rect x="284.80" y="930.43" width="17.50" height="25.14" fill="#cce6ef" stroke="#222" stroke-width="0.9"/>
<rect x="302.30" y="930.43" width="17.50" height="25.14" fill="#fbebe8" stroke="#222" stroke-width="0.9"/>
<rect x="74.80" y="955.57" width="17.50" height="25.14" fill="#f3c3bb" stroke="#222" stroke-width="0.9"/>
<rect x="92.30" y="955.57" width="17.50" height="25.14" fill="#f1bab0" stroke="#222" stroke-width="0.9"/>
<rect x="109.80" y="955.57" width="17.50" height="25.14" fill="#f3c3bb" stroke="#222" stroke-width="0.9"/>
<rect x="127.30" y="955.57" width="17.50" height="25.14" fill="#fdf5f4" stroke="#222" stroke-width="0.9"/>
<rect x="144.80" y="955.57" width="17.50" height="25.14" fill="#ffffff" stroke="#222" stroke-width="0.9"/>
<rect x="162.30" y="955.57" width="17.50" height="25.14" fill="#bfe0eb" stroke="#222" stroke-width="0.9"/>
<rect x="179.80" y="955.57" width="17.50" height="25.14" fill="#fdf5f4" stroke="#222" stroke-width="0.9"/>
<rect x="197.30" y="955.57" width="17.50" height="25.14" fill="#d9ecf3" stroke="#222" stroke-width="0.9"/>
<rect x="214.80" y="955.57" width="17.50" height="25.14" fill="#f3c3bb" stroke="#222" stroke-width="0.9"/>
<rect x="232.30" y="955.57" width="17.50" height="25.14" fill="#bfe0eb" stroke="#222" stroke-width="0.9"/>
<rect x="249.80" y="955.57" width="17.50" height="25.14" fill="#fbebe8" stroke="#222" stroke-width="0.9"/>
<rect x="267.30" y="955.57" width="17.50" height="25.14" fill="#d94228" stroke="#222" stroke-width="0.9"/>
<rect x="284.80" y="955.57" width="17.50" height="25.14" fill="#d9ecf3" stroke="#222" stroke-width="0.9"/>
<rect x="302.30" y="955.57" width="17.50" height="25.14" fill="#fbebe8" stroke="#222" stroke-width="0.9"/>
<rect x="74.80" y="980.71" width="17.50" height="25.14" fill="#a5d4e2" stroke="#222" stroke-width="0.9"/>
<rect x="92.30" y="980.71" width="17.50" height="25.14" fill="#72bbd2" stroke="#222" stroke-width="0.9"/>
<rect x="109.80" y="980.71" width="17.50" height="25.14" fill="#99cede" stroke="#222" stroke-width="0.9"/>
<rect x="127.30" y="980.71" width="17.50" height="25.14" fill="#8cc7da" stroke="#222" stroke-width="0.9"/>
<rect x="144.80" y="980.71" width="17.50" height="25.14" fill="#fefbfa" stroke="#222" stroke-width="0.9"/>
<rect x="162.30" y="980.71" width="17.50" height="25.14" fill="#e99283" stroke="#222" stroke-width="0.9"/>
<rect x="179.80" y="980.71" width="17.50" height="25.14" fill="#f9e1dd" stroke="#222" stroke-width="0.9"/>
<rect x="197.30" y="980.71" width="17.50" height="25.14" fill="#f1bab0" stroke="#222" stroke-width="0.9"/>
<rect x="214.80" y="980.71" width="17.50" height="25.14" fill="#ffffff" stroke="#222" stroke-width="0.9"/>
<rect x="232.30" y="980.71" width="17.50" height="25.14" fill="#f3c3bb" stroke="#222" stroke-width="0.9"/>
<rect x="249.80" y="980.71" width="17.50" height="25.14" fill="#cce6ef" stroke="#222" stroke-width="0.9"/>
<rect x="267.30" y="980.71" width="17.50" height="25.14" fill="#d9ecf3" stroke="#222" stroke-width="0.9"/>
<rect x="284.80" y="980.71" width="17.50" height="25.14" fill="#d94228" stroke="#222" stroke-width="0.9"/>
<rect x="302.30" y="980.71" width="17.50" height="25.14" fill="#cce6ef" stroke="#222" stroke-width="0.9"/>
<rect x="74.80" y="1005.86" width="17.50" height="25.14" fill="#efb0a5" stroke="#222" stroke-width="0.9"/>
<rect x="92.30" y="1005.86" width="17.50" height="25.14" fill="#efb0a5" stroke="#222" stroke-width="0.9"/>
<rect x="109.80" y="1005.86" width="17.50" height="25.14" fill="#f1bab0" stroke="#222" stroke-width="0.9"/>
<rect x="127.30" y="1005.86" width="17.50" height="25.14" fill="#efb0a5" stroke="#222" stroke-width="0.9"/>
<rect x="144.80" y="1005.86" width="17.50" height="25.14" fill="#f9e1dd" stroke="#222" stroke-width="0.9"/>
<rect x="162.30" y="1005.86" width="17.50" height="25.14" fill="#a5d4e2" stroke="#222" stroke-width="0.9"/>
<rect x="179.80" y="1005.86" width="17.50" height="25.14" fill="#fefbfa" stroke="#222" stroke-width="0.9"/>
<rect x="197.30" y="1005.86" width="17.50" height="25.14" fill="#cce6ef" stroke="#222" stroke-width="0.9"/>
<rect x="214.80" y="1005.86" width="17.50" height="25.14" fill="#f2f9fb" stroke="#222" stroke-width="0.9"/>
<rect x="232.30" y="1005.86" width="17.50" height="25.14" fill="#d9ecf3" stroke="#222" stroke-width="0.9"/>
<rect x="249.80" y="1005.86" width="17.50" height="25.14" fill="#fbebe8" stroke="#222" stroke-width="0.9"/>
<rect x="267.30" y="1005.86" width="17.50" height="25.14" fill="#fbebe8" stroke="#222" stroke-width="0.9"/>
<rect x="284.80" y="1005.86" width="17.50" height="25.14" fill="#cce6ef" stroke="#222" stroke-width="0.9"/>
<rect x="302.30" y="1005.86" width="17.50" height="25.14" fill="#d94228" stroke="#222" stroke-width="0.9"/>
</g>
<g font-size="11.5" fill="#1a1a1a" text-anchor="middle">
<text x="83.80" y="693.77">*</text>
<text x="101.30" y="693.77">*</text>
<text x="118.80" y="693.77">*</text>
<text x="136.30" y="693.77">*</text>
<text x="153.80" y="693.77">*</text>
<text x="171.30" y="693.77">*</text>
<text x="188.80" y="693.77">*</text>
<text x="206.30" y="693.77">*</text>
<text x="223.80" y="693.77">*</text>
<text x="258.80" y="693.77">*</text>
<text x="293.80" y="693.77">*</text>
<text x="311.30" y="693.77">*</text>
<text x="83.80" y="718.91">*</text>
<text x="101.30" y="718.91">*</text>
<text x="118.80" y="718.91">*</text>
<text x="136.30" y="718.91">*</text>
<text x="171.30" y="718.91">*</text>
<text x="206.30" y="718.91">*</text>
<text x="223.80" y="718.91">*</text>
<text x="241.30" y="718.91">*</text>
<text x="258.80" y="718.91">*</text>
<text x="276.30" y="718.91">*</text>
<text x="293.80" y="718.91">*</text>
<text x="311.30" y="718.91">*</text>
<text x="83.80" y="744.06">*</text>
<text x="101.30" y="744.06">*</text>
<text x="118.80" y="744.06">*</text>
<text x="136.30" y="744.06">*</text>
<text x="153.80" y="744.06">*</text>
<text x="171.30" y="744.06">*</text>
<text x="206.30" y="744.06">*</text>
<text x="223.80" y="744.06">*</text>
<text x="258.80" y="744.06">*</text>
<text x="293.80" y="744.06">*</text>
<text x="311.30" y="744.06">*</text>
<text x="83.80" y="769.20">*</text>
<text x="101.30" y="769.20">*</text>
<text x="118.80" y="769.20">*</text>
<text x="136.30" y="769.20">*</text>
<text x="153.80" y="769.20">*</text>
<text x="171.30" y="769.20">*</text>
<text x="188.80" y="769.20">*</text>
<text x="206.30" y="769.20">*</text>
<text x="258.80" y="769.20">*</text>
<text x="293.80" y="769.20">*</text>
<text x="311.30" y="769.20">*</text>
<text x="83.80" y="794.34">*</text>
<text x="118.80" y="794.34">*</text>
<text x="136.30" y="794.34">*</text>
<text x="153.80" y="794.34">*</text>
<text x="188.80" y="794.34">*</text>
<text x="206.30" y="794.34">*</text>
<text x="223.80" y="794.34">*</text>
<text x="258.80" y="794.34">*</text>
<text x="83.80" y="819.49">*</text>
<text x="101.30" y="819.49">*</text>
<text x="118.80" y="819.49">*</text>
<text x="136.30" y="819.49">*</text>
<text x="171.30" y="819.49">*</text>
<text x="206.30" y="819.49">*</text>
<text x="241.30" y="819.49">*</text>
<text x="258.80" y="819.49">*</text>
<text x="293.80" y="819.49">*</text>
<text x="311.30" y="819.49">*</text>
<text x="83.80" y="844.63">*</text>
<text x="136.30" y="844.63">*</text>
<text x="153.80" y="844.63">*</text>
<text x="188.80" y="844.63">*</text>
<text x="223.80" y="844.63">*</text>
<text x="83.80" y="869.77">*</text>
<text x="101.30" y="869.77">*</text>
<text x="118.80" y="869.77">*</text>
<text x="136.30" y="869.77">*</text>
<text x="153.80" y="869.77">*</text>
<text x="171.30" y="869.77">*</text>
<text x="206.30" y="869.77">*</text>
<text x="223.80" y="869.77">*</text>
<text x="258.80" y="869.77">*</text>
<text x="293.80" y="869.77">*</text>
<text x="83.80" y="894.91">*</text>
<text x="101.30" y="894.91">*</text>
<text x="118.80" y="894.91">*</text>
<text x="153.80" y="894.91">*</text>
<text x="188.80" y="894.91">*</text>
<text x="206.30" y="894.91">*</text>
<text x="223.80" y="894.91">*</text>
<text x="258.80" y="894.91">*</text>
<text x="276.30" y="894.91">*</text>
<text x="101.30" y="920.06">*</text>
<text x="171.30" y="920.06">*</text>
<text x="241.30" y="920.06">*</text>
<text x="83.80" y="945.20">*</text>
<text x="101.30" y="945.20">*</text>
<text x="118.80" y="945.20">*</text>
<text x="136.30" y="945.20">*</text>
<text x="153.80" y="945.20">*</text>
<text x="171.30" y="945.20">*</text>
<text x="206.30" y="945.20">*</text>
<text x="223.80" y="945.20">*</text>
<text x="258.80" y="945.20">*</text>
<text x="101.30" y="970.34">*</text>
<text x="223.80" y="970.34">*</text>
<text x="276.30" y="970.34">*</text>
<text x="83.80" y="995.49">*</text>
<text x="101.30" y="995.49">*</text>
<text x="118.80" y="995.49">*</text>
<text x="136.30" y="995.49">*</text>
<text x="171.30" y="995.49">*</text>
<text x="206.30" y="995.49">*</text>
<text x="293.80" y="995.49">*</text>
<text x="83.80" y="1020.63">*</text>
<text x="101.30" y="1020.63">*</text>
<text x="118.80" y="1020.63">*</text>
<text x="136.30" y="1020.63">*</text>
<text x="171.30" y="1020.63">*</text>
<text x="311.30" y="1020.63">*</text>
</g>
<text transform="translate(20.77 696.67) scale(0.9852 1)" font-size="14.61" fill="#000">CEBPB</text>
<text transform="translate(34.25 721.81) scale(0.9852 1)" font-size="14.61" fill="#000">ATF3</text>
<text transform="translate(27.85 746.96) scale(0.9852 1)" font-size="14.61" fill="#000">DDIT3</text>
<text transform="translate(23.03 772.10) scale(0.9852 1)" font-size="14.61" fill="#000">CXCL8</text>
<text transform="translate(-2.49 797.24) scale(0.9852 1)" font-size="14.61" fill="#000">ATP6V0D1</text>
<text transform="translate(30.62 822.39) scale(0.9852 1)" font-size="14.83" fill="#000">NFYB</text>
<text transform="translate(13.45 847.53) scale(0.9852 1)" font-size="14.61" fill="#000">DNAJC3</text>
<text transform="translate(21.44 872.67) scale(0.9852 1)" font-size="14.61" fill="#000">EIF2S3</text>
<text transform="translate(5.38 897.81) scale(0.9852 1)" font-size="14.83" fill="#000">DNAJB11</text>
<text transform="translate(11.04 922.96) scale(0.9852 1)" font-size="14.61" fill="#000">EXOSC3</text>
<text transform="translate(33.80 948.10) scale(0.9852 1)" font-size="14.83" fill="#000">TLN1</text>
<text transform="translate(15.93 973.24) scale(0.9852 1)" font-size="14.61" fill="#000">TSPYL2</text>
<text transform="translate(21.51 998.39) scale(0.9852 1)" font-size="14.61" fill="#000">EIF2S1</text>
<text transform="translate(32.73 1023.53) scale(0.9852 1)" font-size="14.61" fill="#000">CCL2</text>
<text transform="translate(90.15 1083.51) rotate(-90) scale(0.9509 1)" font-size="14.75" fill="#000">CEBPB</text>
<text transform="translate(107.65 1070.38) rotate(-90) scale(0.9509 1)" font-size="14.75" fill="#000">ATF3</text>
<text transform="translate(125.15 1076.61) rotate(-90) scale(0.9509 1)" font-size="14.75" fill="#000">DDIT3</text>
<text transform="translate(142.65 1081.31) rotate(-90) scale(0.9509 1)" font-size="14.75" fill="#000">CXCL8</text>
<text transform="translate(160.15 1106.18) rotate(-90) scale(0.9509 1)" font-size="14.75" fill="#000">ATP6V0D1</text>
<text transform="translate(177.65 1073.92) rotate(-90) scale(0.9509 1)" font-size="14.97" fill="#000">NFYB</text>
<text transform="translate(195.15 1090.64) rotate(-90) scale(0.9509 1)" font-size="14.75" fill="#000">DNAJC3</text>
<text transform="translate(212.65 1082.86) rotate(-90) scale(0.9509 1)" font-size="14.75" fill="#000">EIF2S3</text>
<text transform="translate(230.15 1098.51) rotate(-90) scale(0.9509 1)" font-size="14.97" fill="#000">DNAJB11</text>
<text transform="translate(247.65 1092.99) rotate(-90) scale(0.9509 1)" font-size="14.75" fill="#000">EXOSC3</text>
<text transform="translate(265.15 1070.82) rotate(-90) scale(0.9509 1)" font-size="14.97" fill="#000">TLN1</text>
<text transform="translate(282.65 1088.23) rotate(-90) scale(0.9509 1)" font-size="14.75" fill="#000">TSPYL2</text>
<text transform="translate(300.15 1082.79) rotate(-90) scale(0.9509 1)" font-size="14.75" fill="#000">EIF2S1</text>
<text transform="translate(317.65 1071.86) rotate(-90) scale(0.9509 1)" font-size="14.75" fill="#000">CCL2</text>
<text x="331.6" y="794.1" font-size="11" fill="#000" text-anchor="middle">*</text>
<text transform="translate(337.38 796.90) scale(0.9683 1)" font-size="15.32" fill="#000">P&lt;0.05</text>
<text transform="translate(328.12 820.80) scale(1.0112 1)" font-size="15.18" fill="#000">Cor</text>
<rect x="327.1" y="831.5" width="17.9" height="88.5" fill="url(#gB)"/>
<line x1="327.1" x2="331.1" y1="831.50" y2="831.50" stroke="#fff" stroke-width="1.2"/>
<line x1="340.6" x2="345" y1="831.50" y2="831.50" stroke="#fff" stroke-width="1.2"/>
<text transform="translate(353.91 836.60) scale(1.0171 1)" font-size="14.04" fill="#000">1.0</text>
<line x1="327.1" x2="331.1" y1="853.62" y2="853.62" stroke="#fff" stroke-width="1.2"/>
<line x1="340.6" x2="345" y1="853.62" y2="853.62" stroke="#fff" stroke-width="1.2"/>
<text transform="translate(354.45 858.73) scale(1.0171 1)" font-size="13.89" fill="#000">0.5</text>
<line x1="327.1" x2="331.1" y1="875.75" y2="875.75" stroke="#fff" stroke-width="1.2"/>
<line x1="340.6" x2="345" y1="875.75" y2="875.75" stroke="#fff" stroke-width="1.2"/>
<text transform="translate(354.44 880.85) scale(1.0171 1)" font-size="14.04" fill="#000">0.0</text>
<line x1="327.1" x2="331.1" y1="897.88" y2="897.88" stroke="#fff" stroke-width="1.2"/>
<line x1="340.6" x2="345" y1="897.88" y2="897.88" stroke="#fff" stroke-width="1.2"/>
<text transform="translate(353.90 902.98) scale(1.0171 1)" font-size="13.89" fill="#000">−0.5</text>
<line x1="327.1" x2="331.1" y1="920.00" y2="920.00" stroke="#fff" stroke-width="1.2"/>
<line x1="340.6" x2="345" y1="920.00" y2="920.00" stroke="#fff" stroke-width="1.2"/>
<text transform="translate(353.90 925.10) scale(1.0171 1)" font-size="14.04" fill="#000">−1.0</text>
<text transform="translate(436.77 676.90) scale(0.9253 1)" font-size="24.06" fill="#000" stroke="#000" stroke-width="0.35">C</text>
<path d="M499.7 713.3V996.6H711" stroke="#000" stroke-width="1.4" fill="none"/>
<line x1="494.3" x2="499.7" y1="948.00" y2="948.00" stroke="#000" stroke-width="1.25"/>
<text transform="translate(468.94 952.15) scale(1.1924 1)" font-size="12.75" fill="#222">2.2</text>
<line x1="494.3" x2="499.7" y1="898.00" y2="898.00" stroke="#000" stroke-width="1.25"/>
<text transform="translate(468.95 902.15) scale(1.1733 1)" font-size="12.75" fill="#222">2.4</text>
<line x1="494.3" x2="499.7" y1="848.00" y2="848.00" stroke="#000" stroke-width="1.25"/>
<text transform="translate(468.94 852.15) scale(1.1866 1)" font-size="12.75" fill="#222">2.6</text>
<line x1="494.3" x2="499.7" y1="798.00" y2="798.00" stroke="#000" stroke-width="1.25"/>
<text transform="translate(468.94 802.15) scale(1.1861 1)" font-size="12.75" fill="#222">2.8</text>
<line x1="494.3" x2="499.7" y1="748.00" y2="748.00" stroke="#000" stroke-width="1.25"/>
<text transform="translate(469.13 752.15) scale(1.1711 1)" font-size="12.75" fill="#222">3.0</text>
<line x1="557.30" x2="557.30" y1="996.6" y2="1001.8" stroke="#000" stroke-width="1.1"/>
<text transform="translate(543.74 1018.70) scale(1.0805 1)" font-size="13.89" fill="#000">Con</text>
<line x1="653.50" x2="653.50" y1="996.6" y2="1001.8" stroke="#000" stroke-width="1.1"/>
<text transform="translate(640.27 1018.70) scale(0.9919 1)" font-size="14.97" fill="#000">AMI</text>
<text transform="translate(460.40 878.27) rotate(-90) scale(0.9946 1)" font-size="14.89" fill="#000">Scores</text>
<path d="M557.2 735.6V731.3H653.7V735.6" stroke="#000" stroke-width="1.3" fill="none"/>
<text x="598.0" y="731.4" font-size="11" letter-spacing="0.82" fill="#111">***</text>
<path d="M549.60 877.40C549.32 878.05 548.85 879.70 547.90 881.30C546.95 882.90 545.28 885.12 543.90 887.00C542.52 888.88 541.00 890.72 539.60 892.60C538.20 894.48 536.75 896.42 535.50 898.30C534.25 900.18 533.05 902.02 532.10 903.90C531.15 905.78 530.50 907.72 529.80 909.60C529.10 911.48 528.75 913.32 527.90 915.20C527.05 917.08 525.90 919.00 524.70 920.90C523.50 922.80 521.73 924.72 520.70 926.60C519.67 928.48 518.58 930.32 518.50 932.20C518.42 934.08 519.35 936.02 520.20 937.90C521.05 939.78 522.38 941.62 523.60 943.50C524.82 945.38 526.15 947.32 527.50 949.20C528.85 951.08 530.37 952.92 531.70 954.80C533.03 956.68 534.37 958.60 535.50 960.50C536.63 962.40 537.47 964.32 538.50 966.20C539.53 968.08 540.60 969.92 541.70 971.80C542.80 973.68 544.07 975.62 545.10 977.50C546.13 979.38 547.05 981.22 547.90 983.10C548.75 984.98 549.82 987.85 550.20 988.80L564.40 988.80C564.78 987.85 565.85 984.98 566.70 983.10C567.55 981.22 568.47 979.38 569.50 977.50C570.53 975.62 571.80 973.68 572.90 971.80C574.00 969.92 575.07 968.08 576.10 966.20C577.13 964.32 577.97 962.40 579.10 960.50C580.23 958.60 581.57 956.68 582.90 954.80C584.23 952.92 585.75 951.08 587.10 949.20C588.45 947.32 589.78 945.38 591.00 943.50C592.22 941.62 593.55 939.78 594.40 937.90C595.25 936.02 596.18 934.08 596.10 932.20C596.02 930.32 594.93 928.48 593.90 926.60C592.87 924.72 591.10 922.80 589.90 920.90C588.70 919.00 587.55 917.08 586.70 915.20C585.85 913.32 585.50 911.48 584.80 909.60C584.10 907.72 583.45 905.78 582.50 903.90C581.55 902.02 580.35 900.18 579.10 898.30C577.85 896.42 576.40 894.48 575.00 892.60C573.60 890.72 572.08 888.88 570.70 887.00C569.32 885.12 567.65 882.90 566.70 881.30C565.75 879.70 565.28 878.05 565.00 877.40Z" fill="#a3d5e3" stroke="#000" stroke-width="1.45" stroke-linejoin="round"/>
<path d="M649.70 739.00C649.83 740.00 650.25 742.65 650.50 745.00C650.75 747.35 651.08 750.27 651.20 753.10C651.32 755.93 651.28 758.98 651.20 762.00C651.12 765.02 650.90 768.20 650.70 771.20C650.50 774.20 650.35 777.00 650.00 780.00C649.65 783.00 649.27 786.15 648.60 789.20C647.93 792.25 647.02 795.28 646.00 798.30C644.98 801.32 643.68 804.28 642.50 807.30C641.32 810.32 640.10 813.38 638.90 816.40C637.70 819.42 636.50 822.38 635.30 825.40C634.10 828.42 632.93 831.48 631.70 834.50C630.47 837.52 629.25 840.50 627.90 843.50C626.55 846.50 625.05 849.48 623.60 852.50C622.15 855.52 620.53 858.58 619.20 861.60C617.87 864.62 616.38 867.58 615.60 870.60C614.82 873.62 614.42 876.68 614.50 879.70C614.58 882.72 615.08 885.70 616.10 888.70C617.12 891.70 618.93 894.68 620.60 897.70C622.27 900.72 624.40 903.78 626.10 906.80C627.80 909.82 629.27 912.78 630.80 915.80C632.33 918.82 634.25 922.63 635.30 924.90C636.35 927.17 636.80 928.65 637.10 929.40L669.90 929.40C670.20 928.65 670.65 927.17 671.70 924.90C672.75 922.63 674.67 918.82 676.20 915.80C677.73 912.78 679.20 909.82 680.90 906.80C682.60 903.78 684.73 900.72 686.40 897.70C688.07 894.68 689.88 891.70 690.90 888.70C691.92 885.70 692.42 882.72 692.50 879.70C692.58 876.68 692.18 873.62 691.40 870.60C690.62 867.58 689.13 864.62 687.80 861.60C686.47 858.58 684.85 855.52 683.40 852.50C681.95 849.48 680.45 846.50 679.10 843.50C677.75 840.50 676.53 837.52 675.30 834.50C674.07 831.48 672.90 828.42 671.70 825.40C670.50 822.38 669.30 819.42 668.10 816.40C666.90 813.38 665.68 810.32 664.50 807.30C663.32 804.28 662.02 801.32 661.00 798.30C659.98 795.28 659.07 792.25 658.40 789.20C657.73 786.15 657.35 783.00 657.00 780.00C656.65 777.00 656.50 774.20 656.30 771.20C656.10 768.20 655.88 765.02 655.80 762.00C655.72 758.98 655.68 755.93 655.80 753.10C655.92 750.27 656.25 747.35 656.50 745.00C656.75 742.65 657.17 740.00 657.30 739.00Z" fill="#e9a097" stroke="#000" stroke-width="1.45" stroke-linejoin="round"/>
<path d="M547.10 932.30H567.50M557.30 926.10V938.40M552.70 926.10H561.90M552.70 938.40H561.90" stroke="#000" stroke-width="1.4" fill="none"/>
<circle cx="557.30" cy="932.30" r="3.1" fill="#fff" stroke="#000" stroke-width="1"/>
<path d="M643.20 869.50H663.80M653.50 859.50V879.20M648.90 859.50H658.10M648.90 879.20H658.10" stroke="#000" stroke-width="1.4" fill="none"/>
<circle cx="653.50" cy="869.50" r="3.1" fill="#fff" stroke="#000" stroke-width="1"/>
</svg></body></html>
